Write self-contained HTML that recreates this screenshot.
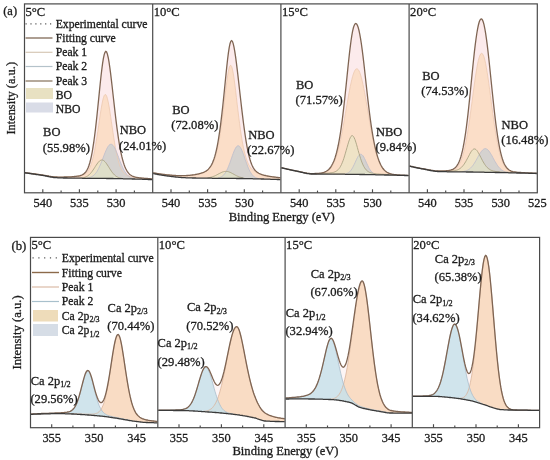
<!DOCTYPE html>
<html><head><meta charset="utf-8"><title>XPS spectra</title><style>
html,body{margin:0;padding:0;background:#fff;}
svg{display:block;}
text{font-family:'Liberation Serif', 'Times New Roman', serif;fill:#1c1c1c;stroke:#1c1c1c;stroke-width:0.3px;}
</style></head><body>
<svg width="550" height="460" viewBox="0 0 550 460">
<rect width="550" height="460" fill="#fff"/>
<clipPath id="tc0"><rect x="24.5" y="3.9" width="128.2" height="188.9"/></clipPath>
<g clip-path="url(#tc0)">
<path d="M25,172.6 25.8,172.7 26.6,172.8 27.4,172.9 28.2,173 29,173.1 29.8,173.2 30.6,173.4 31.4,173.5 32.2,173.6 33,173.7 33.8,173.8 34.6,173.9 35.4,174 36.2,174.1 37,174.2 37.8,174.3 38.6,174.4 39.4,174.6 40.2,174.7 41,174.8 41.8,174.9 42.6,175 43.4,175.1 44.2,175.3 45,175.4 45.8,175.6 46.6,175.7 47.4,175.9 48.2,176 49,176.2 49.8,176.3 50.6,176.4 51.4,176.6 52.2,176.7 53,176.8 53.8,176.9 54.6,176.9 55.4,177 56.2,177 57,177 57.8,177.1 58.6,177.1 59.4,177.1 60.2,177.1 61,177.1 61.8,177.1 62.6,177.1 63.4,177.1 64.2,177 65,177 65.8,177 66.6,177 67.4,177 68.2,176.9 69,176.9 69.8,176.9 70.6,176.8 71.4,176.8 72.2,176.7 73,176.7 73.8,176.6 74.6,176.5 75.4,176.4 76.2,176.3 77,176.2 77.8,176.1 78.6,176 79.4,175.8 80.2,175.6 81,175.3 81.8,175 82.6,174.6 83.4,174.1 84.2,173.5 85,172.8 85.8,171.8 86.6,170.6 87.4,169.2 88.2,167.4 89,165.3 89.8,162.7 90.6,159.6 91.4,156.1 92.2,152 93,147.2 93.8,141.9 94.6,136 95.4,129.6 96.2,122.6 97,115.2 97.8,107.5 98.6,99.6 99.4,91.6 100.2,83.8 101,76.3 101.8,69.5 102.6,63.4 103.4,58.4 104.2,54.6 105,52.3 105.8,51.4 106.6,52 107.4,54.1 108.2,57.5 109,61.9 109.8,67.3 110.6,73.4 111.4,80.1 112.2,87 113,94.2 113.8,101.3 114.6,108.4 115.4,115.3 116.2,121.9 117,128.1 117.8,133.9 118.6,139.3 119.4,144.3 120.2,148.8 121,152.8 121.8,156.4 122.6,159.6 123.4,162.4 124.2,164.9 125,167 125.8,168.8 126.6,170.3 127.4,171.6 128.2,172.7 129,173.6 129.8,174.4 130.6,175 131.4,175.5 132.2,176 133,176.3 133.8,176.6 134.6,176.9 135.4,177.1 136.2,177.3 137,177.4 137.8,177.6 138.6,177.7 139.4,177.8 140.2,177.9 141,178 141.8,178.1 142.6,178.1 143.4,178.2 144.2,178.3 145,178.3 145.8,178.4 146.6,178.5 147.4,178.5 148.2,178.6 149,178.6 149.8,178.7 150.6,178.8 151.4,178.8 152.2,178.9 152.2,179.6 151.4,179.6 150.6,179.5 149.8,179.5 149,179.5 148.2,179.5 147.4,179.4 146.6,179.4 145.8,179.4 145,179.3 144.2,179.3 143.4,179.3 142.6,179.3 141.8,179.2 141,179.2 140.2,179.2 139.4,179.2 138.6,179.2 137.8,179.1 137,179.1 136.2,179.1 135.4,179.1 134.6,179 133.8,179 133,179 132.2,179 131.4,178.9 130.6,178.9 129.8,178.9 129,178.9 128.2,178.9 127.4,178.8 126.6,178.8 125.8,178.8 125,178.8 124.2,178.8 123.4,178.8 122.6,178.7 121.8,178.7 121,178.7 120.2,178.7 119.4,178.7 118.6,178.6 117.8,178.6 117,178.6 116.2,178.6 115.4,178.6 114.6,178.6 113.8,178.6 113,178.5 112.2,178.5 111.4,178.5 110.6,178.5 109.8,178.5 109,178.5 108.2,178.5 107.4,178.5 106.6,178.5 105.8,178.4 105,178.4 104.2,178.4 103.4,178.4 102.6,178.4 101.8,178.4 101,178.4 100.2,178.4 99.4,178.4 98.6,178.4 97.8,178.4 97,178.4 96.2,178.4 95.4,178.3 94.6,178.3 93.8,178.3 93,178.3 92.2,178.3 91.4,178.3 90.6,178.3 89.8,178.3 89,178.3 88.2,178.3 87.4,178.3 86.6,178.3 85.8,178.3 85,178.3 84.2,178.3 83.4,178.3 82.6,178.3 81.8,178.2 81,178.2 80.2,178.2 79.4,178.2 78.6,178.2 77.8,178.2 77,178.2 76.2,178.2 75.4,178.2 74.6,178.2 73.8,178.2 73,178.1 72.2,178.1 71.4,178.1 70.6,178.1 69.8,178.1 69,178.1 68.2,178.1 67.4,178.1 66.6,178 65.8,178 65,178 64.2,178 63.4,178 62.6,177.9 61.8,177.9 61,177.9 60.2,177.9 59.4,177.8 58.6,177.8 57.8,177.8 57,177.7 56.2,177.7 55.4,177.6 54.6,177.6 53.8,177.5 53,177.4 52.2,177.2 51.4,177.1 50.6,177 49.8,176.8 49,176.7 48.2,176.5 47.4,176.3 46.6,176.2 45.8,176 45,175.9 44.2,175.7 43.4,175.6 42.6,175.4 41.8,175.3 41,175.2 40.2,175.1 39.4,174.9 38.6,174.8 37.8,174.7 37,174.6 36.2,174.5 35.4,174.3 34.6,174.2 33.8,174.1 33,174 32.2,173.9 31.4,173.8 30.6,173.6 29.8,173.5 29,173.4 28.2,173.3 27.4,173.2 26.6,173.1 25.8,173 25,172.9Z" fill="#fcebec"/>
<path d="M32.2,173.6 33,173.7 33.8,173.8 34.6,173.9 35.4,174 36.2,174.1 37,174.2 37.8,174.3 38.6,174.5 39.4,174.6 40.2,174.7 41,174.8 41.8,174.9 42.6,175 43.4,175.2 44.2,175.3 45,175.4 45.8,175.6 46.6,175.7 47.4,175.9 48.2,176 49,176.2 49.8,176.3 50.6,176.4 51.4,176.6 52.2,176.7 53,176.8 53.8,176.9 54.6,176.9 55.4,177 56.2,177 57,177.1 57.8,177.1 58.6,177.1 59.4,177.1 60.2,177.1 61,177.1 61.8,177.1 62.6,177.1 63.4,177.1 64.2,177.1 65,177 65.8,177 66.6,177 67.4,177 68.2,176.9 69,176.9 69.8,176.9 70.6,176.8 71.4,176.8 72.2,176.7 73,176.7 73.8,176.6 74.6,176.6 75.4,176.5 76.2,176.4 77,176.3 77.8,176.2 78.6,176.1 79.4,176 80.2,175.8 81,175.6 81.8,175.4 82.6,175.1 83.4,174.8 84.2,174.4 85,174 85.8,173.4 86.6,172.6 87.4,171.8 88.2,170.7 89,169.3 89.8,167.7 90.6,165.8 91.4,163.6 92.2,161 93,157.9 93.8,154.5 94.6,150.6 95.4,146.3 96.2,141.6 97,136.6 97.8,131.3 98.6,125.8 99.4,120.3 100.2,114.9 101,109.8 101.8,105.1 102.6,101 103.4,97.8 104.2,95.6 105,94.5 105.8,94.7 106.6,96 107.4,98.5 108.2,101.9 109,106.1 109.8,111 110.6,116.2 111.4,121.7 112.2,127.2 113,132.6 113.8,137.9 114.6,142.8 115.4,147.5 116.2,151.7 117,155.5 117.8,158.9 118.6,161.9 119.4,164.4 120.2,166.6 121,168.5 121.8,170.1 122.6,171.4 123.4,172.4 124.2,173.3 125,174 125.8,174.6 126.6,175.1 127.4,175.5 128.2,175.8 129,176.1 129.8,176.3 130.6,176.5 131.4,176.7 132.2,176.9 133,177 133.8,177.1 134.6,177.3 135.4,177.4 136.2,177.5 137,177.6 137.8,177.7 138.6,177.8 139.4,177.9 140.2,177.9 141,178 141.8,178.1 142.6,178.2 143.4,178.2 144.2,178.3 145,178.4 145.8,178.4 146.6,178.5 147.4,178.5 148.2,178.6 149,178.7 149.8,178.7 150.6,178.8 151.4,178.8 152.2,178.9 152.2,179.6 151.4,179.6 150.6,179.5 149.8,179.5 149,179.5 148.2,179.5 147.4,179.4 146.6,179.4 145.8,179.4 145,179.3 144.2,179.3 143.4,179.3 142.6,179.3 141.8,179.2 141,179.2 140.2,179.2 139.4,179.2 138.6,179.2 137.8,179.1 137,179.1 136.2,179.1 135.4,179.1 134.6,179 133.8,179 133,179 132.2,179 131.4,178.9 130.6,178.9 129.8,178.9 129,178.9 128.2,178.9 127.4,178.8 126.6,178.8 125.8,178.8 125,178.8 124.2,178.8 123.4,178.8 122.6,178.7 121.8,178.7 121,178.7 120.2,178.7 119.4,178.7 118.6,178.6 117.8,178.6 117,178.6 116.2,178.6 115.4,178.6 114.6,178.6 113.8,178.6 113,178.5 112.2,178.5 111.4,178.5 110.6,178.5 109.8,178.5 109,178.5 108.2,178.5 107.4,178.5 106.6,178.5 105.8,178.4 105,178.4 104.2,178.4 103.4,178.4 102.6,178.4 101.8,178.4 101,178.4 100.2,178.4 99.4,178.4 98.6,178.4 97.8,178.4 97,178.4 96.2,178.4 95.4,178.3 94.6,178.3 93.8,178.3 93,178.3 92.2,178.3 91.4,178.3 90.6,178.3 89.8,178.3 89,178.3 88.2,178.3 87.4,178.3 86.6,178.3 85.8,178.3 85,178.3 84.2,178.3 83.4,178.3 82.6,178.3 81.8,178.2 81,178.2 80.2,178.2 79.4,178.2 78.6,178.2 77.8,178.2 77,178.2 76.2,178.2 75.4,178.2 74.6,178.2 73.8,178.2 73,178.1 72.2,178.1 71.4,178.1 70.6,178.1 69.8,178.1 69,178.1 68.2,178.1 67.4,178.1 66.6,178 65.8,178 65,178 64.2,178 63.4,178 62.6,177.9 61.8,177.9 61,177.9 60.2,177.9 59.4,177.8 58.6,177.8 57.8,177.8 57,177.7 56.2,177.7 55.4,177.6 54.6,177.6 53.8,177.5 53,177.4 52.2,177.2 51.4,177.1 50.6,177 49.8,176.8 49,176.7 48.2,176.5 47.4,176.3 46.6,176.2 45.8,176 45,175.9 44.2,175.7 43.4,175.6 42.6,175.4 41.8,175.3 41,175.2 40.2,175.1 39.4,174.9 38.6,174.8 37.8,174.7 37,174.6 36.2,174.5 35.4,174.3 34.6,174.2 33.8,174.1 33,174 32.2,173.9Z" fill="#fbdec8"/>
<path d="M87.4,177.9 88.2,177.8 89,177.6 89.8,177.4 90.6,177.2 91.4,176.8 92.2,176.4 93,175.9 93.8,175.2 94.6,174.5 95.4,173.6 96.2,172.6 97,171.4 97.8,170.1 98.6,168.6 99.4,166.9 100.2,165.1 101,163.2 101.8,161.2 102.6,159.1 103.4,157 104.2,154.9 105,152.8 105.8,150.9 106.6,149.2 107.4,147.6 108.2,146.3 109,145.3 109.8,144.6 110.6,144.3 111.4,144.3 112.2,144.7 113,145.4 113.8,146.4 114.6,147.7 115.4,149.3 116.2,151.1 117,153.1 117.8,155.1 118.6,157.2 119.4,159.4 120.2,161.5 121,163.5 121.8,165.5 122.6,167.3 123.4,169 124.2,170.5 125,171.8 125.8,173 126.6,174.1 127.4,175 128.2,175.8 129,176.4 129.8,177 130.6,177.4 131.4,177.8 132.2,178.1 133,178.3 133.8,178.5 134.6,178.7 134.6,179 133.8,179 133,179 132.2,179 131.4,178.9 130.6,178.9 129.8,178.9 129,178.9 128.2,178.9 127.4,178.8 126.6,178.8 125.8,178.8 125,178.8 124.2,178.8 123.4,178.8 122.6,178.7 121.8,178.7 121,178.7 120.2,178.7 119.4,178.7 118.6,178.6 117.8,178.6 117,178.6 116.2,178.6 115.4,178.6 114.6,178.6 113.8,178.6 113,178.5 112.2,178.5 111.4,178.5 110.6,178.5 109.8,178.5 109,178.5 108.2,178.5 107.4,178.5 106.6,178.5 105.8,178.4 105,178.4 104.2,178.4 103.4,178.4 102.6,178.4 101.8,178.4 101,178.4 100.2,178.4 99.4,178.4 98.6,178.4 97.8,178.4 97,178.4 96.2,178.4 95.4,178.3 94.6,178.3 93.8,178.3 93,178.3 92.2,178.3 91.4,178.3 90.6,178.3 89.8,178.3 89,178.3 88.2,178.3 87.4,178.3Z" fill="rgba(200,206,210,0.75)"/>
<path d="M81.8,177.9 82.6,177.8 83.4,177.7 84.2,177.5 85,177.2 85.8,176.9 86.6,176.5 87.4,176.1 88.2,175.5 89,174.9 89.8,174.1 90.6,173.3 91.4,172.3 92.2,171.3 93,170.1 93.8,168.9 94.6,167.7 95.4,166.4 96.2,165.2 97,164 97.8,162.9 98.6,161.9 99.4,161.1 100.2,160.5 101,160.1 101.8,160 102.6,160.1 103.4,160.4 104.2,161 105,161.8 105.8,162.7 106.6,163.8 107.4,165 108.2,166.2 109,167.5 109.8,168.8 110.6,170 111.4,171.2 112.2,172.3 113,173.3 113.8,174.2 114.6,175 115.4,175.7 116.2,176.3 117,176.8 117.8,177.2 118.6,177.5 119.4,177.8 120.2,178 121,178.2 121.8,178.3 121.8,178.7 121,178.7 120.2,178.7 119.4,178.7 118.6,178.6 117.8,178.6 117,178.6 116.2,178.6 115.4,178.6 114.6,178.6 113.8,178.6 113,178.5 112.2,178.5 111.4,178.5 110.6,178.5 109.8,178.5 109,178.5 108.2,178.5 107.4,178.5 106.6,178.5 105.8,178.4 105,178.4 104.2,178.4 103.4,178.4 102.6,178.4 101.8,178.4 101,178.4 100.2,178.4 99.4,178.4 98.6,178.4 97.8,178.4 97,178.4 96.2,178.4 95.4,178.3 94.6,178.3 93.8,178.3 93,178.3 92.2,178.3 91.4,178.3 90.6,178.3 89.8,178.3 89,178.3 88.2,178.3 87.4,178.3 86.6,178.3 85.8,178.3 85,178.3 84.2,178.3 83.4,178.3 82.6,178.3 81.8,178.2Z" fill="rgba(230,232,196,0.55)"/>
<path d="M32.2,173.6 33,173.7 33.8,173.8 34.6,173.9 35.4,174 36.2,174.1 37,174.2 37.8,174.3 38.6,174.5 39.4,174.6 40.2,174.7 41,174.8 41.8,174.9 42.6,175 43.4,175.2 44.2,175.3 45,175.4 45.8,175.6 46.6,175.7 47.4,175.9 48.2,176 49,176.2 49.8,176.3 50.6,176.4 51.4,176.6 52.2,176.7 53,176.8 53.8,176.9 54.6,176.9 55.4,177 56.2,177 57,177.1 57.8,177.1 58.6,177.1 59.4,177.1 60.2,177.1 61,177.1 61.8,177.1 62.6,177.1 63.4,177.1 64.2,177.1 65,177 65.8,177 66.6,177 67.4,177 68.2,176.9 69,176.9 69.8,176.9 70.6,176.8 71.4,176.8 72.2,176.7 73,176.7 73.8,176.6 74.6,176.6 75.4,176.5 76.2,176.4 77,176.3 77.8,176.2 78.6,176.1 79.4,176 80.2,175.8 81,175.6 81.8,175.4 82.6,175.1 83.4,174.8 84.2,174.4 85,174 85.8,173.4 86.6,172.6 87.4,171.8 88.2,170.7 89,169.3 89.8,167.7 90.6,165.8 91.4,163.6 92.2,161 93,157.9 93.8,154.5 94.6,150.6 95.4,146.3 96.2,141.6 97,136.6 97.8,131.3 98.6,125.8 99.4,120.3 100.2,114.9 101,109.8 101.8,105.1 102.6,101 103.4,97.8 104.2,95.6 105,94.5 105.8,94.7 106.6,96 107.4,98.5 108.2,101.9 109,106.1 109.8,111 110.6,116.2 111.4,121.7 112.2,127.2 113,132.6 113.8,137.9 114.6,142.8 115.4,147.5 116.2,151.7 117,155.5 117.8,158.9 118.6,161.9 119.4,164.4 120.2,166.6 121,168.5 121.8,170.1 122.6,171.4 123.4,172.4 124.2,173.3 125,174 125.8,174.6 126.6,175.1 127.4,175.5 128.2,175.8 129,176.1 129.8,176.3 130.6,176.5 131.4,176.7 132.2,176.9 133,177 133.8,177.1 134.6,177.3 135.4,177.4 136.2,177.5 137,177.6 137.8,177.7 138.6,177.8 139.4,177.9 140.2,177.9 141,178 141.8,178.1 142.6,178.2 143.4,178.2 144.2,178.3 145,178.4 145.8,178.4 146.6,178.5 147.4,178.5 148.2,178.6 149,178.7 149.8,178.7 150.6,178.8 151.4,178.8 152.2,178.9" fill="none" stroke="#ecc9b0" stroke-width="0.8"/>
<path d="M87.4,177.9 88.2,177.8 89,177.6 89.8,177.4 90.6,177.2 91.4,176.8 92.2,176.4 93,175.9 93.8,175.2 94.6,174.5 95.4,173.6 96.2,172.6 97,171.4 97.8,170.1 98.6,168.6 99.4,166.9 100.2,165.1 101,163.2 101.8,161.2 102.6,159.1 103.4,157 104.2,154.9 105,152.8 105.8,150.9 106.6,149.2 107.4,147.6 108.2,146.3 109,145.3 109.8,144.6 110.6,144.3 111.4,144.3 112.2,144.7 113,145.4 113.8,146.4 114.6,147.7 115.4,149.3 116.2,151.1 117,153.1 117.8,155.1 118.6,157.2 119.4,159.4 120.2,161.5 121,163.5 121.8,165.5 122.6,167.3 123.4,169 124.2,170.5 125,171.8 125.8,173 126.6,174.1 127.4,175 128.2,175.8 129,176.4 129.8,177 130.6,177.4 131.4,177.8 132.2,178.1 133,178.3 133.8,178.5 134.6,178.7" fill="none" stroke="#bdbccb" stroke-width="0.8"/>
<path d="M81.8,177.9 82.6,177.8 83.4,177.7 84.2,177.5 85,177.2 85.8,176.9 86.6,176.5 87.4,176.1 88.2,175.5 89,174.9 89.8,174.1 90.6,173.3 91.4,172.3 92.2,171.3 93,170.1 93.8,168.9 94.6,167.7 95.4,166.4 96.2,165.2 97,164 97.8,162.9 98.6,161.9 99.4,161.1 100.2,160.5 101,160.1 101.8,160 102.6,160.1 103.4,160.4 104.2,161 105,161.8 105.8,162.7 106.6,163.8 107.4,165 108.2,166.2 109,167.5 109.8,168.8 110.6,170 111.4,171.2 112.2,172.3 113,173.3 113.8,174.2 114.6,175 115.4,175.7 116.2,176.3 117,176.8 117.8,177.2 118.6,177.5 119.4,177.8 120.2,178 121,178.2 121.8,178.3" fill="none" stroke="#aaa382" stroke-width="0.9"/>
<path d="M25,172.6 25.8,172.7 26.6,172.8 27.4,172.9 28.2,173 29,173.1 29.8,173.2 30.6,173.4 31.4,173.5 32.2,173.6 33,173.7 33.8,173.8 34.6,173.9 35.4,174 36.2,174.1 37,174.2 37.8,174.3 38.6,174.4 39.4,174.6 40.2,174.7 41,174.8 41.8,174.9 42.6,175 43.4,175.1 44.2,175.3 45,175.4 45.8,175.6 46.6,175.7 47.4,175.9 48.2,176 49,176.2 49.8,176.3 50.6,176.4 51.4,176.6 52.2,176.7 53,176.8 53.8,176.9 54.6,176.9 55.4,177 56.2,177 57,177 57.8,177.1 58.6,177.1 59.4,177.1 60.2,177.1 61,177.1 61.8,177.1 62.6,177.1 63.4,177.1 64.2,177 65,177 65.8,177 66.6,177 67.4,177 68.2,176.9 69,176.9 69.8,176.9 70.6,176.8 71.4,176.8 72.2,176.7 73,176.7 73.8,176.6 74.6,176.5 75.4,176.4 76.2,176.3 77,176.2 77.8,176.1 78.6,176 79.4,175.8 80.2,175.6 81,175.3 81.8,175 82.6,174.6 83.4,174.1 84.2,173.5 85,172.8 85.8,171.8 86.6,170.6 87.4,169.2 88.2,167.4 89,165.3 89.8,162.7 90.6,159.6 91.4,156.1 92.2,152 93,147.2 93.8,141.9 94.6,136 95.4,129.6 96.2,122.6 97,115.2 97.8,107.5 98.6,99.6 99.4,91.6 100.2,83.8 101,76.3 101.8,69.5 102.6,63.4 103.4,58.4 104.2,54.6 105,52.3 105.8,51.4 106.6,52 107.4,54.1 108.2,57.5 109,61.9 109.8,67.3 110.6,73.4 111.4,80.1 112.2,87 113,94.2 113.8,101.3 114.6,108.4 115.4,115.3 116.2,121.9 117,128.1 117.8,133.9 118.6,139.3 119.4,144.3 120.2,148.8 121,152.8 121.8,156.4 122.6,159.6 123.4,162.4 124.2,164.9 125,167 125.8,168.8 126.6,170.3 127.4,171.6 128.2,172.7 129,173.6 129.8,174.4 130.6,175 131.4,175.5 132.2,176 133,176.3 133.8,176.6 134.6,176.9 135.4,177.1 136.2,177.3 137,177.4 137.8,177.6 138.6,177.7 139.4,177.8 140.2,177.9 141,178 141.8,178.1 142.6,178.1 143.4,178.2 144.2,178.3 145,178.3 145.8,178.4 146.6,178.5 147.4,178.5 148.2,178.6 149,178.6 149.8,178.7 150.6,178.8 151.4,178.8 152.2,178.9" fill="none" stroke="#7f6553" stroke-width="1.3"/>
<path d="M25,172.9 25.8,173 26.6,173.1 27.4,173.2 28.2,173.3 29,173.4 29.8,173.5 30.6,173.6 31.4,173.8 32.2,173.9 33,174 33.8,174.1 34.6,174.2 35.4,174.3 36.2,174.5 37,174.6 37.8,174.7 38.6,174.8 39.4,174.9 40.2,175.1 41,175.2 41.8,175.3 42.6,175.4 43.4,175.6 44.2,175.7 45,175.9 45.8,176 46.6,176.2 47.4,176.3 48.2,176.5 49,176.7 49.8,176.8 50.6,177 51.4,177.1 52.2,177.2 53,177.4 53.8,177.5 54.6,177.6 55.4,177.6 56.2,177.7 57,177.7 57.8,177.8 58.6,177.8 59.4,177.8 60.2,177.9 61,177.9 61.8,177.9 62.6,177.9 63.4,178 64.2,178 65,178 65.8,178 66.6,178 67.4,178.1 68.2,178.1 69,178.1 69.8,178.1 70.6,178.1 71.4,178.1 72.2,178.1 73,178.1 73.8,178.2 74.6,178.2 75.4,178.2 76.2,178.2 77,178.2 77.8,178.2 78.6,178.2 79.4,178.2 80.2,178.2 81,178.2 81.8,178.2 82.6,178.3 83.4,178.3 84.2,178.3 85,178.3 85.8,178.3 86.6,178.3 87.4,178.3 88.2,178.3 89,178.3 89.8,178.3 90.6,178.3 91.4,178.3 92.2,178.3 93,178.3 93.8,178.3 94.6,178.3 95.4,178.3 96.2,178.4 97,178.4 97.8,178.4 98.6,178.4 99.4,178.4 100.2,178.4 101,178.4 101.8,178.4 102.6,178.4 103.4,178.4 104.2,178.4 105,178.4 105.8,178.4 106.6,178.5 107.4,178.5 108.2,178.5 109,178.5 109.8,178.5 110.6,178.5 111.4,178.5 112.2,178.5 113,178.5 113.8,178.6 114.6,178.6 115.4,178.6 116.2,178.6 117,178.6 117.8,178.6 118.6,178.6 119.4,178.7 120.2,178.7 121,178.7 121.8,178.7 122.6,178.7 123.4,178.8 124.2,178.8 125,178.8 125.8,178.8 126.6,178.8 127.4,178.8 128.2,178.9 129,178.9 129.8,178.9 130.6,178.9 131.4,178.9 132.2,179 133,179 133.8,179 134.6,179 135.4,179.1 136.2,179.1 137,179.1 137.8,179.1 138.6,179.2 139.4,179.2 140.2,179.2 141,179.2 141.8,179.2 142.6,179.3 143.4,179.3 144.2,179.3 145,179.3 145.8,179.4 146.6,179.4 147.4,179.4 148.2,179.5 149,179.5 149.8,179.5 150.6,179.5 151.4,179.6 152.2,179.6" fill="none" stroke="#3a3a3a" stroke-width="1.3"/>
</g>
<line x1="42.8" y1="192.8" x2="42.8" y2="189.3" stroke="#4a4a4a" stroke-width="1.15"/>
<text x="42.8" y="207.2" font-size="12.4" text-anchor="middle">540</text>
<line x1="61.1" y1="192.8" x2="61.1" y2="190.6" stroke="#4a4a4a" stroke-width="1.15"/>
<line x1="79.4" y1="192.8" x2="79.4" y2="189.3" stroke="#4a4a4a" stroke-width="1.15"/>
<text x="79.4" y="207.2" font-size="12.4" text-anchor="middle">535</text>
<line x1="97.8" y1="192.8" x2="97.8" y2="190.6" stroke="#4a4a4a" stroke-width="1.15"/>
<line x1="116.1" y1="192.8" x2="116.1" y2="189.3" stroke="#4a4a4a" stroke-width="1.15"/>
<text x="116.1" y="207.2" font-size="12.4" text-anchor="middle">530</text>
<line x1="134.4" y1="192.8" x2="134.4" y2="190.6" stroke="#4a4a4a" stroke-width="1.15"/>
<text x="25.5" y="15.6" font-size="12.6">5°C</text>
<clipPath id="tc1"><rect x="152.7" y="3.9" width="128.2" height="188.9"/></clipPath>
<g clip-path="url(#tc1)">
<path d="M153.2,172.8 154,172.9 154.8,173.1 155.6,173.2 156.4,173.3 157.2,173.5 158,173.6 158.8,173.7 159.6,173.9 160.4,174 161.2,174.1 162,174.2 162.8,174.3 163.6,174.4 164.4,174.5 165.2,174.6 166,174.7 166.8,174.8 167.6,174.9 168.4,175 169.2,175 170,175.1 170.8,175.2 171.6,175.2 172.4,175.3 173.2,175.4 174,175.4 174.8,175.5 175.6,175.5 176.4,175.6 177.2,175.6 178,175.6 178.8,175.7 179.6,175.7 180.4,175.7 181.2,175.7 182,175.7 182.8,175.7 183.6,175.7 184.4,175.6 185.2,175.6 186,175.6 186.8,175.5 187.6,175.5 188.4,175.4 189.2,175.3 190,175.3 190.8,175.2 191.6,175.1 192.4,175 193.2,174.9 194,174.8 194.8,174.7 195.6,174.5 196.4,174.4 197.2,174.2 198,174.1 198.8,173.9 199.6,173.7 200.4,173.5 201.2,173.2 202,173 202.8,172.7 203.6,172.3 204.4,172 205.2,171.5 206,171.1 206.8,170.5 207.6,169.9 208.4,169.1 209.2,168.2 210,167.2 210.8,166 211.6,164.6 212.4,163 213.2,161.1 214,158.9 214.8,156.4 215.6,153.4 216.4,150.1 217.2,146.3 218,142 218.8,137.2 219.6,131.9 220.4,126.1 221.2,119.7 222,112.9 222.8,105.7 223.6,98 224.4,90.2 225.2,82.2 226,74.2 226.8,66.5 227.6,59.3 228.4,52.9 229.2,47.7 230,43.7 230.8,41.4 231.6,40.6 232.4,41.3 233.2,43.6 234,47.1 234.8,51.6 235.6,56.9 236.4,62.9 237.2,69.4 238,76.1 238.8,83.1 239.6,90.2 240.4,97.2 241.2,104.2 242,111.1 242.8,117.7 243.6,124 244.4,129.9 245.2,135.5 246,140.6 246.8,145.3 247.6,149.5 248.4,153.3 249.2,156.6 250,159.5 250.8,162 251.6,164.2 252.4,166 253.2,167.6 254,168.9 254.8,170 255.6,170.9 256.4,171.6 257.2,172.3 258,172.8 258.8,173.3 259.6,173.7 260.4,174 261.2,174.3 262,174.6 262.8,174.8 263.6,175.1 264.4,175.3 265.2,175.5 266,175.7 266.8,175.8 267.6,176 268.4,176.1 269.2,176.3 270,176.4 270.8,176.6 271.6,176.7 272.4,176.8 273.2,176.9 274,177 274.8,177.1 275.6,177.2 276.4,177.3 277.2,177.4 278,177.5 278.8,177.6 279.6,177.7 280.4,177.8 280.4,179.6 279.6,179.6 278.8,179.5 278,179.5 277.2,179.5 276.4,179.4 275.6,179.4 274.8,179.4 274,179.4 273.2,179.3 272.4,179.3 271.6,179.3 270.8,179.3 270,179.2 269.2,179.2 268.4,179.2 267.6,179.2 266.8,179.1 266,179.1 265.2,179.1 264.4,179.1 263.6,179 262.8,179 262,179 261.2,179 260.4,178.9 259.6,178.9 258.8,178.9 258,178.9 257.2,178.9 256.4,178.8 255.6,178.8 254.8,178.8 254,178.8 253.2,178.8 252.4,178.7 251.6,178.7 250.8,178.7 250,178.7 249.2,178.7 248.4,178.6 247.6,178.6 246.8,178.6 246,178.6 245.2,178.6 244.4,178.6 243.6,178.6 242.8,178.5 242,178.5 241.2,178.5 240.4,178.5 239.6,178.5 238.8,178.5 238,178.5 237.2,178.5 236.4,178.5 235.6,178.4 234.8,178.4 234,178.4 233.2,178.4 232.4,178.4 231.6,178.4 230.8,178.4 230,178.4 229.2,178.4 228.4,178.4 227.6,178.4 226.8,178.4 226,178.4 225.2,178.3 224.4,178.3 223.6,178.3 222.8,178.3 222,178.3 221.2,178.3 220.4,178.3 219.6,178.3 218.8,178.3 218,178.3 217.2,178.3 216.4,178.3 215.6,178.3 214.8,178.3 214,178.3 213.2,178.3 212.4,178.3 211.6,178.2 210.8,178.2 210,178.2 209.2,178.2 208.4,178.2 207.6,178.2 206.8,178.2 206,178.2 205.2,178.2 204.4,178.2 203.6,178.2 202.8,178.2 202,178.1 201.2,178.1 200.4,178.1 199.6,178.1 198.8,178.1 198,178.1 197.2,178.1 196.4,178.1 195.6,178 194.8,178 194,178 193.2,178 192.4,178 191.6,177.9 190.8,177.9 190,177.9 189.2,177.9 188.4,177.9 187.6,177.8 186.8,177.8 186,177.8 185.2,177.7 184.4,177.7 183.6,177.7 182.8,177.6 182,177.6 181.2,177.5 180.4,177.4 179.6,177.4 178.8,177.3 178,177.2 177.2,177.2 176.4,177.1 175.6,177 174.8,176.9 174,176.8 173.2,176.7 172.4,176.6 171.6,176.5 170.8,176.4 170,176.3 169.2,176.2 168.4,176.1 167.6,176 166.8,175.9 166,175.8 165.2,175.7 164.4,175.6 163.6,175.4 162.8,175.3 162,175.2 161.2,175 160.4,174.9 159.6,174.8 158.8,174.6 158,174.5 157.2,174.3 156.4,174.2 155.6,174 154.8,173.8 154,173.7 153.2,173.5Z" fill="#fcebec"/>
<path d="M153.2,172.8 154,172.9 154.8,173.1 155.6,173.2 156.4,173.3 157.2,173.5 158,173.6 158.8,173.7 159.6,173.9 160.4,174 161.2,174.1 162,174.2 162.8,174.3 163.6,174.4 164.4,174.5 165.2,174.6 166,174.7 166.8,174.8 167.6,174.9 168.4,175 169.2,175 170,175.1 170.8,175.2 171.6,175.2 172.4,175.3 173.2,175.4 174,175.4 174.8,175.5 175.6,175.5 176.4,175.6 177.2,175.6 178,175.6 178.8,175.7 179.6,175.7 180.4,175.7 181.2,175.7 182,175.7 182.8,175.7 183.6,175.7 184.4,175.6 185.2,175.6 186,175.6 186.8,175.5 187.6,175.5 188.4,175.4 189.2,175.3 190,175.3 190.8,175.2 191.6,175.1 192.4,175 193.2,174.9 194,174.8 194.8,174.7 195.6,174.5 196.4,174.4 197.2,174.2 198,174.1 198.8,173.9 199.6,173.7 200.4,173.5 201.2,173.3 202,173 202.8,172.7 203.6,172.4 204.4,172.1 205.2,171.7 206,171.3 206.8,170.8 207.6,170.3 208.4,169.6 209.2,168.9 210,168 210.8,167 211.6,165.8 212.4,164.5 213.2,162.9 214,161 214.8,158.8 215.6,156.3 216.4,153.4 217.2,150.1 218,146.4 218.8,142.2 219.6,137.6 220.4,132.5 221.2,126.9 222,120.9 222.8,114.6 223.6,108 224.4,101.2 225.2,94.4 226,87.8 226.8,81.5 227.6,75.9 228.4,71.2 229.2,67.8 230,65.7 230.8,65.3 231.6,66.4 232.4,69.1 233.2,73.1 234,78.2 234.8,84.1 235.6,90.6 236.4,97.3 237.2,104.2 238,110.9 238.8,117.5 239.6,123.7 240.4,129.5 241.2,134.9 242,139.8 242.8,144.3 243.6,148.3 244.4,151.9 245.2,155 246,157.7 246.8,160.1 247.6,162.2 248.4,164 249.2,165.5 250,166.8 250.8,167.9 251.6,168.9 252.4,169.7 253.2,170.4 254,171.1 254.8,171.6 255.6,172.1 256.4,172.5 257.2,172.9 258,173.3 258.8,173.6 259.6,173.9 260.4,174.2 261.2,174.4 262,174.7 262.8,174.9 263.6,175.1 264.4,175.3 265.2,175.5 266,175.7 266.8,175.8 267.6,176 268.4,176.1 269.2,176.3 270,176.4 270.8,176.6 271.6,176.7 272.4,176.8 273.2,176.9 274,177 274.8,177.1 275.6,177.2 276.4,177.3 277.2,177.4 278,177.5 278.8,177.6 279.6,177.7 280.4,177.8 280.4,179.6 279.6,179.6 278.8,179.5 278,179.5 277.2,179.5 276.4,179.4 275.6,179.4 274.8,179.4 274,179.4 273.2,179.3 272.4,179.3 271.6,179.3 270.8,179.3 270,179.2 269.2,179.2 268.4,179.2 267.6,179.2 266.8,179.1 266,179.1 265.2,179.1 264.4,179.1 263.6,179 262.8,179 262,179 261.2,179 260.4,178.9 259.6,178.9 258.8,178.9 258,178.9 257.2,178.9 256.4,178.8 255.6,178.8 254.8,178.8 254,178.8 253.2,178.8 252.4,178.7 251.6,178.7 250.8,178.7 250,178.7 249.2,178.7 248.4,178.6 247.6,178.6 246.8,178.6 246,178.6 245.2,178.6 244.4,178.6 243.6,178.6 242.8,178.5 242,178.5 241.2,178.5 240.4,178.5 239.6,178.5 238.8,178.5 238,178.5 237.2,178.5 236.4,178.5 235.6,178.4 234.8,178.4 234,178.4 233.2,178.4 232.4,178.4 231.6,178.4 230.8,178.4 230,178.4 229.2,178.4 228.4,178.4 227.6,178.4 226.8,178.4 226,178.4 225.2,178.3 224.4,178.3 223.6,178.3 222.8,178.3 222,178.3 221.2,178.3 220.4,178.3 219.6,178.3 218.8,178.3 218,178.3 217.2,178.3 216.4,178.3 215.6,178.3 214.8,178.3 214,178.3 213.2,178.3 212.4,178.3 211.6,178.2 210.8,178.2 210,178.2 209.2,178.2 208.4,178.2 207.6,178.2 206.8,178.2 206,178.2 205.2,178.2 204.4,178.2 203.6,178.2 202.8,178.2 202,178.1 201.2,178.1 200.4,178.1 199.6,178.1 198.8,178.1 198,178.1 197.2,178.1 196.4,178.1 195.6,178 194.8,178 194,178 193.2,178 192.4,178 191.6,177.9 190.8,177.9 190,177.9 189.2,177.9 188.4,177.9 187.6,177.8 186.8,177.8 186,177.8 185.2,177.7 184.4,177.7 183.6,177.7 182.8,177.6 182,177.6 181.2,177.5 180.4,177.4 179.6,177.4 178.8,177.3 178,177.2 177.2,177.2 176.4,177.1 175.6,177 174.8,176.9 174,176.8 173.2,176.7 172.4,176.6 171.6,176.5 170.8,176.4 170,176.3 169.2,176.2 168.4,176.1 167.6,176 166.8,175.9 166,175.8 165.2,175.7 164.4,175.6 163.6,175.4 162.8,175.3 162,175.2 161.2,175 160.4,174.9 159.6,174.8 158.8,174.6 158,174.5 157.2,174.3 156.4,174.2 155.6,174 154.8,173.8 154,173.7 153.2,173.5Z" fill="#fbdec8"/>
<path d="M218,177.9 218.8,177.7 219.6,177.5 220.4,177.2 221.2,176.9 222,176.4 222.8,175.8 223.6,175.1 224.4,174.1 225.2,173.1 226,171.8 226.8,170.3 227.6,168.6 228.4,166.7 229.2,164.7 230,162.5 230.8,160.2 231.6,157.9 232.4,155.6 233.2,153.4 234,151.3 234.8,149.5 235.6,148 236.4,146.8 237.2,146.1 238,145.7 238.8,145.9 239.6,146.4 240.4,147.5 241.2,148.8 242,150.6 242.8,152.5 243.6,154.7 244.4,157 245.2,159.4 246,161.7 246.8,163.9 247.6,166.1 248.4,168.1 249.2,169.9 250,171.5 250.8,172.8 251.6,174 252.4,175.1 253.2,175.9 254,176.6 254.8,177.1 255.6,177.6 256.4,177.9 257.2,178.2 258,178.4 258.8,178.6 258.8,178.9 258,178.9 257.2,178.9 256.4,178.8 255.6,178.8 254.8,178.8 254,178.8 253.2,178.8 252.4,178.7 251.6,178.7 250.8,178.7 250,178.7 249.2,178.7 248.4,178.6 247.6,178.6 246.8,178.6 246,178.6 245.2,178.6 244.4,178.6 243.6,178.6 242.8,178.5 242,178.5 241.2,178.5 240.4,178.5 239.6,178.5 238.8,178.5 238,178.5 237.2,178.5 236.4,178.5 235.6,178.4 234.8,178.4 234,178.4 233.2,178.4 232.4,178.4 231.6,178.4 230.8,178.4 230,178.4 229.2,178.4 228.4,178.4 227.6,178.4 226.8,178.4 226,178.4 225.2,178.3 224.4,178.3 223.6,178.3 222.8,178.3 222,178.3 221.2,178.3 220.4,178.3 219.6,178.3 218.8,178.3 218,178.3Z" fill="rgba(200,206,210,0.75)"/>
<path d="M207.6,177.8 208.4,177.7 209.2,177.6 210,177.4 210.8,177.3 211.6,177.1 212.4,176.8 213.2,176.5 214,176.2 214.8,175.9 215.6,175.5 216.4,175.1 217.2,174.7 218,174.2 218.8,173.8 219.6,173.4 220.4,173 221.2,172.6 222,172.2 222.8,171.9 223.6,171.7 224.4,171.5 225.2,171.4 226,171.4 226.8,171.4 227.6,171.5 228.4,171.7 229.2,172 230,172.3 230.8,172.6 231.6,173.1 232.4,173.5 233.2,173.9 234,174.4 234.8,174.8 235.6,175.3 236.4,175.7 237.2,176.1 238,176.4 238.8,176.8 239.6,177.1 240.4,177.3 241.2,177.5 242,177.7 242.8,177.9 243.6,178.1 244.4,178.2 244.4,178.6 243.6,178.6 242.8,178.5 242,178.5 241.2,178.5 240.4,178.5 239.6,178.5 238.8,178.5 238,178.5 237.2,178.5 236.4,178.5 235.6,178.4 234.8,178.4 234,178.4 233.2,178.4 232.4,178.4 231.6,178.4 230.8,178.4 230,178.4 229.2,178.4 228.4,178.4 227.6,178.4 226.8,178.4 226,178.4 225.2,178.3 224.4,178.3 223.6,178.3 222.8,178.3 222,178.3 221.2,178.3 220.4,178.3 219.6,178.3 218.8,178.3 218,178.3 217.2,178.3 216.4,178.3 215.6,178.3 214.8,178.3 214,178.3 213.2,178.3 212.4,178.3 211.6,178.2 210.8,178.2 210,178.2 209.2,178.2 208.4,178.2 207.6,178.2Z" fill="rgba(230,232,196,0.55)"/>
<path d="M153.2,172.8 154,172.9 154.8,173.1 155.6,173.2 156.4,173.3 157.2,173.5 158,173.6 158.8,173.7 159.6,173.9 160.4,174 161.2,174.1 162,174.2 162.8,174.3 163.6,174.4 164.4,174.5 165.2,174.6 166,174.7 166.8,174.8 167.6,174.9 168.4,175 169.2,175 170,175.1 170.8,175.2 171.6,175.2 172.4,175.3 173.2,175.4 174,175.4 174.8,175.5 175.6,175.5 176.4,175.6 177.2,175.6 178,175.6 178.8,175.7 179.6,175.7 180.4,175.7 181.2,175.7 182,175.7 182.8,175.7 183.6,175.7 184.4,175.6 185.2,175.6 186,175.6 186.8,175.5 187.6,175.5 188.4,175.4 189.2,175.3 190,175.3 190.8,175.2 191.6,175.1 192.4,175 193.2,174.9 194,174.8 194.8,174.7 195.6,174.5 196.4,174.4 197.2,174.2 198,174.1 198.8,173.9 199.6,173.7 200.4,173.5 201.2,173.3 202,173 202.8,172.7 203.6,172.4 204.4,172.1 205.2,171.7 206,171.3 206.8,170.8 207.6,170.3 208.4,169.6 209.2,168.9 210,168 210.8,167 211.6,165.8 212.4,164.5 213.2,162.9 214,161 214.8,158.8 215.6,156.3 216.4,153.4 217.2,150.1 218,146.4 218.8,142.2 219.6,137.6 220.4,132.5 221.2,126.9 222,120.9 222.8,114.6 223.6,108 224.4,101.2 225.2,94.4 226,87.8 226.8,81.5 227.6,75.9 228.4,71.2 229.2,67.8 230,65.7 230.8,65.3 231.6,66.4 232.4,69.1 233.2,73.1 234,78.2 234.8,84.1 235.6,90.6 236.4,97.3 237.2,104.2 238,110.9 238.8,117.5 239.6,123.7 240.4,129.5 241.2,134.9 242,139.8 242.8,144.3 243.6,148.3 244.4,151.9 245.2,155 246,157.7 246.8,160.1 247.6,162.2 248.4,164 249.2,165.5 250,166.8 250.8,167.9 251.6,168.9 252.4,169.7 253.2,170.4 254,171.1 254.8,171.6 255.6,172.1 256.4,172.5 257.2,172.9 258,173.3 258.8,173.6 259.6,173.9 260.4,174.2 261.2,174.4 262,174.7 262.8,174.9 263.6,175.1 264.4,175.3 265.2,175.5 266,175.7 266.8,175.8 267.6,176 268.4,176.1 269.2,176.3 270,176.4 270.8,176.6 271.6,176.7 272.4,176.8 273.2,176.9 274,177 274.8,177.1 275.6,177.2 276.4,177.3 277.2,177.4 278,177.5 278.8,177.6 279.6,177.7 280.4,177.8" fill="none" stroke="#ecc9b0" stroke-width="0.8"/>
<path d="M218,177.9 218.8,177.7 219.6,177.5 220.4,177.2 221.2,176.9 222,176.4 222.8,175.8 223.6,175.1 224.4,174.1 225.2,173.1 226,171.8 226.8,170.3 227.6,168.6 228.4,166.7 229.2,164.7 230,162.5 230.8,160.2 231.6,157.9 232.4,155.6 233.2,153.4 234,151.3 234.8,149.5 235.6,148 236.4,146.8 237.2,146.1 238,145.7 238.8,145.9 239.6,146.4 240.4,147.5 241.2,148.8 242,150.6 242.8,152.5 243.6,154.7 244.4,157 245.2,159.4 246,161.7 246.8,163.9 247.6,166.1 248.4,168.1 249.2,169.9 250,171.5 250.8,172.8 251.6,174 252.4,175.1 253.2,175.9 254,176.6 254.8,177.1 255.6,177.6 256.4,177.9 257.2,178.2 258,178.4 258.8,178.6" fill="none" stroke="#bdbccb" stroke-width="0.8"/>
<path d="M207.6,177.8 208.4,177.7 209.2,177.6 210,177.4 210.8,177.3 211.6,177.1 212.4,176.8 213.2,176.5 214,176.2 214.8,175.9 215.6,175.5 216.4,175.1 217.2,174.7 218,174.2 218.8,173.8 219.6,173.4 220.4,173 221.2,172.6 222,172.2 222.8,171.9 223.6,171.7 224.4,171.5 225.2,171.4 226,171.4 226.8,171.4 227.6,171.5 228.4,171.7 229.2,172 230,172.3 230.8,172.6 231.6,173.1 232.4,173.5 233.2,173.9 234,174.4 234.8,174.8 235.6,175.3 236.4,175.7 237.2,176.1 238,176.4 238.8,176.8 239.6,177.1 240.4,177.3 241.2,177.5 242,177.7 242.8,177.9 243.6,178.1 244.4,178.2" fill="none" stroke="#aaa382" stroke-width="0.9"/>
<path d="M153.2,172.8 154,172.9 154.8,173.1 155.6,173.2 156.4,173.3 157.2,173.5 158,173.6 158.8,173.7 159.6,173.9 160.4,174 161.2,174.1 162,174.2 162.8,174.3 163.6,174.4 164.4,174.5 165.2,174.6 166,174.7 166.8,174.8 167.6,174.9 168.4,175 169.2,175 170,175.1 170.8,175.2 171.6,175.2 172.4,175.3 173.2,175.4 174,175.4 174.8,175.5 175.6,175.5 176.4,175.6 177.2,175.6 178,175.6 178.8,175.7 179.6,175.7 180.4,175.7 181.2,175.7 182,175.7 182.8,175.7 183.6,175.7 184.4,175.6 185.2,175.6 186,175.6 186.8,175.5 187.6,175.5 188.4,175.4 189.2,175.3 190,175.3 190.8,175.2 191.6,175.1 192.4,175 193.2,174.9 194,174.8 194.8,174.7 195.6,174.5 196.4,174.4 197.2,174.2 198,174.1 198.8,173.9 199.6,173.7 200.4,173.5 201.2,173.2 202,173 202.8,172.7 203.6,172.3 204.4,172 205.2,171.5 206,171.1 206.8,170.5 207.6,169.9 208.4,169.1 209.2,168.2 210,167.2 210.8,166 211.6,164.6 212.4,163 213.2,161.1 214,158.9 214.8,156.4 215.6,153.4 216.4,150.1 217.2,146.3 218,142 218.8,137.2 219.6,131.9 220.4,126.1 221.2,119.7 222,112.9 222.8,105.7 223.6,98 224.4,90.2 225.2,82.2 226,74.2 226.8,66.5 227.6,59.3 228.4,52.9 229.2,47.7 230,43.7 230.8,41.4 231.6,40.6 232.4,41.3 233.2,43.6 234,47.1 234.8,51.6 235.6,56.9 236.4,62.9 237.2,69.4 238,76.1 238.8,83.1 239.6,90.2 240.4,97.2 241.2,104.2 242,111.1 242.8,117.7 243.6,124 244.4,129.9 245.2,135.5 246,140.6 246.8,145.3 247.6,149.5 248.4,153.3 249.2,156.6 250,159.5 250.8,162 251.6,164.2 252.4,166 253.2,167.6 254,168.9 254.8,170 255.6,170.9 256.4,171.6 257.2,172.3 258,172.8 258.8,173.3 259.6,173.7 260.4,174 261.2,174.3 262,174.6 262.8,174.8 263.6,175.1 264.4,175.3 265.2,175.5 266,175.7 266.8,175.8 267.6,176 268.4,176.1 269.2,176.3 270,176.4 270.8,176.6 271.6,176.7 272.4,176.8 273.2,176.9 274,177 274.8,177.1 275.6,177.2 276.4,177.3 277.2,177.4 278,177.5 278.8,177.6 279.6,177.7 280.4,177.8" fill="none" stroke="#7f6553" stroke-width="1.3"/>
<path d="M153.2,173.5 154,173.7 154.8,173.8 155.6,174 156.4,174.2 157.2,174.3 158,174.5 158.8,174.6 159.6,174.8 160.4,174.9 161.2,175 162,175.2 162.8,175.3 163.6,175.4 164.4,175.6 165.2,175.7 166,175.8 166.8,175.9 167.6,176 168.4,176.1 169.2,176.2 170,176.3 170.8,176.4 171.6,176.5 172.4,176.6 173.2,176.7 174,176.8 174.8,176.9 175.6,177 176.4,177.1 177.2,177.2 178,177.2 178.8,177.3 179.6,177.4 180.4,177.4 181.2,177.5 182,177.6 182.8,177.6 183.6,177.7 184.4,177.7 185.2,177.7 186,177.8 186.8,177.8 187.6,177.8 188.4,177.9 189.2,177.9 190,177.9 190.8,177.9 191.6,177.9 192.4,178 193.2,178 194,178 194.8,178 195.6,178 196.4,178.1 197.2,178.1 198,178.1 198.8,178.1 199.6,178.1 200.4,178.1 201.2,178.1 202,178.1 202.8,178.2 203.6,178.2 204.4,178.2 205.2,178.2 206,178.2 206.8,178.2 207.6,178.2 208.4,178.2 209.2,178.2 210,178.2 210.8,178.2 211.6,178.2 212.4,178.3 213.2,178.3 214,178.3 214.8,178.3 215.6,178.3 216.4,178.3 217.2,178.3 218,178.3 218.8,178.3 219.6,178.3 220.4,178.3 221.2,178.3 222,178.3 222.8,178.3 223.6,178.3 224.4,178.3 225.2,178.3 226,178.4 226.8,178.4 227.6,178.4 228.4,178.4 229.2,178.4 230,178.4 230.8,178.4 231.6,178.4 232.4,178.4 233.2,178.4 234,178.4 234.8,178.4 235.6,178.4 236.4,178.5 237.2,178.5 238,178.5 238.8,178.5 239.6,178.5 240.4,178.5 241.2,178.5 242,178.5 242.8,178.5 243.6,178.6 244.4,178.6 245.2,178.6 246,178.6 246.8,178.6 247.6,178.6 248.4,178.6 249.2,178.7 250,178.7 250.8,178.7 251.6,178.7 252.4,178.7 253.2,178.8 254,178.8 254.8,178.8 255.6,178.8 256.4,178.8 257.2,178.9 258,178.9 258.8,178.9 259.6,178.9 260.4,178.9 261.2,179 262,179 262.8,179 263.6,179 264.4,179.1 265.2,179.1 266,179.1 266.8,179.1 267.6,179.2 268.4,179.2 269.2,179.2 270,179.2 270.8,179.3 271.6,179.3 272.4,179.3 273.2,179.3 274,179.4 274.8,179.4 275.6,179.4 276.4,179.4 277.2,179.5 278,179.5 278.8,179.5 279.6,179.6 280.4,179.6" fill="none" stroke="#3a3a3a" stroke-width="1.3"/>
</g>
<line x1="171" y1="192.8" x2="171" y2="189.3" stroke="#4a4a4a" stroke-width="1.15"/>
<text x="171" y="207.2" font-size="12.4" text-anchor="middle">540</text>
<line x1="189.3" y1="192.8" x2="189.3" y2="190.6" stroke="#4a4a4a" stroke-width="1.15"/>
<line x1="207.6" y1="192.8" x2="207.6" y2="189.3" stroke="#4a4a4a" stroke-width="1.15"/>
<text x="207.6" y="207.2" font-size="12.4" text-anchor="middle">535</text>
<line x1="226" y1="192.8" x2="226" y2="190.6" stroke="#4a4a4a" stroke-width="1.15"/>
<line x1="244.3" y1="192.8" x2="244.3" y2="189.3" stroke="#4a4a4a" stroke-width="1.15"/>
<text x="244.3" y="207.2" font-size="12.4" text-anchor="middle">530</text>
<line x1="262.6" y1="192.8" x2="262.6" y2="190.6" stroke="#4a4a4a" stroke-width="1.15"/>
<text x="153.7" y="15.6" font-size="12.6">10°C</text>
<clipPath id="tc2"><rect x="280.9" y="3.9" width="128.2" height="188.9"/></clipPath>
<g clip-path="url(#tc2)">
<path d="M281.4,167.7 282.2,167.9 283,168.1 283.8,168.2 284.6,168.4 285.4,168.6 286.2,168.8 287,169 287.8,169.1 288.6,169.3 289.4,169.5 290.2,169.6 291,169.8 291.8,170 292.6,170.1 293.4,170.3 294.2,170.5 295,170.6 295.8,170.8 296.6,170.9 297.4,171.1 298.2,171.3 299,171.5 299.8,171.6 300.6,171.8 301.4,172 302.2,172.2 303,172.4 303.8,172.6 304.6,172.7 305.4,172.9 306.2,173 307,173.2 307.8,173.3 308.6,173.4 309.4,173.5 310.2,173.6 311,173.6 311.8,173.6 312.6,173.6 313.4,173.6 314.2,173.6 315,173.5 315.8,173.5 316.6,173.5 317.4,173.4 318.2,173.4 319,173.3 319.8,173.2 320.6,173.1 321.4,173 322.2,172.8 323,172.6 323.8,172.4 324.6,172.1 325.4,171.7 326.2,171.3 327,170.8 327.8,170.2 328.6,169.5 329.4,168.7 330.2,167.8 331,166.6 331.8,165.3 332.6,163.8 333.4,162.1 334.2,160.2 335,157.9 335.8,155.3 336.6,152.4 337.4,149.1 338.2,145.5 339,141.4 339.8,136.8 340.6,131.8 341.4,126.3 342.2,120.3 343,113.9 343.8,107 344.6,99.8 345.4,92.3 346.2,84.6 347,76.7 347.8,68.9 348.6,61.3 349.4,53.9 350.2,47.1 351,41 351.8,35.6 352.6,31.2 353.4,27.8 354.2,25.4 355,24 355.8,23.5 356.6,24 357.4,25.3 358.2,27.5 359,30.5 359.8,34.3 360.6,38.8 361.4,44 362.2,49.8 363,56.2 363.8,62.9 364.6,70 365.4,77.3 366.2,84.6 367,91.8 367.8,98.9 368.6,105.7 369.4,112.2 370.2,118.3 371,124.1 371.8,129.4 372.6,134.4 373.4,138.9 374.2,143 375,146.8 375.8,150.2 376.6,153.3 377.4,156.1 378.2,158.6 379,160.8 379.8,162.7 380.6,164.5 381.4,166 382.2,167.3 383,168.5 383.8,169.5 384.6,170.4 385.4,171.1 386.2,171.7 387,172.3 387.8,172.7 388.6,173.1 389.4,173.5 390.2,173.7 391,174 391.8,174.1 392.6,174.3 393.4,174.4 394.2,174.6 395,174.7 395.8,174.7 396.6,174.8 397.4,174.9 398.2,174.9 399,175 399.8,175 400.6,175.1 401.4,175.1 402.2,175.1 403,175.2 403.8,175.2 404.6,175.2 405.4,175.3 406.2,175.3 407,175.3 407.8,175.4 408.6,175.4 408.6,175.6 407.8,175.6 407,175.5 406.2,175.5 405.4,175.5 404.6,175.5 403.8,175.4 403,175.4 402.2,175.4 401.4,175.4 400.6,175.4 399.8,175.3 399,175.3 398.2,175.3 397.4,175.3 396.6,175.2 395.8,175.2 395,175.2 394.2,175.2 393.4,175.2 392.6,175.1 391.8,175.1 391,175.1 390.2,175.1 389.4,175.1 388.6,175 387.8,175 387,175 386.2,175 385.4,175 384.6,175 383.8,174.9 383,174.9 382.2,174.9 381.4,174.9 380.6,174.9 379.8,174.8 379,174.8 378.2,174.8 377.4,174.8 376.6,174.8 375.8,174.8 375,174.7 374.2,174.7 373.4,174.7 372.6,174.7 371.8,174.7 371,174.7 370.2,174.6 369.4,174.6 368.6,174.6 367.8,174.6 367,174.6 366.2,174.6 365.4,174.6 364.6,174.5 363.8,174.5 363,174.5 362.2,174.5 361.4,174.5 360.6,174.5 359.8,174.5 359,174.4 358.2,174.4 357.4,174.4 356.6,174.4 355.8,174.4 355,174.4 354.2,174.4 353.4,174.4 352.6,174.4 351.8,174.3 351,174.3 350.2,174.3 349.4,174.3 348.6,174.3 347.8,174.3 347,174.3 346.2,174.3 345.4,174.3 344.6,174.2 343.8,174.2 343,174.2 342.2,174.2 341.4,174.2 340.6,174.2 339.8,174.2 339,174.2 338.2,174.2 337.4,174.2 336.6,174.2 335.8,174.2 335,174.2 334.2,174.2 333.4,174.2 332.6,174.1 331.8,174.1 331,174.1 330.2,174.1 329.4,174.1 328.6,174.1 327.8,174.1 327,174.1 326.2,174.1 325.4,174.1 324.6,174.1 323.8,174.1 323,174.1 322.2,174.1 321.4,174.1 320.6,174.1 319.8,174.1 319,174.1 318.2,174.1 317.4,174.1 316.6,174.1 315.8,174 315,174 314.2,174 313.4,174 312.6,174 311.8,174 311,174 310.2,173.9 309.4,173.8 308.6,173.7 307.8,173.6 307,173.5 306.2,173.3 305.4,173.2 304.6,173 303.8,172.8 303,172.6 302.2,172.4 301.4,172.3 300.6,172.1 299.8,171.9 299,171.7 298.2,171.5 297.4,171.3 296.6,171.1 295.8,171 295,170.8 294.2,170.6 293.4,170.5 292.6,170.3 291.8,170.1 291,170 290.2,169.8 289.4,169.6 288.6,169.4 287.8,169.3 287,169.1 286.2,168.9 285.4,168.7 284.6,168.6 283.8,168.4 283,168.2 282.2,168 281.4,167.8Z" fill="#fcebec"/>
<path d="M319.8,173.8 320.6,173.7 321.4,173.6 322.2,173.5 323,173.3 323.8,173.1 324.6,172.8 325.4,172.5 326.2,172.2 327,171.7 327.8,171.2 328.6,170.6 329.4,169.8 330.2,169 331,168 331.8,166.8 332.6,165.5 333.4,163.9 334.2,162.2 335,160.3 335.8,158.1 336.6,155.7 337.4,153 338.2,150.1 339,146.9 339.8,143.5 340.6,139.8 341.4,135.9 342.2,131.8 343,127.4 343.8,123 344.6,118.4 345.4,113.7 346.2,109 347,104.3 347.8,99.7 348.6,95.2 349.4,90.8 350.2,86.7 351,83 351.8,79.5 352.6,76.5 353.4,73.9 354.2,71.8 355,70.2 355.8,69.2 356.6,68.8 357.4,68.9 358.2,69.6 359,70.8 359.8,72.6 360.6,74.9 361.4,77.7 362.2,80.9 363,84.5 363.8,88.4 364.6,92.6 365.4,97.1 366.2,101.6 367,106.3 367.8,111.1 368.6,115.8 369.4,120.5 370.2,125 371,129.5 371.8,133.8 372.6,137.8 373.4,141.7 374.2,145.3 375,148.6 375.8,151.7 376.6,154.6 377.4,157.2 378.2,159.5 379,161.7 379.8,163.5 380.6,165.2 381.4,166.7 382.2,168 383,169.1 383.8,170.1 384.6,170.9 385.4,171.6 386.2,172.3 387,172.8 387.8,173.2 388.6,173.6 389.4,173.9 390.2,174.1 391,174.4 391.8,174.5 392.6,174.7 393.4,174.8 393.4,175.2 392.6,175.1 391.8,175.1 391,175.1 390.2,175.1 389.4,175.1 388.6,175 387.8,175 387,175 386.2,175 385.4,175 384.6,175 383.8,174.9 383,174.9 382.2,174.9 381.4,174.9 380.6,174.9 379.8,174.8 379,174.8 378.2,174.8 377.4,174.8 376.6,174.8 375.8,174.8 375,174.7 374.2,174.7 373.4,174.7 372.6,174.7 371.8,174.7 371,174.7 370.2,174.6 369.4,174.6 368.6,174.6 367.8,174.6 367,174.6 366.2,174.6 365.4,174.6 364.6,174.5 363.8,174.5 363,174.5 362.2,174.5 361.4,174.5 360.6,174.5 359.8,174.5 359,174.4 358.2,174.4 357.4,174.4 356.6,174.4 355.8,174.4 355,174.4 354.2,174.4 353.4,174.4 352.6,174.4 351.8,174.3 351,174.3 350.2,174.3 349.4,174.3 348.6,174.3 347.8,174.3 347,174.3 346.2,174.3 345.4,174.3 344.6,174.2 343.8,174.2 343,174.2 342.2,174.2 341.4,174.2 340.6,174.2 339.8,174.2 339,174.2 338.2,174.2 337.4,174.2 336.6,174.2 335.8,174.2 335,174.2 334.2,174.2 333.4,174.2 332.6,174.1 331.8,174.1 331,174.1 330.2,174.1 329.4,174.1 328.6,174.1 327.8,174.1 327,174.1 326.2,174.1 325.4,174.1 324.6,174.1 323.8,174.1 323,174.1 322.2,174.1 321.4,174.1 320.6,174.1 319.8,174.1Z" fill="#fbdec8"/>
<path d="M345.4,173.9 346.2,173.7 347,173.4 347.8,173.1 348.6,172.6 349.4,172 350.2,171.2 351,170.2 351.8,169.1 352.6,167.7 353.4,166.2 354.2,164.6 355,162.8 355.8,161 356.6,159.3 357.4,157.7 358.2,156.3 359,155.3 359.8,154.6 360.6,154.2 361.4,154.4 362.2,154.9 363,155.8 363.8,157.1 364.6,158.6 365.4,160.3 366.2,162.1 367,163.9 367.8,165.6 368.6,167.3 369.4,168.7 370.2,170 371,171.1 371.8,172 372.6,172.7 373.4,173.3 374.2,173.7 375,174 375.8,174.3 376.6,174.5 376.6,174.8 375.8,174.8 375,174.7 374.2,174.7 373.4,174.7 372.6,174.7 371.8,174.7 371,174.7 370.2,174.6 369.4,174.6 368.6,174.6 367.8,174.6 367,174.6 366.2,174.6 365.4,174.6 364.6,174.5 363.8,174.5 363,174.5 362.2,174.5 361.4,174.5 360.6,174.5 359.8,174.5 359,174.4 358.2,174.4 357.4,174.4 356.6,174.4 355.8,174.4 355,174.4 354.2,174.4 353.4,174.4 352.6,174.4 351.8,174.3 351,174.3 350.2,174.3 349.4,174.3 348.6,174.3 347.8,174.3 347,174.3 346.2,174.3 345.4,174.3Z" fill="rgba(200,206,210,0.75)"/>
<path d="M307.8,173.3 308.6,173.4 309.4,173.5 310.2,173.6 311,173.6 311.8,173.6 312.6,173.6 313.4,173.6 314.2,173.6 315,173.6 315.8,173.6 316.6,173.6 317.4,173.6 318.2,173.6 319,173.5 319.8,173.5 320.6,173.5 321.4,173.5 322.2,173.4 323,173.4 323.8,173.4 324.6,173.3 325.4,173.3 326.2,173.3 327,173.2 327.8,173.2 328.6,173.1 329.4,173 330.2,172.9 331,172.8 331.8,172.7 332.6,172.5 333.4,172.4 334.2,172.1 335,171.8 335.8,171.4 336.6,170.9 337.4,170.3 338.2,169.6 339,168.7 339.8,167.6 340.6,166.2 341.4,164.7 342.2,162.8 343,160.8 343.8,158.5 344.6,155.9 345.4,153.2 346.2,150.4 347,147.6 347.8,144.8 348.6,142.1 349.4,139.8 350.2,137.8 351,136.4 351.8,135.7 352.6,135.7 353.4,136.4 354.2,137.8 355,139.7 355.8,142.1 356.6,144.7 357.4,147.6 358.2,150.5 359,153.3 359.8,156 360.6,158.6 361.4,160.9 362.2,163 363,164.9 363.8,166.5 364.6,167.8 365.4,169 366.2,169.9 367,170.7 367.8,171.3 368.6,171.8 369.4,172.3 370.2,172.6 371,172.8 371.8,173.1 372.6,173.2 373.4,173.4 374.2,173.5 375,173.6 375.8,173.7 376.6,173.8 377.4,173.9 378.2,173.9 379,174 379.8,174.1 380.6,174.1 381.4,174.2 382.2,174.2 383,174.3 383.8,174.3 384.6,174.4 385.4,174.4 386.2,174.5 387,174.5 387.8,174.6 388.6,174.6 389.4,174.6 390.2,174.7 391,174.7 391.8,174.7 392.6,174.8 393.4,174.8 394.2,174.8 395,174.9 395.8,174.9 396.6,174.9 396.6,175.2 395.8,175.2 395,175.2 394.2,175.2 393.4,175.2 392.6,175.1 391.8,175.1 391,175.1 390.2,175.1 389.4,175.1 388.6,175 387.8,175 387,175 386.2,175 385.4,175 384.6,175 383.8,174.9 383,174.9 382.2,174.9 381.4,174.9 380.6,174.9 379.8,174.8 379,174.8 378.2,174.8 377.4,174.8 376.6,174.8 375.8,174.8 375,174.7 374.2,174.7 373.4,174.7 372.6,174.7 371.8,174.7 371,174.7 370.2,174.6 369.4,174.6 368.6,174.6 367.8,174.6 367,174.6 366.2,174.6 365.4,174.6 364.6,174.5 363.8,174.5 363,174.5 362.2,174.5 361.4,174.5 360.6,174.5 359.8,174.5 359,174.4 358.2,174.4 357.4,174.4 356.6,174.4 355.8,174.4 355,174.4 354.2,174.4 353.4,174.4 352.6,174.4 351.8,174.3 351,174.3 350.2,174.3 349.4,174.3 348.6,174.3 347.8,174.3 347,174.3 346.2,174.3 345.4,174.3 344.6,174.2 343.8,174.2 343,174.2 342.2,174.2 341.4,174.2 340.6,174.2 339.8,174.2 339,174.2 338.2,174.2 337.4,174.2 336.6,174.2 335.8,174.2 335,174.2 334.2,174.2 333.4,174.2 332.6,174.1 331.8,174.1 331,174.1 330.2,174.1 329.4,174.1 328.6,174.1 327.8,174.1 327,174.1 326.2,174.1 325.4,174.1 324.6,174.1 323.8,174.1 323,174.1 322.2,174.1 321.4,174.1 320.6,174.1 319.8,174.1 319,174.1 318.2,174.1 317.4,174.1 316.6,174.1 315.8,174 315,174 314.2,174 313.4,174 312.6,174 311.8,174 311,174 310.2,173.9 309.4,173.8 308.6,173.7 307.8,173.6Z" fill="rgba(230,232,196,0.55)"/>
<path d="M319.8,173.8 320.6,173.7 321.4,173.6 322.2,173.5 323,173.3 323.8,173.1 324.6,172.8 325.4,172.5 326.2,172.2 327,171.7 327.8,171.2 328.6,170.6 329.4,169.8 330.2,169 331,168 331.8,166.8 332.6,165.5 333.4,163.9 334.2,162.2 335,160.3 335.8,158.1 336.6,155.7 337.4,153 338.2,150.1 339,146.9 339.8,143.5 340.6,139.8 341.4,135.9 342.2,131.8 343,127.4 343.8,123 344.6,118.4 345.4,113.7 346.2,109 347,104.3 347.8,99.7 348.6,95.2 349.4,90.8 350.2,86.7 351,83 351.8,79.5 352.6,76.5 353.4,73.9 354.2,71.8 355,70.2 355.8,69.2 356.6,68.8 357.4,68.9 358.2,69.6 359,70.8 359.8,72.6 360.6,74.9 361.4,77.7 362.2,80.9 363,84.5 363.8,88.4 364.6,92.6 365.4,97.1 366.2,101.6 367,106.3 367.8,111.1 368.6,115.8 369.4,120.5 370.2,125 371,129.5 371.8,133.8 372.6,137.8 373.4,141.7 374.2,145.3 375,148.6 375.8,151.7 376.6,154.6 377.4,157.2 378.2,159.5 379,161.7 379.8,163.5 380.6,165.2 381.4,166.7 382.2,168 383,169.1 383.8,170.1 384.6,170.9 385.4,171.6 386.2,172.3 387,172.8 387.8,173.2 388.6,173.6 389.4,173.9 390.2,174.1 391,174.4 391.8,174.5 392.6,174.7 393.4,174.8" fill="none" stroke="#ecc9b0" stroke-width="0.8"/>
<path d="M345.4,173.9 346.2,173.7 347,173.4 347.8,173.1 348.6,172.6 349.4,172 350.2,171.2 351,170.2 351.8,169.1 352.6,167.7 353.4,166.2 354.2,164.6 355,162.8 355.8,161 356.6,159.3 357.4,157.7 358.2,156.3 359,155.3 359.8,154.6 360.6,154.2 361.4,154.4 362.2,154.9 363,155.8 363.8,157.1 364.6,158.6 365.4,160.3 366.2,162.1 367,163.9 367.8,165.6 368.6,167.3 369.4,168.7 370.2,170 371,171.1 371.8,172 372.6,172.7 373.4,173.3 374.2,173.7 375,174 375.8,174.3 376.6,174.5" fill="none" stroke="#bdbccb" stroke-width="0.8"/>
<path d="M307.8,173.3 308.6,173.4 309.4,173.5 310.2,173.6 311,173.6 311.8,173.6 312.6,173.6 313.4,173.6 314.2,173.6 315,173.6 315.8,173.6 316.6,173.6 317.4,173.6 318.2,173.6 319,173.5 319.8,173.5 320.6,173.5 321.4,173.5 322.2,173.4 323,173.4 323.8,173.4 324.6,173.3 325.4,173.3 326.2,173.3 327,173.2 327.8,173.2 328.6,173.1 329.4,173 330.2,172.9 331,172.8 331.8,172.7 332.6,172.5 333.4,172.4 334.2,172.1 335,171.8 335.8,171.4 336.6,170.9 337.4,170.3 338.2,169.6 339,168.7 339.8,167.6 340.6,166.2 341.4,164.7 342.2,162.8 343,160.8 343.8,158.5 344.6,155.9 345.4,153.2 346.2,150.4 347,147.6 347.8,144.8 348.6,142.1 349.4,139.8 350.2,137.8 351,136.4 351.8,135.7 352.6,135.7 353.4,136.4 354.2,137.8 355,139.7 355.8,142.1 356.6,144.7 357.4,147.6 358.2,150.5 359,153.3 359.8,156 360.6,158.6 361.4,160.9 362.2,163 363,164.9 363.8,166.5 364.6,167.8 365.4,169 366.2,169.9 367,170.7 367.8,171.3 368.6,171.8 369.4,172.3 370.2,172.6 371,172.8 371.8,173.1 372.6,173.2 373.4,173.4 374.2,173.5 375,173.6 375.8,173.7 376.6,173.8 377.4,173.9 378.2,173.9 379,174 379.8,174.1 380.6,174.1 381.4,174.2 382.2,174.2 383,174.3 383.8,174.3 384.6,174.4 385.4,174.4 386.2,174.5 387,174.5 387.8,174.6 388.6,174.6 389.4,174.6 390.2,174.7 391,174.7 391.8,174.7 392.6,174.8 393.4,174.8 394.2,174.8 395,174.9 395.8,174.9 396.6,174.9" fill="none" stroke="#aaa382" stroke-width="0.9"/>
<path d="M281.4,167.7 282.2,167.9 283,168.1 283.8,168.2 284.6,168.4 285.4,168.6 286.2,168.8 287,169 287.8,169.1 288.6,169.3 289.4,169.5 290.2,169.6 291,169.8 291.8,170 292.6,170.1 293.4,170.3 294.2,170.5 295,170.6 295.8,170.8 296.6,170.9 297.4,171.1 298.2,171.3 299,171.5 299.8,171.6 300.6,171.8 301.4,172 302.2,172.2 303,172.4 303.8,172.6 304.6,172.7 305.4,172.9 306.2,173 307,173.2 307.8,173.3 308.6,173.4 309.4,173.5 310.2,173.6 311,173.6 311.8,173.6 312.6,173.6 313.4,173.6 314.2,173.6 315,173.5 315.8,173.5 316.6,173.5 317.4,173.4 318.2,173.4 319,173.3 319.8,173.2 320.6,173.1 321.4,173 322.2,172.8 323,172.6 323.8,172.4 324.6,172.1 325.4,171.7 326.2,171.3 327,170.8 327.8,170.2 328.6,169.5 329.4,168.7 330.2,167.8 331,166.6 331.8,165.3 332.6,163.8 333.4,162.1 334.2,160.2 335,157.9 335.8,155.3 336.6,152.4 337.4,149.1 338.2,145.5 339,141.4 339.8,136.8 340.6,131.8 341.4,126.3 342.2,120.3 343,113.9 343.8,107 344.6,99.8 345.4,92.3 346.2,84.6 347,76.7 347.8,68.9 348.6,61.3 349.4,53.9 350.2,47.1 351,41 351.8,35.6 352.6,31.2 353.4,27.8 354.2,25.4 355,24 355.8,23.5 356.6,24 357.4,25.3 358.2,27.5 359,30.5 359.8,34.3 360.6,38.8 361.4,44 362.2,49.8 363,56.2 363.8,62.9 364.6,70 365.4,77.3 366.2,84.6 367,91.8 367.8,98.9 368.6,105.7 369.4,112.2 370.2,118.3 371,124.1 371.8,129.4 372.6,134.4 373.4,138.9 374.2,143 375,146.8 375.8,150.2 376.6,153.3 377.4,156.1 378.2,158.6 379,160.8 379.8,162.7 380.6,164.5 381.4,166 382.2,167.3 383,168.5 383.8,169.5 384.6,170.4 385.4,171.1 386.2,171.7 387,172.3 387.8,172.7 388.6,173.1 389.4,173.5 390.2,173.7 391,174 391.8,174.1 392.6,174.3 393.4,174.4 394.2,174.6 395,174.7 395.8,174.7 396.6,174.8 397.4,174.9 398.2,174.9 399,175 399.8,175 400.6,175.1 401.4,175.1 402.2,175.1 403,175.2 403.8,175.2 404.6,175.2 405.4,175.3 406.2,175.3 407,175.3 407.8,175.4 408.6,175.4" fill="none" stroke="#7f6553" stroke-width="1.3"/>
<path d="M281.4,167.8 282.2,168 283,168.2 283.8,168.4 284.6,168.6 285.4,168.7 286.2,168.9 287,169.1 287.8,169.3 288.6,169.4 289.4,169.6 290.2,169.8 291,170 291.8,170.1 292.6,170.3 293.4,170.5 294.2,170.6 295,170.8 295.8,171 296.6,171.1 297.4,171.3 298.2,171.5 299,171.7 299.8,171.9 300.6,172.1 301.4,172.3 302.2,172.4 303,172.6 303.8,172.8 304.6,173 305.4,173.2 306.2,173.3 307,173.5 307.8,173.6 308.6,173.7 309.4,173.8 310.2,173.9 311,174 311.8,174 312.6,174 313.4,174 314.2,174 315,174 315.8,174 316.6,174.1 317.4,174.1 318.2,174.1 319,174.1 319.8,174.1 320.6,174.1 321.4,174.1 322.2,174.1 323,174.1 323.8,174.1 324.6,174.1 325.4,174.1 326.2,174.1 327,174.1 327.8,174.1 328.6,174.1 329.4,174.1 330.2,174.1 331,174.1 331.8,174.1 332.6,174.1 333.4,174.2 334.2,174.2 335,174.2 335.8,174.2 336.6,174.2 337.4,174.2 338.2,174.2 339,174.2 339.8,174.2 340.6,174.2 341.4,174.2 342.2,174.2 343,174.2 343.8,174.2 344.6,174.2 345.4,174.3 346.2,174.3 347,174.3 347.8,174.3 348.6,174.3 349.4,174.3 350.2,174.3 351,174.3 351.8,174.3 352.6,174.4 353.4,174.4 354.2,174.4 355,174.4 355.8,174.4 356.6,174.4 357.4,174.4 358.2,174.4 359,174.4 359.8,174.5 360.6,174.5 361.4,174.5 362.2,174.5 363,174.5 363.8,174.5 364.6,174.5 365.4,174.6 366.2,174.6 367,174.6 367.8,174.6 368.6,174.6 369.4,174.6 370.2,174.6 371,174.7 371.8,174.7 372.6,174.7 373.4,174.7 374.2,174.7 375,174.7 375.8,174.8 376.6,174.8 377.4,174.8 378.2,174.8 379,174.8 379.8,174.8 380.6,174.9 381.4,174.9 382.2,174.9 383,174.9 383.8,174.9 384.6,175 385.4,175 386.2,175 387,175 387.8,175 388.6,175 389.4,175.1 390.2,175.1 391,175.1 391.8,175.1 392.6,175.1 393.4,175.2 394.2,175.2 395,175.2 395.8,175.2 396.6,175.2 397.4,175.3 398.2,175.3 399,175.3 399.8,175.3 400.6,175.4 401.4,175.4 402.2,175.4 403,175.4 403.8,175.4 404.6,175.5 405.4,175.5 406.2,175.5 407,175.5 407.8,175.6 408.6,175.6" fill="none" stroke="#3a3a3a" stroke-width="1.3"/>
</g>
<line x1="299.2" y1="192.8" x2="299.2" y2="189.3" stroke="#4a4a4a" stroke-width="1.15"/>
<text x="299.2" y="207.2" font-size="12.4" text-anchor="middle">540</text>
<line x1="317.5" y1="192.8" x2="317.5" y2="190.6" stroke="#4a4a4a" stroke-width="1.15"/>
<line x1="335.8" y1="192.8" x2="335.8" y2="189.3" stroke="#4a4a4a" stroke-width="1.15"/>
<text x="335.8" y="207.2" font-size="12.4" text-anchor="middle">535</text>
<line x1="354.2" y1="192.8" x2="354.2" y2="190.6" stroke="#4a4a4a" stroke-width="1.15"/>
<line x1="372.5" y1="192.8" x2="372.5" y2="189.3" stroke="#4a4a4a" stroke-width="1.15"/>
<text x="372.5" y="207.2" font-size="12.4" text-anchor="middle">530</text>
<line x1="390.8" y1="192.8" x2="390.8" y2="190.6" stroke="#4a4a4a" stroke-width="1.15"/>
<text x="281.9" y="15.6" font-size="12.6">15°C</text>
<clipPath id="tc3"><rect x="409.1" y="3.9" width="128.2" height="188.9"/></clipPath>
<g clip-path="url(#tc3)">
<path d="M409.6,166 410.4,166.2 411.2,166.4 412,166.5 412.8,166.7 413.6,166.9 414.4,167.1 415.2,167.2 416,167.4 416.8,167.6 417.6,167.7 418.4,167.9 419.2,168 420,168.2 420.8,168.3 421.6,168.5 422.4,168.6 423.2,168.7 424,168.9 424.8,169 425.6,169.2 426.4,169.3 427.2,169.5 428,169.6 428.8,169.8 429.6,169.9 430.4,170 431.2,170.2 432,170.3 432.8,170.4 433.6,170.6 434.4,170.7 435.2,170.8 436,170.8 436.8,170.9 437.6,170.9 438.4,171 439.2,171 440,171 440.8,171 441.6,171 442.4,170.9 443.2,170.9 444,170.9 444.8,170.8 445.6,170.8 446.4,170.7 447.2,170.7 448,170.6 448.8,170.5 449.6,170.3 450.4,170.1 451.2,169.9 452,169.6 452.8,169.3 453.6,168.9 454.4,168.3 455.2,167.7 456,166.9 456.8,165.9 457.6,164.7 458.4,163.2 459.2,161.5 460,159.4 460.8,157 461.6,154.2 462.4,150.9 463.2,147.2 464,142.9 464.8,138.1 465.6,132.8 466.4,127 467.2,120.6 468,113.8 468.8,106.5 469.6,98.9 470.4,91 471.2,83 472,74.9 472.8,67 473.6,59.3 474.4,51.9 475.2,45.2 476,39 476.8,33.5 477.6,28.8 478.4,25 479.2,22 480,20 480.8,19 481.6,18.9 482.4,19.9 483.2,21.8 484,24.7 484.8,28.5 485.6,33.2 486.4,38.6 487.2,44.7 488,51.4 488.8,58.5 489.6,66 490.4,73.7 491.2,81.5 492,89.2 492.8,96.9 493.6,104.4 494.4,111.5 495.2,118.4 496,124.8 496.8,130.7 497.6,136.2 498.4,141.1 499.2,145.6 500,149.6 500.8,153.1 501.6,156.2 502.4,158.9 503.2,161.2 504,163.2 504.8,164.8 505.6,166.2 506.4,167.4 507.2,168.3 508,169.1 508.8,169.8 509.6,170.3 510.4,170.7 511.2,171.1 512,171.3 512.8,171.6 513.6,171.8 514.4,171.9 515.2,172 516,172.1 516.8,172.2 517.6,172.3 518.4,172.4 519.2,172.4 520,172.5 520.8,172.5 521.6,172.6 522.4,172.6 523.2,172.6 524,172.7 524.8,172.7 525.6,172.8 526.4,172.8 527.2,172.8 528,172.9 528.8,172.9 529.6,172.9 530.4,173 531.2,173 532,173 532.8,173.1 533.6,173.1 534.4,173.1 535.2,173.2 536,173.2 536.8,173.2 536.8,173.5 536,173.5 535.2,173.4 534.4,173.4 533.6,173.4 532.8,173.4 532,173.4 531.2,173.3 530.4,173.3 529.6,173.3 528.8,173.3 528,173.2 527.2,173.2 526.4,173.2 525.6,173.2 524.8,173.2 524,173.1 523.2,173.1 522.4,173.1 521.6,173.1 520.8,173.1 520,173 519.2,173 518.4,173 517.6,173 516.8,173 516,172.9 515.2,172.9 514.4,172.9 513.6,172.9 512.8,172.9 512,172.8 511.2,172.8 510.4,172.8 509.6,172.8 508.8,172.8 508,172.7 507.2,172.7 506.4,172.7 505.6,172.7 504.8,172.7 504,172.7 503.2,172.6 502.4,172.6 501.6,172.6 500.8,172.6 500,172.6 499.2,172.5 498.4,172.5 497.6,172.5 496.8,172.5 496,172.5 495.2,172.5 494.4,172.4 493.6,172.4 492.8,172.4 492,172.4 491.2,172.4 490.4,172.4 489.6,172.3 488.8,172.3 488,172.3 487.2,172.3 486.4,172.3 485.6,172.3 484.8,172.3 484,172.2 483.2,172.2 482.4,172.2 481.6,172.2 480.8,172.2 480,172.2 479.2,172.2 478.4,172.1 477.6,172.1 476.8,172.1 476,172.1 475.2,172.1 474.4,172.1 473.6,172.1 472.8,172 472,172 471.2,172 470.4,172 469.6,172 468.8,172 468,172 467.2,172 466.4,172 465.6,171.9 464.8,171.9 464,171.9 463.2,171.9 462.4,171.9 461.6,171.9 460.8,171.9 460,171.9 459.2,171.9 458.4,171.9 457.6,171.9 456.8,171.9 456,171.9 455.2,171.8 454.4,171.8 453.6,171.8 452.8,171.8 452,171.8 451.2,171.8 450.4,171.8 449.6,171.8 448.8,171.8 448,171.8 447.2,171.8 446.4,171.7 445.6,171.7 444.8,171.7 444,171.7 443.2,171.7 442.4,171.7 441.6,171.7 440.8,171.6 440,171.6 439.2,171.6 438.4,171.6 437.6,171.5 436.8,171.4 436,171.4 435.2,171.3 434.4,171.1 433.6,171 432.8,170.9 432,170.8 431.2,170.6 430.4,170.5 429.6,170.3 428.8,170.1 428,170 427.2,169.8 426.4,169.7 425.6,169.5 424.8,169.3 424,169.2 423.2,169.1 422.4,168.9 421.6,168.8 420.8,168.6 420,168.4 419.2,168.3 418.4,168.1 417.6,168 416.8,167.8 416,167.6 415.2,167.5 414.4,167.3 413.6,167.1 412.8,166.9 412,166.8 411.2,166.6 410.4,166.4 409.6,166.2Z" fill="#fcebec"/>
<path d="M441.6,171.4 442.4,171.4 443.2,171.3 444,171.3 444.8,171.3 445.6,171.3 446.4,171.3 447.2,171.2 448,171.2 448.8,171.1 449.6,171 450.4,170.9 451.2,170.7 452,170.5 452.8,170.3 453.6,169.9 454.4,169.5 455.2,169 456,168.4 456.8,167.7 457.6,166.8 458.4,165.7 459.2,164.4 460,162.9 460.8,161.2 461.6,159.1 462.4,156.8 463.2,154.1 464,151.1 464.8,147.7 465.6,143.9 466.4,139.7 467.2,135.2 468,130.3 468.8,125.1 469.6,119.7 470.4,113.9 471.2,108 472,102 472.8,95.9 473.6,89.9 474.4,84 475.2,78.3 476,73.1 476.8,68.2 477.6,63.9 478.4,60.3 479.2,57.3 480,55.1 480.8,53.8 481.6,53.3 482.4,53.7 483.2,55 484,57 484.8,59.9 485.6,63.5 486.4,67.8 487.2,72.5 488,77.8 488.8,83.4 489.6,89.3 490.4,95.3 491.2,101.4 492,107.5 492.8,113.5 493.6,119.3 494.4,124.8 495.2,130.1 496,135.1 496.8,139.7 497.6,143.9 498.4,147.7 499.2,151.2 500,154.3 500.8,157.1 501.6,159.5 502.4,161.6 503.2,163.4 504,165 504.8,166.3 505.6,167.5 506.4,168.4 507.2,169.2 508,169.9 508.8,170.4 509.6,170.8 510.4,171.2 511.2,171.5 512,171.7 512.8,171.9 513.6,172.1 514.4,172.2 515.2,172.3 516,172.4 516.8,172.5 517.6,172.5 518.4,172.6 519.2,172.6 520,172.7 520.8,172.7 521.6,172.8 521.6,173.1 520.8,173.1 520,173 519.2,173 518.4,173 517.6,173 516.8,173 516,172.9 515.2,172.9 514.4,172.9 513.6,172.9 512.8,172.9 512,172.8 511.2,172.8 510.4,172.8 509.6,172.8 508.8,172.8 508,172.7 507.2,172.7 506.4,172.7 505.6,172.7 504.8,172.7 504,172.7 503.2,172.6 502.4,172.6 501.6,172.6 500.8,172.6 500,172.6 499.2,172.5 498.4,172.5 497.6,172.5 496.8,172.5 496,172.5 495.2,172.5 494.4,172.4 493.6,172.4 492.8,172.4 492,172.4 491.2,172.4 490.4,172.4 489.6,172.3 488.8,172.3 488,172.3 487.2,172.3 486.4,172.3 485.6,172.3 484.8,172.3 484,172.2 483.2,172.2 482.4,172.2 481.6,172.2 480.8,172.2 480,172.2 479.2,172.2 478.4,172.1 477.6,172.1 476.8,172.1 476,172.1 475.2,172.1 474.4,172.1 473.6,172.1 472.8,172 472,172 471.2,172 470.4,172 469.6,172 468.8,172 468,172 467.2,172 466.4,172 465.6,171.9 464.8,171.9 464,171.9 463.2,171.9 462.4,171.9 461.6,171.9 460.8,171.9 460,171.9 459.2,171.9 458.4,171.9 457.6,171.9 456.8,171.9 456,171.9 455.2,171.8 454.4,171.8 453.6,171.8 452.8,171.8 452,171.8 451.2,171.8 450.4,171.8 449.6,171.8 448.8,171.8 448,171.8 447.2,171.8 446.4,171.7 445.6,171.7 444.8,171.7 444,171.7 443.2,171.7 442.4,171.7 441.6,171.7Z" fill="#fbdec8"/>
<path d="M462.4,171.6 463.2,171.5 464,171.4 464.8,171.2 465.6,171 466.4,170.7 467.2,170.4 468,169.9 468.8,169.5 469.6,168.9 470.4,168.2 471.2,167.4 472,166.5 472.8,165.5 473.6,164.4 474.4,163.2 475.2,161.9 476,160.5 476.8,159.1 477.6,157.6 478.4,156.2 479.2,154.8 480,153.4 480.8,152.2 481.6,151.1 482.4,150.2 483.2,149.5 484,148.9 484.8,148.7 485.6,148.6 486.4,148.9 487.2,149.3 488,150 488.8,150.9 489.6,152 490.4,153.2 491.2,154.5 492,155.9 492.8,157.4 493.6,158.9 494.4,160.4 495.2,161.8 496,163.1 496.8,164.4 497.6,165.6 498.4,166.7 499.2,167.6 500,168.5 500.8,169.2 501.6,169.9 502.4,170.4 503.2,170.9 504,171.3 504.8,171.6 505.6,171.9 506.4,172.1 507.2,172.2 508,172.4 508,172.7 507.2,172.7 506.4,172.7 505.6,172.7 504.8,172.7 504,172.7 503.2,172.6 502.4,172.6 501.6,172.6 500.8,172.6 500,172.6 499.2,172.5 498.4,172.5 497.6,172.5 496.8,172.5 496,172.5 495.2,172.5 494.4,172.4 493.6,172.4 492.8,172.4 492,172.4 491.2,172.4 490.4,172.4 489.6,172.3 488.8,172.3 488,172.3 487.2,172.3 486.4,172.3 485.6,172.3 484.8,172.3 484,172.2 483.2,172.2 482.4,172.2 481.6,172.2 480.8,172.2 480,172.2 479.2,172.2 478.4,172.1 477.6,172.1 476.8,172.1 476,172.1 475.2,172.1 474.4,172.1 473.6,172.1 472.8,172 472,172 471.2,172 470.4,172 469.6,172 468.8,172 468,172 467.2,172 466.4,172 465.6,171.9 464.8,171.9 464,171.9 463.2,171.9 462.4,171.9Z" fill="rgba(200,206,210,0.75)"/>
<path d="M436.8,171.1 437.6,171.2 438.4,171.2 439.2,171.3 440,171.3 440.8,171.3 441.6,171.3 442.4,171.3 443.2,171.3 444,171.3 444.8,171.2 445.6,171.2 446.4,171.2 447.2,171.2 448,171.2 448.8,171.1 449.6,171.1 450.4,171.1 451.2,171 452,171 452.8,170.9 453.6,170.8 454.4,170.7 455.2,170.5 456,170.3 456.8,170.1 457.6,169.8 458.4,169.5 459.2,169 460,168.5 460.8,167.9 461.6,167.2 462.4,166.4 463.2,165.4 464,164.3 464.8,163.1 465.6,161.8 466.4,160.4 467.2,158.9 468,157.4 468.8,155.9 469.6,154.3 470.4,152.9 471.2,151.6 472,150.5 472.8,149.7 473.6,149.1 474.4,148.9 475.2,149.1 476,149.6 476.8,150.4 477.6,151.5 478.4,152.8 479.2,154.2 480,155.8 480.8,157.3 481.6,158.9 482.4,160.4 483.2,161.9 484,163.2 484.8,164.5 485.6,165.6 486.4,166.6 487.2,167.5 488,168.2 488.8,168.9 489.6,169.4 490.4,169.9 491.2,170.3 492,170.6 492.8,170.8 493.6,171.1 494.4,171.2 495.2,171.4 496,171.5 496.8,171.6 497.6,171.7 498.4,171.8 499.2,171.9 500,171.9 500.8,172 501.6,172 502.4,172.1 503.2,172.1 504,172.2 504.8,172.2 505.6,172.3 506.4,172.3 507.2,172.3 508,172.4 508.8,172.4 509.6,172.4 510.4,172.5 511.2,172.5 512,172.5 512,172.8 511.2,172.8 510.4,172.8 509.6,172.8 508.8,172.8 508,172.7 507.2,172.7 506.4,172.7 505.6,172.7 504.8,172.7 504,172.7 503.2,172.6 502.4,172.6 501.6,172.6 500.8,172.6 500,172.6 499.2,172.5 498.4,172.5 497.6,172.5 496.8,172.5 496,172.5 495.2,172.5 494.4,172.4 493.6,172.4 492.8,172.4 492,172.4 491.2,172.4 490.4,172.4 489.6,172.3 488.8,172.3 488,172.3 487.2,172.3 486.4,172.3 485.6,172.3 484.8,172.3 484,172.2 483.2,172.2 482.4,172.2 481.6,172.2 480.8,172.2 480,172.2 479.2,172.2 478.4,172.1 477.6,172.1 476.8,172.1 476,172.1 475.2,172.1 474.4,172.1 473.6,172.1 472.8,172 472,172 471.2,172 470.4,172 469.6,172 468.8,172 468,172 467.2,172 466.4,172 465.6,171.9 464.8,171.9 464,171.9 463.2,171.9 462.4,171.9 461.6,171.9 460.8,171.9 460,171.9 459.2,171.9 458.4,171.9 457.6,171.9 456.8,171.9 456,171.9 455.2,171.8 454.4,171.8 453.6,171.8 452.8,171.8 452,171.8 451.2,171.8 450.4,171.8 449.6,171.8 448.8,171.8 448,171.8 447.2,171.8 446.4,171.7 445.6,171.7 444.8,171.7 444,171.7 443.2,171.7 442.4,171.7 441.6,171.7 440.8,171.6 440,171.6 439.2,171.6 438.4,171.6 437.6,171.5 436.8,171.4Z" fill="rgba(230,232,196,0.55)"/>
<path d="M441.6,171.4 442.4,171.4 443.2,171.3 444,171.3 444.8,171.3 445.6,171.3 446.4,171.3 447.2,171.2 448,171.2 448.8,171.1 449.6,171 450.4,170.9 451.2,170.7 452,170.5 452.8,170.3 453.6,169.9 454.4,169.5 455.2,169 456,168.4 456.8,167.7 457.6,166.8 458.4,165.7 459.2,164.4 460,162.9 460.8,161.2 461.6,159.1 462.4,156.8 463.2,154.1 464,151.1 464.8,147.7 465.6,143.9 466.4,139.7 467.2,135.2 468,130.3 468.8,125.1 469.6,119.7 470.4,113.9 471.2,108 472,102 472.8,95.9 473.6,89.9 474.4,84 475.2,78.3 476,73.1 476.8,68.2 477.6,63.9 478.4,60.3 479.2,57.3 480,55.1 480.8,53.8 481.6,53.3 482.4,53.7 483.2,55 484,57 484.8,59.9 485.6,63.5 486.4,67.8 487.2,72.5 488,77.8 488.8,83.4 489.6,89.3 490.4,95.3 491.2,101.4 492,107.5 492.8,113.5 493.6,119.3 494.4,124.8 495.2,130.1 496,135.1 496.8,139.7 497.6,143.9 498.4,147.7 499.2,151.2 500,154.3 500.8,157.1 501.6,159.5 502.4,161.6 503.2,163.4 504,165 504.8,166.3 505.6,167.5 506.4,168.4 507.2,169.2 508,169.9 508.8,170.4 509.6,170.8 510.4,171.2 511.2,171.5 512,171.7 512.8,171.9 513.6,172.1 514.4,172.2 515.2,172.3 516,172.4 516.8,172.5 517.6,172.5 518.4,172.6 519.2,172.6 520,172.7 520.8,172.7 521.6,172.8" fill="none" stroke="#ecc9b0" stroke-width="0.8"/>
<path d="M462.4,171.6 463.2,171.5 464,171.4 464.8,171.2 465.6,171 466.4,170.7 467.2,170.4 468,169.9 468.8,169.5 469.6,168.9 470.4,168.2 471.2,167.4 472,166.5 472.8,165.5 473.6,164.4 474.4,163.2 475.2,161.9 476,160.5 476.8,159.1 477.6,157.6 478.4,156.2 479.2,154.8 480,153.4 480.8,152.2 481.6,151.1 482.4,150.2 483.2,149.5 484,148.9 484.8,148.7 485.6,148.6 486.4,148.9 487.2,149.3 488,150 488.8,150.9 489.6,152 490.4,153.2 491.2,154.5 492,155.9 492.8,157.4 493.6,158.9 494.4,160.4 495.2,161.8 496,163.1 496.8,164.4 497.6,165.6 498.4,166.7 499.2,167.6 500,168.5 500.8,169.2 501.6,169.9 502.4,170.4 503.2,170.9 504,171.3 504.8,171.6 505.6,171.9 506.4,172.1 507.2,172.2 508,172.4" fill="none" stroke="#bdbccb" stroke-width="0.8"/>
<path d="M436.8,171.1 437.6,171.2 438.4,171.2 439.2,171.3 440,171.3 440.8,171.3 441.6,171.3 442.4,171.3 443.2,171.3 444,171.3 444.8,171.2 445.6,171.2 446.4,171.2 447.2,171.2 448,171.2 448.8,171.1 449.6,171.1 450.4,171.1 451.2,171 452,171 452.8,170.9 453.6,170.8 454.4,170.7 455.2,170.5 456,170.3 456.8,170.1 457.6,169.8 458.4,169.5 459.2,169 460,168.5 460.8,167.9 461.6,167.2 462.4,166.4 463.2,165.4 464,164.3 464.8,163.1 465.6,161.8 466.4,160.4 467.2,158.9 468,157.4 468.8,155.9 469.6,154.3 470.4,152.9 471.2,151.6 472,150.5 472.8,149.7 473.6,149.1 474.4,148.9 475.2,149.1 476,149.6 476.8,150.4 477.6,151.5 478.4,152.8 479.2,154.2 480,155.8 480.8,157.3 481.6,158.9 482.4,160.4 483.2,161.9 484,163.2 484.8,164.5 485.6,165.6 486.4,166.6 487.2,167.5 488,168.2 488.8,168.9 489.6,169.4 490.4,169.9 491.2,170.3 492,170.6 492.8,170.8 493.6,171.1 494.4,171.2 495.2,171.4 496,171.5 496.8,171.6 497.6,171.7 498.4,171.8 499.2,171.9 500,171.9 500.8,172 501.6,172 502.4,172.1 503.2,172.1 504,172.2 504.8,172.2 505.6,172.3 506.4,172.3 507.2,172.3 508,172.4 508.8,172.4 509.6,172.4 510.4,172.5 511.2,172.5 512,172.5" fill="none" stroke="#aaa382" stroke-width="0.9"/>
<path d="M409.6,166 410.4,166.2 411.2,166.4 412,166.5 412.8,166.7 413.6,166.9 414.4,167.1 415.2,167.2 416,167.4 416.8,167.6 417.6,167.7 418.4,167.9 419.2,168 420,168.2 420.8,168.3 421.6,168.5 422.4,168.6 423.2,168.7 424,168.9 424.8,169 425.6,169.2 426.4,169.3 427.2,169.5 428,169.6 428.8,169.8 429.6,169.9 430.4,170 431.2,170.2 432,170.3 432.8,170.4 433.6,170.6 434.4,170.7 435.2,170.8 436,170.8 436.8,170.9 437.6,170.9 438.4,171 439.2,171 440,171 440.8,171 441.6,171 442.4,170.9 443.2,170.9 444,170.9 444.8,170.8 445.6,170.8 446.4,170.7 447.2,170.7 448,170.6 448.8,170.5 449.6,170.3 450.4,170.1 451.2,169.9 452,169.6 452.8,169.3 453.6,168.9 454.4,168.3 455.2,167.7 456,166.9 456.8,165.9 457.6,164.7 458.4,163.2 459.2,161.5 460,159.4 460.8,157 461.6,154.2 462.4,150.9 463.2,147.2 464,142.9 464.8,138.1 465.6,132.8 466.4,127 467.2,120.6 468,113.8 468.8,106.5 469.6,98.9 470.4,91 471.2,83 472,74.9 472.8,67 473.6,59.3 474.4,51.9 475.2,45.2 476,39 476.8,33.5 477.6,28.8 478.4,25 479.2,22 480,20 480.8,19 481.6,18.9 482.4,19.9 483.2,21.8 484,24.7 484.8,28.5 485.6,33.2 486.4,38.6 487.2,44.7 488,51.4 488.8,58.5 489.6,66 490.4,73.7 491.2,81.5 492,89.2 492.8,96.9 493.6,104.4 494.4,111.5 495.2,118.4 496,124.8 496.8,130.7 497.6,136.2 498.4,141.1 499.2,145.6 500,149.6 500.8,153.1 501.6,156.2 502.4,158.9 503.2,161.2 504,163.2 504.8,164.8 505.6,166.2 506.4,167.4 507.2,168.3 508,169.1 508.8,169.8 509.6,170.3 510.4,170.7 511.2,171.1 512,171.3 512.8,171.6 513.6,171.8 514.4,171.9 515.2,172 516,172.1 516.8,172.2 517.6,172.3 518.4,172.4 519.2,172.4 520,172.5 520.8,172.5 521.6,172.6 522.4,172.6 523.2,172.6 524,172.7 524.8,172.7 525.6,172.8 526.4,172.8 527.2,172.8 528,172.9 528.8,172.9 529.6,172.9 530.4,173 531.2,173 532,173 532.8,173.1 533.6,173.1 534.4,173.1 535.2,173.2 536,173.2 536.8,173.2" fill="none" stroke="#7f6553" stroke-width="1.3"/>
<path d="M409.6,166.2 410.4,166.4 411.2,166.6 412,166.8 412.8,166.9 413.6,167.1 414.4,167.3 415.2,167.5 416,167.6 416.8,167.8 417.6,168 418.4,168.1 419.2,168.3 420,168.4 420.8,168.6 421.6,168.8 422.4,168.9 423.2,169.1 424,169.2 424.8,169.3 425.6,169.5 426.4,169.7 427.2,169.8 428,170 428.8,170.1 429.6,170.3 430.4,170.5 431.2,170.6 432,170.8 432.8,170.9 433.6,171 434.4,171.1 435.2,171.3 436,171.4 436.8,171.4 437.6,171.5 438.4,171.6 439.2,171.6 440,171.6 440.8,171.6 441.6,171.7 442.4,171.7 443.2,171.7 444,171.7 444.8,171.7 445.6,171.7 446.4,171.7 447.2,171.8 448,171.8 448.8,171.8 449.6,171.8 450.4,171.8 451.2,171.8 452,171.8 452.8,171.8 453.6,171.8 454.4,171.8 455.2,171.8 456,171.9 456.8,171.9 457.6,171.9 458.4,171.9 459.2,171.9 460,171.9 460.8,171.9 461.6,171.9 462.4,171.9 463.2,171.9 464,171.9 464.8,171.9 465.6,171.9 466.4,172 467.2,172 468,172 468.8,172 469.6,172 470.4,172 471.2,172 472,172 472.8,172 473.6,172.1 474.4,172.1 475.2,172.1 476,172.1 476.8,172.1 477.6,172.1 478.4,172.1 479.2,172.2 480,172.2 480.8,172.2 481.6,172.2 482.4,172.2 483.2,172.2 484,172.2 484.8,172.3 485.6,172.3 486.4,172.3 487.2,172.3 488,172.3 488.8,172.3 489.6,172.3 490.4,172.4 491.2,172.4 492,172.4 492.8,172.4 493.6,172.4 494.4,172.4 495.2,172.5 496,172.5 496.8,172.5 497.6,172.5 498.4,172.5 499.2,172.5 500,172.6 500.8,172.6 501.6,172.6 502.4,172.6 503.2,172.6 504,172.7 504.8,172.7 505.6,172.7 506.4,172.7 507.2,172.7 508,172.7 508.8,172.8 509.6,172.8 510.4,172.8 511.2,172.8 512,172.8 512.8,172.9 513.6,172.9 514.4,172.9 515.2,172.9 516,172.9 516.8,173 517.6,173 518.4,173 519.2,173 520,173 520.8,173.1 521.6,173.1 522.4,173.1 523.2,173.1 524,173.1 524.8,173.2 525.6,173.2 526.4,173.2 527.2,173.2 528,173.2 528.8,173.3 529.6,173.3 530.4,173.3 531.2,173.3 532,173.4 532.8,173.4 533.6,173.4 534.4,173.4 535.2,173.4 536,173.5 536.8,173.5" fill="none" stroke="#3a3a3a" stroke-width="1.3"/>
</g>
<line x1="427.4" y1="192.8" x2="427.4" y2="189.3" stroke="#4a4a4a" stroke-width="1.15"/>
<text x="427.4" y="207.2" font-size="12.4" text-anchor="middle">540</text>
<line x1="445.7" y1="192.8" x2="445.7" y2="190.6" stroke="#4a4a4a" stroke-width="1.15"/>
<line x1="464" y1="192.8" x2="464" y2="189.3" stroke="#4a4a4a" stroke-width="1.15"/>
<text x="464" y="207.2" font-size="12.4" text-anchor="middle">535</text>
<line x1="482.4" y1="192.8" x2="482.4" y2="190.6" stroke="#4a4a4a" stroke-width="1.15"/>
<line x1="500.7" y1="192.8" x2="500.7" y2="189.3" stroke="#4a4a4a" stroke-width="1.15"/>
<text x="500.7" y="207.2" font-size="12.4" text-anchor="middle">530</text>
<line x1="519" y1="192.8" x2="519" y2="190.6" stroke="#4a4a4a" stroke-width="1.15"/>
<text x="410.1" y="15.6" font-size="12.6">20°C</text>
<text x="537.3" y="207.2" font-size="12.4" text-anchor="middle">525</text>
<clipPath id="bc0"><rect x="30.5" y="237.4" width="127.3" height="190.3"/></clipPath>
<g clip-path="url(#bc0)">
<path d="M31,414.1 31.8,414 32.6,414 33.4,414 34.2,413.9 35,413.9 35.8,413.8 36.6,413.8 37.4,413.7 38.2,413.7 39,413.7 39.8,413.6 40.6,413.6 41.4,413.5 42.2,413.5 43,413.5 43.8,413.4 44.6,413.4 45.4,413.4 46.2,413.4 47,413.3 47.8,413.3 48.6,413.3 49.4,413.2 50.2,413.2 51,413.2 51.8,413.1 52.6,413.1 53.4,413.1 54.2,413.1 55,413 55.8,413 56.6,413 57.4,412.9 58.2,412.9 59,412.9 59.8,412.8 60.6,412.8 61.4,412.7 62.2,412.7 63,412.6 63.8,412.6 64.6,412.5 65.4,412.4 66.2,412.3 67,412.2 67.8,412 68.6,411.8 69.4,411.6 70.2,411.3 71,410.9 71.8,410.3 72.6,409.7 73.4,408.8 74.2,407.8 75,406.6 75.8,405.1 76.6,403.4 77.4,401.4 78.2,399.1 79,396.6 79.8,393.8 80.6,390.8 81.4,387.7 82.2,384.6 83,381.5 83.8,378.6 84.6,375.9 85.4,373.6 86.2,371.9 87,370.8 87.8,370.4 88.6,370.7 89.4,371.8 90.2,373.5 91,375.7 91.8,378.3 92.6,381.2 93.4,384.3 94.2,387.3 95,390.3 95.8,393.1 96.6,395.6 97.4,397.8 98.2,399.7 99,401.1 99.8,402.1 100.6,402.6 101.4,402.6 102.2,402.2 103,401.2 103.8,399.7 104.6,397.7 105.4,395.1 106.2,392.1 107,388.5 107.8,384.5 108.6,380.1 109.4,375.3 110.2,370.3 111,365.1 111.8,359.9 112.6,354.7 113.4,349.9 114.2,345.4 115,341.5 115.8,338.4 116.6,336.1 117.4,334.7 118.2,334.4 119,335.3 119.8,337.2 120.6,340.1 121.4,343.9 122.2,348.4 123,353.3 123.8,358.5 124.6,363.9 125.4,369.3 126.2,374.5 127,379.6 127.8,384.4 128.6,388.9 129.4,393 130.2,396.7 131,400 131.8,403 132.6,405.6 133.4,407.8 134.2,409.8 135,411.4 135.8,412.8 136.6,414 137.4,415 138.2,415.9 139,416.6 139.8,417.2 140.6,417.7 141.4,418.2 142.2,418.6 143,418.9 143.8,419.2 144.6,419.4 145.4,419.7 146.2,419.8 147,420 147.8,420.2 148.6,420.3 149.4,420.5 150.2,420.6 151,420.7 151.8,420.8 152.6,420.9 153.4,421 154.2,421.1 155,421.2 155.8,421.3 156.6,421.3 157.4,421.4 157.4,422.8 156.6,422.8 155.8,422.8 155,422.8 154.2,422.8 153.4,422.7 152.6,422.7 151.8,422.7 151,422.7 150.2,422.6 149.4,422.6 148.6,422.6 147.8,422.5 147,422.5 146.2,422.5 145.4,422.4 144.6,422.4 143.8,422.3 143,422.3 142.2,422.2 141.4,422.1 140.6,422 139.8,421.9 139,421.8 138.2,421.7 137.4,421.6 136.6,421.5 135.8,421.4 135,421.3 134.2,421.2 133.4,421.1 132.6,421 131.8,420.8 131,420.7 130.2,420.6 129.4,420.5 128.6,420.3 127.8,420.2 127,420 126.2,419.9 125.4,419.8 124.6,419.6 123.8,419.5 123,419.3 122.2,419.2 121.4,419.1 120.6,418.9 119.8,418.8 119,418.6 118.2,418.5 117.4,418.4 116.6,418.2 115.8,418.1 115,418 114.2,417.9 113.4,417.8 112.6,417.6 111.8,417.5 111,417.4 110.2,417.3 109.4,417.2 108.6,417 107.8,416.9 107,416.8 106.2,416.7 105.4,416.6 104.6,416.5 103.8,416.4 103,416.3 102.2,416.2 101.4,416.1 100.6,416.1 99.8,416 99,415.9 98.2,415.8 97.4,415.8 96.6,415.7 95.8,415.6 95,415.6 94.2,415.5 93.4,415.4 92.6,415.4 91.8,415.3 91,415.2 90.2,415.2 89.4,415.1 88.6,415 87.8,415 87,414.9 86.2,414.9 85.4,414.8 84.6,414.7 83.8,414.7 83,414.6 82.2,414.6 81.4,414.5 80.6,414.5 79.8,414.4 79,414.4 78.2,414.3 77.4,414.3 76.6,414.2 75.8,414.2 75,414.1 74.2,414.1 73.4,414 72.6,414 71.8,414 71,413.9 70.2,413.9 69.4,413.9 68.6,413.8 67.8,413.8 67,413.8 66.2,413.8 65.4,413.8 64.6,413.7 63.8,413.7 63,413.7 62.2,413.7 61.4,413.7 60.6,413.7 59.8,413.7 59,413.7 58.2,413.7 57.4,413.7 56.6,413.7 55.8,413.7 55,413.7 54.2,413.7 53.4,413.7 52.6,413.7 51.8,413.7 51,413.7 50.2,413.8 49.4,413.8 48.6,413.8 47.8,413.8 47,413.8 46.2,413.8 45.4,413.8 44.6,413.8 43.8,413.9 43,413.9 42.2,413.9 41.4,413.9 40.6,414 39.8,414 39,414 38.2,414 37.4,414.1 36.6,414.1 35.8,414.1 35,414.2 34.2,414.2 33.4,414.2 32.6,414.3 31.8,414.3 31,414.4Z" fill="#fdf5f5"/>
<path d="M67.8,413.5 68.6,413.5 69.4,413.6 70.2,413.6 71,413.6 71.8,413.6 72.6,413.6 73.4,413.7 74.2,413.7 75,413.7 75.8,413.7 76.6,413.8 77.4,413.8 78.2,413.8 79,413.9 79.8,413.9 80.6,413.9 81.4,414 82.2,414 83,414 83.8,414.1 84.6,414.1 85.4,414.1 86.2,414.1 87,414.2 87.8,414.2 88.6,414.2 89.4,414.2 90.2,414.2 91,414.2 91.8,414.2 92.6,414.1 93.4,414.1 94.2,414 95,413.8 95.8,413.6 96.6,413.3 97.4,413 98.2,412.5 99,411.8 99.8,411 100.6,410 101.4,408.8 102.2,407.2 103,405.4 103.8,403.2 104.6,400.6 105.4,397.6 106.2,394.2 107,390.3 107.8,386.1 108.6,381.5 109.4,376.6 110.2,371.4 111,366.1 111.8,360.8 112.6,355.7 113.4,350.7 114.2,346.2 115,342.3 115.8,339.1 116.6,336.7 117.4,335.4 118.2,335.1 119,335.9 119.8,337.8 120.6,340.7 121.4,344.4 122.2,348.9 123,353.8 123.8,359 124.6,364.3 125.4,369.7 126.2,374.9 127,380 127.8,384.8 128.6,389.2 129.4,393.3 130.2,397 131,400.4 131.8,403.3 132.6,405.9 133.4,408.1 134.2,410 135,411.7 135.8,413.1 136.6,414.3 137.4,415.3 138.2,416.1 139,416.8 139.8,417.4 140.6,418 141.4,418.4 142.2,418.8 143,419.1 143.8,419.4 144.6,419.6 145.4,419.8 146.2,420 147,420.2 147.8,420.3 148.6,420.5 149.4,420.6 150.2,420.8 151,420.9 151.8,421 152.6,421.1 153.4,421.2 154.2,421.3 155,421.3 155.8,421.4 156.6,421.5 157.4,421.5 157.4,422.8 156.6,422.8 155.8,422.8 155,422.8 154.2,422.8 153.4,422.7 152.6,422.7 151.8,422.7 151,422.7 150.2,422.6 149.4,422.6 148.6,422.6 147.8,422.5 147,422.5 146.2,422.5 145.4,422.4 144.6,422.4 143.8,422.3 143,422.3 142.2,422.2 141.4,422.1 140.6,422 139.8,421.9 139,421.8 138.2,421.7 137.4,421.6 136.6,421.5 135.8,421.4 135,421.3 134.2,421.2 133.4,421.1 132.6,421 131.8,420.8 131,420.7 130.2,420.6 129.4,420.5 128.6,420.3 127.8,420.2 127,420 126.2,419.9 125.4,419.8 124.6,419.6 123.8,419.5 123,419.3 122.2,419.2 121.4,419.1 120.6,418.9 119.8,418.8 119,418.6 118.2,418.5 117.4,418.4 116.6,418.2 115.8,418.1 115,418 114.2,417.9 113.4,417.8 112.6,417.6 111.8,417.5 111,417.4 110.2,417.3 109.4,417.2 108.6,417 107.8,416.9 107,416.8 106.2,416.7 105.4,416.6 104.6,416.5 103.8,416.4 103,416.3 102.2,416.2 101.4,416.1 100.6,416.1 99.8,416 99,415.9 98.2,415.8 97.4,415.8 96.6,415.7 95.8,415.6 95,415.6 94.2,415.5 93.4,415.4 92.6,415.4 91.8,415.3 91,415.2 90.2,415.2 89.4,415.1 88.6,415 87.8,415 87,414.9 86.2,414.9 85.4,414.8 84.6,414.7 83.8,414.7 83,414.6 82.2,414.6 81.4,414.5 80.6,414.5 79.8,414.4 79,414.4 78.2,414.3 77.4,414.3 76.6,414.2 75.8,414.2 75,414.1 74.2,414.1 73.4,414 72.6,414 71.8,414 71,413.9 70.2,413.9 69.4,413.9 68.6,413.8 67.8,413.8Z" fill="#f9dcc4"/>
<path d="M45.4,413.5 46.2,413.5 47,413.5 47.8,413.5 48.6,413.4 49.4,413.4 50.2,413.4 51,413.4 51.8,413.3 52.6,413.3 53.4,413.3 54.2,413.2 55,413.2 55.8,413.2 56.6,413.2 57.4,413.1 58.2,413.1 59,413.1 59.8,413 60.6,413 61.4,413 62.2,412.9 63,412.9 63.8,412.8 64.6,412.8 65.4,412.7 66.2,412.6 67,412.5 67.8,412.3 68.6,412.2 69.4,411.9 70.2,411.6 71,411.2 71.8,410.7 72.6,410 73.4,409.2 74.2,408.2 75,407 75.8,405.5 76.6,403.8 77.4,401.8 78.2,399.6 79,397 79.8,394.3 80.6,391.4 81.4,388.3 82.2,385.2 83,382.1 83.8,379.2 84.6,376.6 85.4,374.3 86.2,372.6 87,371.5 87.8,371.2 88.6,371.6 89.4,372.7 90.2,374.5 91,376.8 91.8,379.5 92.6,382.5 93.4,385.7 94.2,388.9 95,392.1 95.8,395.1 96.6,398 97.4,400.7 98.2,403 99,405.2 99.8,407 100.6,408.6 101.4,410 102.2,411.1 103,412.1 103.8,412.9 104.6,413.6 105.4,414.1 106.2,414.6 107,415 107.8,415.3 108.6,415.6 109.4,415.9 110.2,416.1 111,416.3 111.8,416.5 112.6,416.7 113.4,416.9 114.2,417.1 115,417.2 115.8,417.4 116.6,417.6 117.4,417.7 118.2,417.9 119,418 119.8,418.2 120.6,418.4 121.4,418.5 122.2,418.7 123,418.9 123.8,419 124.6,419.2 125.4,419.4 126.2,419.5 127,419.7 127.8,419.8 128.6,420 129.4,420.1 130.2,420.3 131,420.4 131.8,420.5 131.8,420.8 131,420.7 130.2,420.6 129.4,420.5 128.6,420.3 127.8,420.2 127,420 126.2,419.9 125.4,419.8 124.6,419.6 123.8,419.5 123,419.3 122.2,419.2 121.4,419.1 120.6,418.9 119.8,418.8 119,418.6 118.2,418.5 117.4,418.4 116.6,418.2 115.8,418.1 115,418 114.2,417.9 113.4,417.8 112.6,417.6 111.8,417.5 111,417.4 110.2,417.3 109.4,417.2 108.6,417 107.8,416.9 107,416.8 106.2,416.7 105.4,416.6 104.6,416.5 103.8,416.4 103,416.3 102.2,416.2 101.4,416.1 100.6,416.1 99.8,416 99,415.9 98.2,415.8 97.4,415.8 96.6,415.7 95.8,415.6 95,415.6 94.2,415.5 93.4,415.4 92.6,415.4 91.8,415.3 91,415.2 90.2,415.2 89.4,415.1 88.6,415 87.8,415 87,414.9 86.2,414.9 85.4,414.8 84.6,414.7 83.8,414.7 83,414.6 82.2,414.6 81.4,414.5 80.6,414.5 79.8,414.4 79,414.4 78.2,414.3 77.4,414.3 76.6,414.2 75.8,414.2 75,414.1 74.2,414.1 73.4,414 72.6,414 71.8,414 71,413.9 70.2,413.9 69.4,413.9 68.6,413.8 67.8,413.8 67,413.8 66.2,413.8 65.4,413.8 64.6,413.7 63.8,413.7 63,413.7 62.2,413.7 61.4,413.7 60.6,413.7 59.8,413.7 59,413.7 58.2,413.7 57.4,413.7 56.6,413.7 55.8,413.7 55,413.7 54.2,413.7 53.4,413.7 52.6,413.7 51.8,413.7 51,413.7 50.2,413.8 49.4,413.8 48.6,413.8 47.8,413.8 47,413.8 46.2,413.8 45.4,413.8Z" fill="rgba(200,224,234,0.85)"/>
<path d="M67.8,413.5 68.6,413.5 69.4,413.6 70.2,413.6 71,413.6 71.8,413.6 72.6,413.6 73.4,413.7 74.2,413.7 75,413.7 75.8,413.7 76.6,413.8 77.4,413.8 78.2,413.8 79,413.9 79.8,413.9 80.6,413.9 81.4,414 82.2,414 83,414 83.8,414.1 84.6,414.1 85.4,414.1 86.2,414.1 87,414.2 87.8,414.2 88.6,414.2 89.4,414.2 90.2,414.2 91,414.2 91.8,414.2 92.6,414.1 93.4,414.1 94.2,414 95,413.8 95.8,413.6 96.6,413.3 97.4,413 98.2,412.5 99,411.8 99.8,411 100.6,410 101.4,408.8 102.2,407.2 103,405.4 103.8,403.2 104.6,400.6 105.4,397.6 106.2,394.2 107,390.3 107.8,386.1 108.6,381.5 109.4,376.6 110.2,371.4 111,366.1 111.8,360.8 112.6,355.7 113.4,350.7 114.2,346.2 115,342.3 115.8,339.1 116.6,336.7 117.4,335.4 118.2,335.1 119,335.9 119.8,337.8 120.6,340.7 121.4,344.4 122.2,348.9 123,353.8 123.8,359 124.6,364.3 125.4,369.7 126.2,374.9 127,380 127.8,384.8 128.6,389.2 129.4,393.3 130.2,397 131,400.4 131.8,403.3 132.6,405.9 133.4,408.1 134.2,410 135,411.7 135.8,413.1 136.6,414.3 137.4,415.3 138.2,416.1 139,416.8 139.8,417.4 140.6,418 141.4,418.4 142.2,418.8 143,419.1 143.8,419.4 144.6,419.6 145.4,419.8 146.2,420 147,420.2 147.8,420.3 148.6,420.5 149.4,420.6 150.2,420.8 151,420.9 151.8,421 152.6,421.1 153.4,421.2 154.2,421.3 155,421.3 155.8,421.4 156.6,421.5 157.4,421.5" fill="none" stroke="#d9b49c" stroke-width="0.8"/>
<path d="M45.4,413.5 46.2,413.5 47,413.5 47.8,413.5 48.6,413.4 49.4,413.4 50.2,413.4 51,413.4 51.8,413.3 52.6,413.3 53.4,413.3 54.2,413.2 55,413.2 55.8,413.2 56.6,413.2 57.4,413.1 58.2,413.1 59,413.1 59.8,413 60.6,413 61.4,413 62.2,412.9 63,412.9 63.8,412.8 64.6,412.8 65.4,412.7 66.2,412.6 67,412.5 67.8,412.3 68.6,412.2 69.4,411.9 70.2,411.6 71,411.2 71.8,410.7 72.6,410 73.4,409.2 74.2,408.2 75,407 75.8,405.5 76.6,403.8 77.4,401.8 78.2,399.6 79,397 79.8,394.3 80.6,391.4 81.4,388.3 82.2,385.2 83,382.1 83.8,379.2 84.6,376.6 85.4,374.3 86.2,372.6 87,371.5 87.8,371.2 88.6,371.6 89.4,372.7 90.2,374.5 91,376.8 91.8,379.5 92.6,382.5 93.4,385.7 94.2,388.9 95,392.1 95.8,395.1 96.6,398 97.4,400.7 98.2,403 99,405.2 99.8,407 100.6,408.6 101.4,410 102.2,411.1 103,412.1 103.8,412.9 104.6,413.6 105.4,414.1 106.2,414.6 107,415 107.8,415.3 108.6,415.6 109.4,415.9 110.2,416.1 111,416.3 111.8,416.5 112.6,416.7 113.4,416.9 114.2,417.1 115,417.2 115.8,417.4 116.6,417.6 117.4,417.7 118.2,417.9 119,418 119.8,418.2 120.6,418.4 121.4,418.5 122.2,418.7 123,418.9 123.8,419 124.6,419.2 125.4,419.4 126.2,419.5 127,419.7 127.8,419.8 128.6,420 129.4,420.1 130.2,420.3 131,420.4 131.8,420.5" fill="none" stroke="#a9bccb" stroke-width="0.8"/>
<path d="M31,414.1 31.8,414 32.6,414 33.4,414 34.2,413.9 35,413.9 35.8,413.8 36.6,413.8 37.4,413.7 38.2,413.7 39,413.7 39.8,413.6 40.6,413.6 41.4,413.5 42.2,413.5 43,413.5 43.8,413.4 44.6,413.4 45.4,413.4 46.2,413.4 47,413.3 47.8,413.3 48.6,413.3 49.4,413.2 50.2,413.2 51,413.2 51.8,413.1 52.6,413.1 53.4,413.1 54.2,413.1 55,413 55.8,413 56.6,413 57.4,412.9 58.2,412.9 59,412.9 59.8,412.8 60.6,412.8 61.4,412.7 62.2,412.7 63,412.6 63.8,412.6 64.6,412.5 65.4,412.4 66.2,412.3 67,412.2 67.8,412 68.6,411.8 69.4,411.6 70.2,411.3 71,410.9 71.8,410.3 72.6,409.7 73.4,408.8 74.2,407.8 75,406.6 75.8,405.1 76.6,403.4 77.4,401.4 78.2,399.1 79,396.6 79.8,393.8 80.6,390.8 81.4,387.7 82.2,384.6 83,381.5 83.8,378.6 84.6,375.9 85.4,373.6 86.2,371.9 87,370.8 87.8,370.4 88.6,370.7 89.4,371.8 90.2,373.5 91,375.7 91.8,378.3 92.6,381.2 93.4,384.3 94.2,387.3 95,390.3 95.8,393.1 96.6,395.6 97.4,397.8 98.2,399.7 99,401.1 99.8,402.1 100.6,402.6 101.4,402.6 102.2,402.2 103,401.2 103.8,399.7 104.6,397.7 105.4,395.1 106.2,392.1 107,388.5 107.8,384.5 108.6,380.1 109.4,375.3 110.2,370.3 111,365.1 111.8,359.9 112.6,354.7 113.4,349.9 114.2,345.4 115,341.5 115.8,338.4 116.6,336.1 117.4,334.7 118.2,334.4 119,335.3 119.8,337.2 120.6,340.1 121.4,343.9 122.2,348.4 123,353.3 123.8,358.5 124.6,363.9 125.4,369.3 126.2,374.5 127,379.6 127.8,384.4 128.6,388.9 129.4,393 130.2,396.7 131,400 131.8,403 132.6,405.6 133.4,407.8 134.2,409.8 135,411.4 135.8,412.8 136.6,414 137.4,415 138.2,415.9 139,416.6 139.8,417.2 140.6,417.7 141.4,418.2 142.2,418.6 143,418.9 143.8,419.2 144.6,419.4 145.4,419.7 146.2,419.8 147,420 147.8,420.2 148.6,420.3 149.4,420.5 150.2,420.6 151,420.7 151.8,420.8 152.6,420.9 153.4,421 154.2,421.1 155,421.2 155.8,421.3 156.6,421.3 157.4,421.4" fill="none" stroke="#7f6553" stroke-width="1.3"/>
<path d="M31,414.4 31.8,414.3 32.6,414.3 33.4,414.2 34.2,414.2 35,414.2 35.8,414.1 36.6,414.1 37.4,414.1 38.2,414 39,414 39.8,414 40.6,414 41.4,413.9 42.2,413.9 43,413.9 43.8,413.9 44.6,413.8 45.4,413.8 46.2,413.8 47,413.8 47.8,413.8 48.6,413.8 49.4,413.8 50.2,413.8 51,413.7 51.8,413.7 52.6,413.7 53.4,413.7 54.2,413.7 55,413.7 55.8,413.7 56.6,413.7 57.4,413.7 58.2,413.7 59,413.7 59.8,413.7 60.6,413.7 61.4,413.7 62.2,413.7 63,413.7 63.8,413.7 64.6,413.7 65.4,413.8 66.2,413.8 67,413.8 67.8,413.8 68.6,413.8 69.4,413.9 70.2,413.9 71,413.9 71.8,414 72.6,414 73.4,414 74.2,414.1 75,414.1 75.8,414.2 76.6,414.2 77.4,414.3 78.2,414.3 79,414.4 79.8,414.4 80.6,414.5 81.4,414.5 82.2,414.6 83,414.6 83.8,414.7 84.6,414.7 85.4,414.8 86.2,414.9 87,414.9 87.8,415 88.6,415 89.4,415.1 90.2,415.2 91,415.2 91.8,415.3 92.6,415.4 93.4,415.4 94.2,415.5 95,415.6 95.8,415.6 96.6,415.7 97.4,415.8 98.2,415.8 99,415.9 99.8,416 100.6,416.1 101.4,416.1 102.2,416.2 103,416.3 103.8,416.4 104.6,416.5 105.4,416.6 106.2,416.7 107,416.8 107.8,416.9 108.6,417 109.4,417.2 110.2,417.3 111,417.4 111.8,417.5 112.6,417.6 113.4,417.8 114.2,417.9 115,418 115.8,418.1 116.6,418.2 117.4,418.4 118.2,418.5 119,418.6 119.8,418.8 120.6,418.9 121.4,419.1 122.2,419.2 123,419.3 123.8,419.5 124.6,419.6 125.4,419.8 126.2,419.9 127,420 127.8,420.2 128.6,420.3 129.4,420.5 130.2,420.6 131,420.7 131.8,420.8 132.6,421 133.4,421.1 134.2,421.2 135,421.3 135.8,421.4 136.6,421.5 137.4,421.6 138.2,421.7 139,421.8 139.8,421.9 140.6,422 141.4,422.1 142.2,422.2 143,422.3 143.8,422.3 144.6,422.4 145.4,422.4 146.2,422.5 147,422.5 147.8,422.5 148.6,422.6 149.4,422.6 150.2,422.6 151,422.7 151.8,422.7 152.6,422.7 153.4,422.7 154.2,422.8 155,422.8 155.8,422.8 156.6,422.8 157.4,422.8" fill="none" stroke="#3a3a3a" stroke-width="1.3"/>
</g>
<line x1="51.7" y1="427.7" x2="51.7" y2="424.2" stroke="#4a4a4a" stroke-width="1.15"/>
<text x="51.7" y="442.0" font-size="12.4" text-anchor="middle">355</text>
<line x1="72.9" y1="427.7" x2="72.9" y2="425.5" stroke="#4a4a4a" stroke-width="1.15"/>
<line x1="94.1" y1="427.7" x2="94.1" y2="424.2" stroke="#4a4a4a" stroke-width="1.15"/>
<text x="94.1" y="442.0" font-size="12.4" text-anchor="middle">350</text>
<line x1="115.4" y1="427.7" x2="115.4" y2="425.5" stroke="#4a4a4a" stroke-width="1.15"/>
<line x1="136.6" y1="427.7" x2="136.6" y2="424.2" stroke="#4a4a4a" stroke-width="1.15"/>
<text x="136.6" y="442.0" font-size="12.4" text-anchor="middle">345</text>
<text x="31.5" y="249.2" font-size="12.6">5°C</text>
<clipPath id="bc1"><rect x="157.8" y="237.4" width="127.3" height="190.3"/></clipPath>
<g clip-path="url(#bc1)">
<path d="M158.3,410.2 159.1,410.2 159.9,410.2 160.7,410.2 161.5,410.2 162.3,410.2 163.1,410.2 163.9,410.2 164.7,410.2 165.5,410.2 166.3,410.2 167.1,410.2 167.9,410.2 168.7,410.1 169.5,410.1 170.3,410.1 171.1,410.1 171.9,410.1 172.7,410.1 173.5,410.1 174.3,410.1 175.1,410.1 175.9,410 176.7,410 177.5,410 178.3,409.9 179.1,409.9 179.9,409.8 180.7,409.8 181.5,409.7 182.3,409.6 183.1,409.4 183.9,409.2 184.7,409 185.5,408.7 186.3,408.3 187.1,407.9 187.9,407.3 188.7,406.6 189.5,405.7 190.3,404.7 191.1,403.5 191.9,402.1 192.7,400.5 193.5,398.7 194.3,396.7 195.1,394.5 195.9,392.1 196.7,389.5 197.5,386.9 198.3,384.1 199.1,381.3 199.9,378.6 200.7,376 201.5,373.6 202.3,371.4 203.1,369.6 203.9,368.2 204.7,367.1 205.5,366.6 206.3,366.6 207.1,367 207.9,367.8 208.7,369 209.5,370.6 210.3,372.4 211.1,374.3 211.9,376.3 212.7,378.3 213.5,380.1 214.3,381.8 215.1,383.2 215.9,384.3 216.7,385 217.5,385.3 218.3,385.2 219.1,384.6 219.9,383.5 220.7,382 221.5,380.1 222.3,377.7 223.1,374.9 223.9,371.9 224.7,368.5 225.5,364.9 226.3,361.1 227.1,357.2 227.9,353.3 228.7,349.4 229.5,345.6 230.3,342 231.1,338.7 231.9,335.6 232.7,332.9 233.5,330.7 234.3,328.8 235.1,327.6 235.9,326.8 236.7,326.6 237.5,327 238.3,328.2 239.1,330 239.9,332.5 240.7,335.5 241.5,338.9 242.3,342.6 243.1,346.6 243.9,350.7 244.7,354.8 245.5,359 246.3,363.1 247.1,367.1 247.9,370.9 248.7,374.6 249.5,378.1 250.3,381.4 251.1,384.5 251.9,387.4 252.7,390.1 253.5,392.7 254.3,395 255.1,397.1 255.9,399.1 256.7,400.9 257.5,402.7 258.3,404.3 259.1,405.7 259.9,407.1 260.7,408.3 261.5,409.5 262.3,410.5 263.1,411.3 263.9,412.1 264.7,412.8 265.5,413.3 266.3,413.8 267.1,414.2 267.9,414.6 268.7,415 269.5,415.3 270.3,415.6 271.1,415.9 271.9,416.2 272.7,416.4 273.5,416.7 274.3,416.9 275.1,417.1 275.9,417.3 276.7,417.4 277.5,417.6 278.3,417.8 279.1,417.9 279.9,418 280.7,418.2 281.5,418.3 282.3,418.4 283.1,418.5 283.9,418.6 284.7,418.7 284.7,421.6 283.9,421.6 283.1,421.6 282.3,421.6 281.5,421.6 280.7,421.6 279.9,421.6 279.1,421.5 278.3,421.5 277.5,421.5 276.7,421.5 275.9,421.5 275.1,421.5 274.3,421.4 273.5,421.4 272.7,421.4 271.9,421.3 271.1,421.3 270.3,421.3 269.5,421.2 268.7,421.2 267.9,421.2 267.1,421.1 266.3,421.1 265.5,421 264.7,421 263.9,420.9 263.1,420.7 262.3,420.5 261.5,420.2 260.7,420 259.9,419.7 259.1,419.4 258.3,419 257.5,418.8 256.7,418.5 255.9,418.2 255.1,418 254.3,417.8 253.5,417.7 252.7,417.5 251.9,417.3 251.1,417.1 250.3,417 249.5,416.8 248.7,416.7 247.9,416.5 247.1,416.4 246.3,416.2 245.5,416.1 244.7,415.9 243.9,415.8 243.1,415.7 242.3,415.5 241.5,415.4 240.7,415.3 239.9,415.2 239.1,415 238.3,414.9 237.5,414.8 236.7,414.7 235.9,414.6 235.1,414.5 234.3,414.4 233.5,414.3 232.7,414.2 231.9,414.1 231.1,414 230.3,413.9 229.5,413.8 228.7,413.8 227.9,413.7 227.1,413.6 226.3,413.5 225.5,413.4 224.7,413.3 223.9,413.3 223.1,413.2 222.3,413.1 221.5,413 220.7,413 219.9,412.9 219.1,412.8 218.3,412.7 217.5,412.7 216.7,412.6 215.9,412.5 215.1,412.5 214.3,412.4 213.5,412.4 212.7,412.3 211.9,412.2 211.1,412.2 210.3,412.1 209.5,412.1 208.7,412 207.9,412 207.1,411.9 206.3,411.8 205.5,411.8 204.7,411.7 203.9,411.7 203.1,411.6 202.3,411.6 201.5,411.5 200.7,411.4 199.9,411.4 199.1,411.3 198.3,411.3 197.5,411.2 196.7,411.2 195.9,411.1 195.1,411.1 194.3,411 193.5,411 192.7,410.9 191.9,410.9 191.1,410.8 190.3,410.8 189.5,410.8 188.7,410.7 187.9,410.7 187.1,410.7 186.3,410.6 185.5,410.6 184.7,410.6 183.9,410.6 183.1,410.5 182.3,410.5 181.5,410.5 180.7,410.5 179.9,410.5 179.1,410.5 178.3,410.5 177.5,410.5 176.7,410.5 175.9,410.5 175.1,410.5 174.3,410.5 173.5,410.5 172.7,410.4 171.9,410.4 171.1,410.4 170.3,410.4 169.5,410.4 168.7,410.4 167.9,410.4 167.1,410.4 166.3,410.4 165.5,410.4 164.7,410.4 163.9,410.4 163.1,410.4 162.3,410.4 161.5,410.4 160.7,410.4 159.9,410.4 159.1,410.4 158.3,410.4Z" fill="#fdf5f5"/>
<path d="M203.1,411.3 203.9,411.3 204.7,411.2 205.5,411.1 206.3,411 207.1,410.8 207.9,410.6 208.7,410.3 209.5,409.9 210.3,409.4 211.1,408.9 211.9,408.2 212.7,407.4 213.5,406.4 214.3,405.3 215.1,404 215.9,402.5 216.7,400.8 217.5,398.9 218.3,396.7 219.1,394.3 219.9,391.6 220.7,388.7 221.5,385.5 222.3,382.1 223.1,378.5 223.9,374.8 224.7,370.8 225.5,366.7 226.3,362.6 227.1,358.4 227.9,354.3 228.7,350.2 229.5,346.3 230.3,342.6 231.1,339.1 231.9,336 232.7,333.3 233.5,331 234.3,329.1 235.1,327.8 235.9,327 236.7,326.8 237.5,327.2 238.3,328.4 239.1,330.2 239.9,332.7 240.7,335.7 241.5,339.1 242.3,342.8 243.1,346.8 243.9,350.8 244.7,355 245.5,359.1 246.3,363.2 247.1,367.2 247.9,371 248.7,374.7 249.5,378.2 250.3,381.5 251.1,384.6 251.9,387.5 252.7,390.2 253.5,392.8 254.3,395.1 255.1,397.2 255.9,399.2 256.7,401 257.5,402.8 258.3,404.4 259.1,405.8 259.9,407.2 260.7,408.4 261.5,409.5 262.3,410.5 263.1,411.4 263.9,412.2 264.7,412.8 265.5,413.4 266.3,413.8 267.1,414.3 267.9,414.7 268.7,415 269.5,415.4 270.3,415.7 271.1,416 271.9,416.2 272.7,416.5 273.5,416.7 274.3,416.9 275.1,417.1 275.9,417.3 276.7,417.5 277.5,417.7 278.3,417.8 279.1,418 279.9,418.1 280.7,418.2 281.5,418.3 282.3,418.5 283.1,418.6 283.9,418.7 284.7,418.8 284.7,421.6 283.9,421.6 283.1,421.6 282.3,421.6 281.5,421.6 280.7,421.6 279.9,421.6 279.1,421.5 278.3,421.5 277.5,421.5 276.7,421.5 275.9,421.5 275.1,421.5 274.3,421.4 273.5,421.4 272.7,421.4 271.9,421.3 271.1,421.3 270.3,421.3 269.5,421.2 268.7,421.2 267.9,421.2 267.1,421.1 266.3,421.1 265.5,421 264.7,421 263.9,420.9 263.1,420.7 262.3,420.5 261.5,420.2 260.7,420 259.9,419.7 259.1,419.4 258.3,419 257.5,418.8 256.7,418.5 255.9,418.2 255.1,418 254.3,417.8 253.5,417.7 252.7,417.5 251.9,417.3 251.1,417.1 250.3,417 249.5,416.8 248.7,416.7 247.9,416.5 247.1,416.4 246.3,416.2 245.5,416.1 244.7,415.9 243.9,415.8 243.1,415.7 242.3,415.5 241.5,415.4 240.7,415.3 239.9,415.2 239.1,415 238.3,414.9 237.5,414.8 236.7,414.7 235.9,414.6 235.1,414.5 234.3,414.4 233.5,414.3 232.7,414.2 231.9,414.1 231.1,414 230.3,413.9 229.5,413.8 228.7,413.8 227.9,413.7 227.1,413.6 226.3,413.5 225.5,413.4 224.7,413.3 223.9,413.3 223.1,413.2 222.3,413.1 221.5,413 220.7,413 219.9,412.9 219.1,412.8 218.3,412.7 217.5,412.7 216.7,412.6 215.9,412.5 215.1,412.5 214.3,412.4 213.5,412.4 212.7,412.3 211.9,412.2 211.1,412.2 210.3,412.1 209.5,412.1 208.7,412 207.9,412 207.1,411.9 206.3,411.8 205.5,411.8 204.7,411.7 203.9,411.7 203.1,411.6Z" fill="#f9dcc4"/>
<path d="M170.3,410.1 171.1,410.1 171.9,410.1 172.7,410.1 173.5,410.1 174.3,410.1 175.1,410.1 175.9,410 176.7,410 177.5,410 178.3,409.9 179.1,409.9 179.9,409.8 180.7,409.8 181.5,409.7 182.3,409.6 183.1,409.4 183.9,409.2 184.7,409 185.5,408.7 186.3,408.3 187.1,407.9 187.9,407.3 188.7,406.6 189.5,405.7 190.3,404.7 191.1,403.5 191.9,402.1 192.7,400.5 193.5,398.7 194.3,396.7 195.1,394.5 195.9,392.1 196.7,389.6 197.5,386.9 198.3,384.2 199.1,381.4 199.9,378.7 200.7,376.2 201.5,373.8 202.3,371.7 203.1,369.9 203.9,368.6 204.7,367.7 205.5,367.3 206.3,367.4 207.1,368.1 207.9,369.2 208.7,370.8 209.5,372.7 210.3,375 211.1,377.6 211.9,380.3 212.7,383.2 213.5,386 214.3,388.9 215.1,391.7 215.9,394.3 216.7,396.8 217.5,399.2 218.3,401.3 219.1,403.1 219.9,404.8 220.7,406.3 221.5,407.6 222.3,408.7 223.1,409.6 223.9,410.4 224.7,411 225.5,411.6 226.3,412 227.1,412.4 227.9,412.7 228.7,413 229.5,413.2 230.3,413.4 231.1,413.6 231.9,413.7 232.7,413.9 233.5,414 233.5,414.3 232.7,414.2 231.9,414.1 231.1,414 230.3,413.9 229.5,413.8 228.7,413.8 227.9,413.7 227.1,413.6 226.3,413.5 225.5,413.4 224.7,413.3 223.9,413.3 223.1,413.2 222.3,413.1 221.5,413 220.7,413 219.9,412.9 219.1,412.8 218.3,412.7 217.5,412.7 216.7,412.6 215.9,412.5 215.1,412.5 214.3,412.4 213.5,412.4 212.7,412.3 211.9,412.2 211.1,412.2 210.3,412.1 209.5,412.1 208.7,412 207.9,412 207.1,411.9 206.3,411.8 205.5,411.8 204.7,411.7 203.9,411.7 203.1,411.6 202.3,411.6 201.5,411.5 200.7,411.4 199.9,411.4 199.1,411.3 198.3,411.3 197.5,411.2 196.7,411.2 195.9,411.1 195.1,411.1 194.3,411 193.5,411 192.7,410.9 191.9,410.9 191.1,410.8 190.3,410.8 189.5,410.8 188.7,410.7 187.9,410.7 187.1,410.7 186.3,410.6 185.5,410.6 184.7,410.6 183.9,410.6 183.1,410.5 182.3,410.5 181.5,410.5 180.7,410.5 179.9,410.5 179.1,410.5 178.3,410.5 177.5,410.5 176.7,410.5 175.9,410.5 175.1,410.5 174.3,410.5 173.5,410.5 172.7,410.4 171.9,410.4 171.1,410.4 170.3,410.4Z" fill="rgba(200,224,234,0.85)"/>
<path d="M203.1,411.3 203.9,411.3 204.7,411.2 205.5,411.1 206.3,411 207.1,410.8 207.9,410.6 208.7,410.3 209.5,409.9 210.3,409.4 211.1,408.9 211.9,408.2 212.7,407.4 213.5,406.4 214.3,405.3 215.1,404 215.9,402.5 216.7,400.8 217.5,398.9 218.3,396.7 219.1,394.3 219.9,391.6 220.7,388.7 221.5,385.5 222.3,382.1 223.1,378.5 223.9,374.8 224.7,370.8 225.5,366.7 226.3,362.6 227.1,358.4 227.9,354.3 228.7,350.2 229.5,346.3 230.3,342.6 231.1,339.1 231.9,336 232.7,333.3 233.5,331 234.3,329.1 235.1,327.8 235.9,327 236.7,326.8 237.5,327.2 238.3,328.4 239.1,330.2 239.9,332.7 240.7,335.7 241.5,339.1 242.3,342.8 243.1,346.8 243.9,350.8 244.7,355 245.5,359.1 246.3,363.2 247.1,367.2 247.9,371 248.7,374.7 249.5,378.2 250.3,381.5 251.1,384.6 251.9,387.5 252.7,390.2 253.5,392.8 254.3,395.1 255.1,397.2 255.9,399.2 256.7,401 257.5,402.8 258.3,404.4 259.1,405.8 259.9,407.2 260.7,408.4 261.5,409.5 262.3,410.5 263.1,411.4 263.9,412.2 264.7,412.8 265.5,413.4 266.3,413.8 267.1,414.3 267.9,414.7 268.7,415 269.5,415.4 270.3,415.7 271.1,416 271.9,416.2 272.7,416.5 273.5,416.7 274.3,416.9 275.1,417.1 275.9,417.3 276.7,417.5 277.5,417.7 278.3,417.8 279.1,418 279.9,418.1 280.7,418.2 281.5,418.3 282.3,418.5 283.1,418.6 283.9,418.7 284.7,418.8" fill="none" stroke="#d9b49c" stroke-width="0.8"/>
<path d="M170.3,410.1 171.1,410.1 171.9,410.1 172.7,410.1 173.5,410.1 174.3,410.1 175.1,410.1 175.9,410 176.7,410 177.5,410 178.3,409.9 179.1,409.9 179.9,409.8 180.7,409.8 181.5,409.7 182.3,409.6 183.1,409.4 183.9,409.2 184.7,409 185.5,408.7 186.3,408.3 187.1,407.9 187.9,407.3 188.7,406.6 189.5,405.7 190.3,404.7 191.1,403.5 191.9,402.1 192.7,400.5 193.5,398.7 194.3,396.7 195.1,394.5 195.9,392.1 196.7,389.6 197.5,386.9 198.3,384.2 199.1,381.4 199.9,378.7 200.7,376.2 201.5,373.8 202.3,371.7 203.1,369.9 203.9,368.6 204.7,367.7 205.5,367.3 206.3,367.4 207.1,368.1 207.9,369.2 208.7,370.8 209.5,372.7 210.3,375 211.1,377.6 211.9,380.3 212.7,383.2 213.5,386 214.3,388.9 215.1,391.7 215.9,394.3 216.7,396.8 217.5,399.2 218.3,401.3 219.1,403.1 219.9,404.8 220.7,406.3 221.5,407.6 222.3,408.7 223.1,409.6 223.9,410.4 224.7,411 225.5,411.6 226.3,412 227.1,412.4 227.9,412.7 228.7,413 229.5,413.2 230.3,413.4 231.1,413.6 231.9,413.7 232.7,413.9 233.5,414" fill="none" stroke="#a9bccb" stroke-width="0.8"/>
<path d="M158.3,410.2 159.1,410.2 159.9,410.2 160.7,410.2 161.5,410.2 162.3,410.2 163.1,410.2 163.9,410.2 164.7,410.2 165.5,410.2 166.3,410.2 167.1,410.2 167.9,410.2 168.7,410.1 169.5,410.1 170.3,410.1 171.1,410.1 171.9,410.1 172.7,410.1 173.5,410.1 174.3,410.1 175.1,410.1 175.9,410 176.7,410 177.5,410 178.3,409.9 179.1,409.9 179.9,409.8 180.7,409.8 181.5,409.7 182.3,409.6 183.1,409.4 183.9,409.2 184.7,409 185.5,408.7 186.3,408.3 187.1,407.9 187.9,407.3 188.7,406.6 189.5,405.7 190.3,404.7 191.1,403.5 191.9,402.1 192.7,400.5 193.5,398.7 194.3,396.7 195.1,394.5 195.9,392.1 196.7,389.5 197.5,386.9 198.3,384.1 199.1,381.3 199.9,378.6 200.7,376 201.5,373.6 202.3,371.4 203.1,369.6 203.9,368.2 204.7,367.1 205.5,366.6 206.3,366.6 207.1,367 207.9,367.8 208.7,369 209.5,370.6 210.3,372.4 211.1,374.3 211.9,376.3 212.7,378.3 213.5,380.1 214.3,381.8 215.1,383.2 215.9,384.3 216.7,385 217.5,385.3 218.3,385.2 219.1,384.6 219.9,383.5 220.7,382 221.5,380.1 222.3,377.7 223.1,374.9 223.9,371.9 224.7,368.5 225.5,364.9 226.3,361.1 227.1,357.2 227.9,353.3 228.7,349.4 229.5,345.6 230.3,342 231.1,338.7 231.9,335.6 232.7,332.9 233.5,330.7 234.3,328.8 235.1,327.6 235.9,326.8 236.7,326.6 237.5,327 238.3,328.2 239.1,330 239.9,332.5 240.7,335.5 241.5,338.9 242.3,342.6 243.1,346.6 243.9,350.7 244.7,354.8 245.5,359 246.3,363.1 247.1,367.1 247.9,370.9 248.7,374.6 249.5,378.1 250.3,381.4 251.1,384.5 251.9,387.4 252.7,390.1 253.5,392.7 254.3,395 255.1,397.1 255.9,399.1 256.7,400.9 257.5,402.7 258.3,404.3 259.1,405.7 259.9,407.1 260.7,408.3 261.5,409.5 262.3,410.5 263.1,411.3 263.9,412.1 264.7,412.8 265.5,413.3 266.3,413.8 267.1,414.2 267.9,414.6 268.7,415 269.5,415.3 270.3,415.6 271.1,415.9 271.9,416.2 272.7,416.4 273.5,416.7 274.3,416.9 275.1,417.1 275.9,417.3 276.7,417.4 277.5,417.6 278.3,417.8 279.1,417.9 279.9,418 280.7,418.2 281.5,418.3 282.3,418.4 283.1,418.5 283.9,418.6 284.7,418.7" fill="none" stroke="#7f6553" stroke-width="1.3"/>
<path d="M158.3,410.4 159.1,410.4 159.9,410.4 160.7,410.4 161.5,410.4 162.3,410.4 163.1,410.4 163.9,410.4 164.7,410.4 165.5,410.4 166.3,410.4 167.1,410.4 167.9,410.4 168.7,410.4 169.5,410.4 170.3,410.4 171.1,410.4 171.9,410.4 172.7,410.4 173.5,410.5 174.3,410.5 175.1,410.5 175.9,410.5 176.7,410.5 177.5,410.5 178.3,410.5 179.1,410.5 179.9,410.5 180.7,410.5 181.5,410.5 182.3,410.5 183.1,410.5 183.9,410.6 184.7,410.6 185.5,410.6 186.3,410.6 187.1,410.7 187.9,410.7 188.7,410.7 189.5,410.8 190.3,410.8 191.1,410.8 191.9,410.9 192.7,410.9 193.5,411 194.3,411 195.1,411.1 195.9,411.1 196.7,411.2 197.5,411.2 198.3,411.3 199.1,411.3 199.9,411.4 200.7,411.4 201.5,411.5 202.3,411.6 203.1,411.6 203.9,411.7 204.7,411.7 205.5,411.8 206.3,411.8 207.1,411.9 207.9,412 208.7,412 209.5,412.1 210.3,412.1 211.1,412.2 211.9,412.2 212.7,412.3 213.5,412.4 214.3,412.4 215.1,412.5 215.9,412.5 216.7,412.6 217.5,412.7 218.3,412.7 219.1,412.8 219.9,412.9 220.7,413 221.5,413 222.3,413.1 223.1,413.2 223.9,413.3 224.7,413.3 225.5,413.4 226.3,413.5 227.1,413.6 227.9,413.7 228.7,413.8 229.5,413.8 230.3,413.9 231.1,414 231.9,414.1 232.7,414.2 233.5,414.3 234.3,414.4 235.1,414.5 235.9,414.6 236.7,414.7 237.5,414.8 238.3,414.9 239.1,415 239.9,415.2 240.7,415.3 241.5,415.4 242.3,415.5 243.1,415.7 243.9,415.8 244.7,415.9 245.5,416.1 246.3,416.2 247.1,416.4 247.9,416.5 248.7,416.7 249.5,416.8 250.3,417 251.1,417.1 251.9,417.3 252.7,417.5 253.5,417.7 254.3,417.8 255.1,418 255.9,418.2 256.7,418.5 257.5,418.8 258.3,419 259.1,419.4 259.9,419.7 260.7,420 261.5,420.2 262.3,420.5 263.1,420.7 263.9,420.9 264.7,421 265.5,421 266.3,421.1 267.1,421.1 267.9,421.2 268.7,421.2 269.5,421.2 270.3,421.3 271.1,421.3 271.9,421.3 272.7,421.4 273.5,421.4 274.3,421.4 275.1,421.5 275.9,421.5 276.7,421.5 277.5,421.5 278.3,421.5 279.1,421.5 279.9,421.6 280.7,421.6 281.5,421.6 282.3,421.6 283.1,421.6 283.9,421.6 284.7,421.6" fill="none" stroke="#3a3a3a" stroke-width="1.3"/>
</g>
<line x1="179" y1="427.7" x2="179" y2="424.2" stroke="#4a4a4a" stroke-width="1.15"/>
<text x="179" y="442.0" font-size="12.4" text-anchor="middle">355</text>
<line x1="200.2" y1="427.7" x2="200.2" y2="425.5" stroke="#4a4a4a" stroke-width="1.15"/>
<line x1="221.4" y1="427.7" x2="221.4" y2="424.2" stroke="#4a4a4a" stroke-width="1.15"/>
<text x="221.4" y="442.0" font-size="12.4" text-anchor="middle">350</text>
<line x1="242.6" y1="427.7" x2="242.6" y2="425.5" stroke="#4a4a4a" stroke-width="1.15"/>
<line x1="263.8" y1="427.7" x2="263.8" y2="424.2" stroke="#4a4a4a" stroke-width="1.15"/>
<text x="263.8" y="442.0" font-size="12.4" text-anchor="middle">345</text>
<text x="158.8" y="249.2" font-size="12.6">10°C</text>
<clipPath id="bc2"><rect x="285.1" y="237.4" width="127.3" height="190.3"/></clipPath>
<g clip-path="url(#bc2)">
<path d="M285.6,398 286.4,397.9 287.2,397.9 288,397.8 288.8,397.8 289.6,397.7 290.4,397.7 291.2,397.6 292,397.5 292.8,397.5 293.6,397.4 294.4,397.3 295.2,397.3 296,397.2 296.8,397.1 297.6,397 298.4,397 299.2,396.9 300,396.8 300.8,396.6 301.6,396.5 302.4,396.4 303.2,396.3 304,396.1 304.8,395.9 305.6,395.7 306.4,395.5 307.2,395.2 308,394.9 308.8,394.5 309.6,394.1 310.4,393.6 311.2,393 312,392.3 312.8,391.5 313.6,390.5 314.4,389.4 315.2,388.1 316,386.6 316.8,384.9 317.6,383 318.4,380.8 319.2,378.4 320,375.8 320.8,372.9 321.6,369.8 322.4,366.6 323.2,363.2 324,359.6 324.8,356.1 325.6,352.6 326.4,349.2 327.2,346.1 328,343.4 328.8,341.1 329.6,339.5 330.4,338.5 331.2,338.2 332,338.7 332.8,339.8 333.6,341.5 334.4,343.7 335.2,346.2 336,349 336.8,351.9 337.6,354.8 338.4,357.6 339.2,360.2 340,362.5 340.8,364.5 341.6,365.9 342.4,366.8 343.2,367.2 344,366.9 344.8,366 345.6,364.4 346.4,362.2 347.2,359.3 348,355.9 348.8,351.8 349.6,347.3 350.4,342.3 351.2,337 352,331.4 352.8,325.8 353.6,320 354.4,314.3 355.2,308.8 356,303.5 356.8,298.5 357.6,294 358.4,290 359.2,286.7 360,284 360.8,282.1 361.6,281.1 362.4,280.9 363.2,281.8 364,283.9 364.8,287.1 365.6,291.3 366.4,296.3 367.2,302.2 368,308.6 368.8,315.4 369.6,322.5 370.4,329.8 371.2,337 372,344.1 372.8,351 373.6,357.6 374.4,363.8 375.2,369.6 376,375 376.8,379.9 377.6,384.3 378.4,388.2 379.2,391.6 380,394.7 380.8,397.3 381.6,399.6 382.4,401.6 383.2,403.3 384,404.7 384.8,406 385.6,407 386.4,407.8 387.2,408.5 388,409.1 388.8,409.6 389.6,410 390.4,410.3 391.2,410.5 392,410.7 392.8,410.9 393.6,411 394.4,411.1 395.2,411.2 396,411.3 396.8,411.4 397.6,411.5 398.4,411.6 399.2,411.7 400,411.7 400.8,411.8 401.6,411.8 402.4,411.9 403.2,411.9 404,412 404.8,412 405.6,412.1 406.4,412.1 407.2,412.2 408,412.2 408.8,412.2 409.6,412.3 410.4,412.3 411.2,412.3 412,412.3 412,413.2 411.2,413.2 410.4,413.2 409.6,413.2 408.8,413.2 408,413.2 407.2,413.2 406.4,413.2 405.6,413.2 404.8,413.2 404,413.2 403.2,413.2 402.4,413.2 401.6,413.2 400.8,413.1 400,413.1 399.2,413.1 398.4,413.1 397.6,413.1 396.8,413.1 396,413.1 395.2,413.1 394.4,413.1 393.6,413.1 392.8,413 392,413 391.2,413 390.4,413 389.6,413 388.8,412.9 388,412.9 387.2,412.8 386.4,412.7 385.6,412.5 384.8,412.4 384,412.2 383.2,412.1 382.4,411.9 381.6,411.8 380.8,411.6 380,411.5 379.2,411.4 378.4,411.2 377.6,411.1 376.8,411 376,410.8 375.2,410.7 374.4,410.6 373.6,410.4 372.8,410.3 372,410.1 371.2,410 370.4,409.8 369.6,409.7 368.8,409.5 368,409.4 367.2,409.2 366.4,409 365.6,408.9 364.8,408.7 364,408.5 363.2,408.3 362.4,408.1 361.6,407.9 360.8,407.6 360,407.4 359.2,407.1 358.4,406.8 357.6,406.3 356.8,405.9 356,405.4 355.2,405 354.4,404.5 353.6,404 352.8,403.6 352,403.2 351.2,402.9 350.4,402.6 349.6,402.4 348.8,402.2 348,402 347.2,401.8 346.4,401.7 345.6,401.5 344.8,401.3 344,401.2 343.2,401 342.4,400.9 341.6,400.7 340.8,400.6 340,400.5 339.2,400.4 338.4,400.2 337.6,400.1 336.8,400 336,399.9 335.2,399.9 334.4,399.8 333.6,399.7 332.8,399.7 332,399.6 331.2,399.6 330.4,399.5 329.6,399.5 328.8,399.5 328,399.4 327.2,399.4 326.4,399.4 325.6,399.3 324.8,399.3 324,399.3 323.2,399.3 322.4,399.2 321.6,399.2 320.8,399.2 320,399.2 319.2,399.2 318.4,399.1 317.6,399.1 316.8,399.1 316,399.1 315.2,399.1 314.4,399 313.6,399 312.8,399 312,399 311.2,399 310.4,399 309.6,399 308.8,399 308,398.9 307.2,398.9 306.4,398.9 305.6,398.9 304.8,398.9 304,398.9 303.2,398.9 302.4,398.9 301.6,398.9 300.8,398.9 300,398.9 299.2,398.9 298.4,398.9 297.6,398.9 296.8,398.9 296,398.9 295.2,398.9 294.4,398.9 293.6,398.9 292.8,398.9 292,398.9 291.2,398.9 290.4,398.9 289.6,398.9 288.8,399 288,399 287.2,399 286.4,399 285.6,399Z" fill="#fdf5f5"/>
<path d="M330.4,399.1 331.2,399 332,398.9 332.8,398.8 333.6,398.5 334.4,398.3 335.2,397.9 336,397.5 336.8,396.9 337.6,396.2 338.4,395.3 339.2,394.3 340,393 340.8,391.5 341.6,389.7 342.4,387.7 343.2,385.2 344,382.5 344.8,379.3 345.6,375.8 346.4,371.9 347.2,367.5 348,362.8 348.8,357.7 349.6,352.3 350.4,346.5 351.2,340.6 352,334.6 352.8,328.5 353.6,322.4 354.4,316.4 355.2,310.7 356,305.2 356.8,300.1 357.6,295.4 358.4,291.4 359.2,287.9 360,285.2 360.8,283.2 361.6,282.1 362.4,281.9 363.2,282.7 364,284.8 364.8,287.9 365.6,292.1 366.4,297.1 367.2,302.9 368,309.3 368.8,316.1 369.6,323.2 370.4,330.4 371.2,337.6 372,344.7 372.8,351.6 373.6,358.2 374.4,364.4 375.2,370.2 376,375.5 376.8,380.3 377.6,384.7 378.4,388.6 379.2,392.1 380,395.1 380.8,397.7 381.6,400 382.4,402 383.2,403.7 384,405.1 384.8,406.3 385.6,407.3 386.4,408.2 387.2,408.9 388,409.4 388.8,409.9 389.6,410.3 390.4,410.5 391.2,410.8 392,411 392.8,411.1 393.6,411.3 394.4,411.4 395.2,411.5 396,411.6 396.8,411.7 397.6,411.7 398.4,411.8 399.2,411.9 400,411.9 400.8,412 401.6,412 402.4,412.1 403.2,412.1 404,412.2 404.8,412.2 405.6,412.3 406.4,412.3 407.2,412.3 408,412.4 408.8,412.4 409.6,412.4 410.4,412.4 411.2,412.5 412,412.5 412,413.2 411.2,413.2 410.4,413.2 409.6,413.2 408.8,413.2 408,413.2 407.2,413.2 406.4,413.2 405.6,413.2 404.8,413.2 404,413.2 403.2,413.2 402.4,413.2 401.6,413.2 400.8,413.1 400,413.1 399.2,413.1 398.4,413.1 397.6,413.1 396.8,413.1 396,413.1 395.2,413.1 394.4,413.1 393.6,413.1 392.8,413 392,413 391.2,413 390.4,413 389.6,413 388.8,412.9 388,412.9 387.2,412.8 386.4,412.7 385.6,412.5 384.8,412.4 384,412.2 383.2,412.1 382.4,411.9 381.6,411.8 380.8,411.6 380,411.5 379.2,411.4 378.4,411.2 377.6,411.1 376.8,411 376,410.8 375.2,410.7 374.4,410.6 373.6,410.4 372.8,410.3 372,410.1 371.2,410 370.4,409.8 369.6,409.7 368.8,409.5 368,409.4 367.2,409.2 366.4,409 365.6,408.9 364.8,408.7 364,408.5 363.2,408.3 362.4,408.1 361.6,407.9 360.8,407.6 360,407.4 359.2,407.1 358.4,406.8 357.6,406.3 356.8,405.9 356,405.4 355.2,405 354.4,404.5 353.6,404 352.8,403.6 352,403.2 351.2,402.9 350.4,402.6 349.6,402.4 348.8,402.2 348,402 347.2,401.8 346.4,401.7 345.6,401.5 344.8,401.3 344,401.2 343.2,401 342.4,400.9 341.6,400.7 340.8,400.6 340,400.5 339.2,400.4 338.4,400.2 337.6,400.1 336.8,400 336,399.9 335.2,399.9 334.4,399.8 333.6,399.7 332.8,399.7 332,399.6 331.2,399.6 330.4,399.5Z" fill="#f9dcc4"/>
<path d="M285.6,398 286.4,397.9 287.2,397.9 288,397.8 288.8,397.8 289.6,397.7 290.4,397.7 291.2,397.6 292,397.5 292.8,397.5 293.6,397.4 294.4,397.3 295.2,397.3 296,397.2 296.8,397.1 297.6,397 298.4,397 299.2,396.9 300,396.8 300.8,396.6 301.6,396.5 302.4,396.4 303.2,396.3 304,396.1 304.8,395.9 305.6,395.7 306.4,395.5 307.2,395.2 308,394.9 308.8,394.5 309.6,394.1 310.4,393.6 311.2,393 312,392.3 312.8,391.5 313.6,390.5 314.4,389.4 315.2,388.1 316,386.6 316.8,384.9 317.6,383 318.4,380.8 319.2,378.4 320,375.8 320.8,372.9 321.6,369.8 322.4,366.6 323.2,363.2 324,359.7 324.8,356.1 325.6,352.7 326.4,349.3 327.2,346.2 328,343.5 328.8,341.3 329.6,339.7 330.4,338.9 331.2,338.8 332,339.4 332.8,340.7 333.6,342.7 334.4,345.2 335.2,348.1 336,351.4 336.8,355 337.6,358.7 338.4,362.5 339.2,366.3 340,370 340.8,373.5 341.6,376.9 342.4,380 343.2,382.9 344,385.6 344.8,388 345.6,390.1 346.4,392 347.2,393.6 348,395.1 348.8,396.3 349.6,397.4 350.4,398.4 351.2,399.2 352,400.1 352.8,400.9 353.6,401.7 354.4,402.4 355.2,403.1 356,403.7 356.8,404.4 357.6,404.9 358.4,405.4 359.2,405.9 360,406.2 360.8,406.5 361.6,406.8 362.4,407.1 363.2,407.4 364,407.6 364.8,407.8 365.6,408.1 366.4,408.3 367.2,408.5 368,408.7 368.8,408.9 369.6,409 370.4,409.2 371.2,409.4 372,409.6 372.8,409.7 373.6,409.9 374.4,410 375.2,410.2 376,410.3 376.8,410.5 377.6,410.6 378.4,410.8 379.2,410.9 380,411.1 380.8,411.2 381.6,411.4 382.4,411.6 383.2,411.7 384,411.9 384.8,412 385.6,412.2 386.4,412.3 387.2,412.5 388,412.6 388.8,412.6 388.8,412.9 388,412.9 387.2,412.8 386.4,412.7 385.6,412.5 384.8,412.4 384,412.2 383.2,412.1 382.4,411.9 381.6,411.8 380.8,411.6 380,411.5 379.2,411.4 378.4,411.2 377.6,411.1 376.8,411 376,410.8 375.2,410.7 374.4,410.6 373.6,410.4 372.8,410.3 372,410.1 371.2,410 370.4,409.8 369.6,409.7 368.8,409.5 368,409.4 367.2,409.2 366.4,409 365.6,408.9 364.8,408.7 364,408.5 363.2,408.3 362.4,408.1 361.6,407.9 360.8,407.6 360,407.4 359.2,407.1 358.4,406.8 357.6,406.3 356.8,405.9 356,405.4 355.2,405 354.4,404.5 353.6,404 352.8,403.6 352,403.2 351.2,402.9 350.4,402.6 349.6,402.4 348.8,402.2 348,402 347.2,401.8 346.4,401.7 345.6,401.5 344.8,401.3 344,401.2 343.2,401 342.4,400.9 341.6,400.7 340.8,400.6 340,400.5 339.2,400.4 338.4,400.2 337.6,400.1 336.8,400 336,399.9 335.2,399.9 334.4,399.8 333.6,399.7 332.8,399.7 332,399.6 331.2,399.6 330.4,399.5 329.6,399.5 328.8,399.5 328,399.4 327.2,399.4 326.4,399.4 325.6,399.3 324.8,399.3 324,399.3 323.2,399.3 322.4,399.2 321.6,399.2 320.8,399.2 320,399.2 319.2,399.2 318.4,399.1 317.6,399.1 316.8,399.1 316,399.1 315.2,399.1 314.4,399 313.6,399 312.8,399 312,399 311.2,399 310.4,399 309.6,399 308.8,399 308,398.9 307.2,398.9 306.4,398.9 305.6,398.9 304.8,398.9 304,398.9 303.2,398.9 302.4,398.9 301.6,398.9 300.8,398.9 300,398.9 299.2,398.9 298.4,398.9 297.6,398.9 296.8,398.9 296,398.9 295.2,398.9 294.4,398.9 293.6,398.9 292.8,398.9 292,398.9 291.2,398.9 290.4,398.9 289.6,398.9 288.8,399 288,399 287.2,399 286.4,399 285.6,399Z" fill="rgba(200,224,234,0.85)"/>
<path d="M330.4,399.1 331.2,399 332,398.9 332.8,398.8 333.6,398.5 334.4,398.3 335.2,397.9 336,397.5 336.8,396.9 337.6,396.2 338.4,395.3 339.2,394.3 340,393 340.8,391.5 341.6,389.7 342.4,387.7 343.2,385.2 344,382.5 344.8,379.3 345.6,375.8 346.4,371.9 347.2,367.5 348,362.8 348.8,357.7 349.6,352.3 350.4,346.5 351.2,340.6 352,334.6 352.8,328.5 353.6,322.4 354.4,316.4 355.2,310.7 356,305.2 356.8,300.1 357.6,295.4 358.4,291.4 359.2,287.9 360,285.2 360.8,283.2 361.6,282.1 362.4,281.9 363.2,282.7 364,284.8 364.8,287.9 365.6,292.1 366.4,297.1 367.2,302.9 368,309.3 368.8,316.1 369.6,323.2 370.4,330.4 371.2,337.6 372,344.7 372.8,351.6 373.6,358.2 374.4,364.4 375.2,370.2 376,375.5 376.8,380.3 377.6,384.7 378.4,388.6 379.2,392.1 380,395.1 380.8,397.7 381.6,400 382.4,402 383.2,403.7 384,405.1 384.8,406.3 385.6,407.3 386.4,408.2 387.2,408.9 388,409.4 388.8,409.9 389.6,410.3 390.4,410.5 391.2,410.8 392,411 392.8,411.1 393.6,411.3 394.4,411.4 395.2,411.5 396,411.6 396.8,411.7 397.6,411.7 398.4,411.8 399.2,411.9 400,411.9 400.8,412 401.6,412 402.4,412.1 403.2,412.1 404,412.2 404.8,412.2 405.6,412.3 406.4,412.3 407.2,412.3 408,412.4 408.8,412.4 409.6,412.4 410.4,412.4 411.2,412.5 412,412.5" fill="none" stroke="#d9b49c" stroke-width="0.8"/>
<path d="M285.6,398 286.4,397.9 287.2,397.9 288,397.8 288.8,397.8 289.6,397.7 290.4,397.7 291.2,397.6 292,397.5 292.8,397.5 293.6,397.4 294.4,397.3 295.2,397.3 296,397.2 296.8,397.1 297.6,397 298.4,397 299.2,396.9 300,396.8 300.8,396.6 301.6,396.5 302.4,396.4 303.2,396.3 304,396.1 304.8,395.9 305.6,395.7 306.4,395.5 307.2,395.2 308,394.9 308.8,394.5 309.6,394.1 310.4,393.6 311.2,393 312,392.3 312.8,391.5 313.6,390.5 314.4,389.4 315.2,388.1 316,386.6 316.8,384.9 317.6,383 318.4,380.8 319.2,378.4 320,375.8 320.8,372.9 321.6,369.8 322.4,366.6 323.2,363.2 324,359.7 324.8,356.1 325.6,352.7 326.4,349.3 327.2,346.2 328,343.5 328.8,341.3 329.6,339.7 330.4,338.9 331.2,338.8 332,339.4 332.8,340.7 333.6,342.7 334.4,345.2 335.2,348.1 336,351.4 336.8,355 337.6,358.7 338.4,362.5 339.2,366.3 340,370 340.8,373.5 341.6,376.9 342.4,380 343.2,382.9 344,385.6 344.8,388 345.6,390.1 346.4,392 347.2,393.6 348,395.1 348.8,396.3 349.6,397.4 350.4,398.4 351.2,399.2 352,400.1 352.8,400.9 353.6,401.7 354.4,402.4 355.2,403.1 356,403.7 356.8,404.4 357.6,404.9 358.4,405.4 359.2,405.9 360,406.2 360.8,406.5 361.6,406.8 362.4,407.1 363.2,407.4 364,407.6 364.8,407.8 365.6,408.1 366.4,408.3 367.2,408.5 368,408.7 368.8,408.9 369.6,409 370.4,409.2 371.2,409.4 372,409.6 372.8,409.7 373.6,409.9 374.4,410 375.2,410.2 376,410.3 376.8,410.5 377.6,410.6 378.4,410.8 379.2,410.9 380,411.1 380.8,411.2 381.6,411.4 382.4,411.6 383.2,411.7 384,411.9 384.8,412 385.6,412.2 386.4,412.3 387.2,412.5 388,412.6 388.8,412.6" fill="none" stroke="#a9bccb" stroke-width="0.8"/>
<path d="M285.6,398 286.4,397.9 287.2,397.9 288,397.8 288.8,397.8 289.6,397.7 290.4,397.7 291.2,397.6 292,397.5 292.8,397.5 293.6,397.4 294.4,397.3 295.2,397.3 296,397.2 296.8,397.1 297.6,397 298.4,397 299.2,396.9 300,396.8 300.8,396.6 301.6,396.5 302.4,396.4 303.2,396.3 304,396.1 304.8,395.9 305.6,395.7 306.4,395.5 307.2,395.2 308,394.9 308.8,394.5 309.6,394.1 310.4,393.6 311.2,393 312,392.3 312.8,391.5 313.6,390.5 314.4,389.4 315.2,388.1 316,386.6 316.8,384.9 317.6,383 318.4,380.8 319.2,378.4 320,375.8 320.8,372.9 321.6,369.8 322.4,366.6 323.2,363.2 324,359.6 324.8,356.1 325.6,352.6 326.4,349.2 327.2,346.1 328,343.4 328.8,341.1 329.6,339.5 330.4,338.5 331.2,338.2 332,338.7 332.8,339.8 333.6,341.5 334.4,343.7 335.2,346.2 336,349 336.8,351.9 337.6,354.8 338.4,357.6 339.2,360.2 340,362.5 340.8,364.5 341.6,365.9 342.4,366.8 343.2,367.2 344,366.9 344.8,366 345.6,364.4 346.4,362.2 347.2,359.3 348,355.9 348.8,351.8 349.6,347.3 350.4,342.3 351.2,337 352,331.4 352.8,325.8 353.6,320 354.4,314.3 355.2,308.8 356,303.5 356.8,298.5 357.6,294 358.4,290 359.2,286.7 360,284 360.8,282.1 361.6,281.1 362.4,280.9 363.2,281.8 364,283.9 364.8,287.1 365.6,291.3 366.4,296.3 367.2,302.2 368,308.6 368.8,315.4 369.6,322.5 370.4,329.8 371.2,337 372,344.1 372.8,351 373.6,357.6 374.4,363.8 375.2,369.6 376,375 376.8,379.9 377.6,384.3 378.4,388.2 379.2,391.6 380,394.7 380.8,397.3 381.6,399.6 382.4,401.6 383.2,403.3 384,404.7 384.8,406 385.6,407 386.4,407.8 387.2,408.5 388,409.1 388.8,409.6 389.6,410 390.4,410.3 391.2,410.5 392,410.7 392.8,410.9 393.6,411 394.4,411.1 395.2,411.2 396,411.3 396.8,411.4 397.6,411.5 398.4,411.6 399.2,411.7 400,411.7 400.8,411.8 401.6,411.8 402.4,411.9 403.2,411.9 404,412 404.8,412 405.6,412.1 406.4,412.1 407.2,412.2 408,412.2 408.8,412.2 409.6,412.3 410.4,412.3 411.2,412.3 412,412.3" fill="none" stroke="#7f6553" stroke-width="1.3"/>
<path d="M285.6,399 286.4,399 287.2,399 288,399 288.8,399 289.6,398.9 290.4,398.9 291.2,398.9 292,398.9 292.8,398.9 293.6,398.9 294.4,398.9 295.2,398.9 296,398.9 296.8,398.9 297.6,398.9 298.4,398.9 299.2,398.9 300,398.9 300.8,398.9 301.6,398.9 302.4,398.9 303.2,398.9 304,398.9 304.8,398.9 305.6,398.9 306.4,398.9 307.2,398.9 308,398.9 308.8,399 309.6,399 310.4,399 311.2,399 312,399 312.8,399 313.6,399 314.4,399 315.2,399.1 316,399.1 316.8,399.1 317.6,399.1 318.4,399.1 319.2,399.2 320,399.2 320.8,399.2 321.6,399.2 322.4,399.2 323.2,399.3 324,399.3 324.8,399.3 325.6,399.3 326.4,399.4 327.2,399.4 328,399.4 328.8,399.5 329.6,399.5 330.4,399.5 331.2,399.6 332,399.6 332.8,399.7 333.6,399.7 334.4,399.8 335.2,399.9 336,399.9 336.8,400 337.6,400.1 338.4,400.2 339.2,400.4 340,400.5 340.8,400.6 341.6,400.7 342.4,400.9 343.2,401 344,401.2 344.8,401.3 345.6,401.5 346.4,401.7 347.2,401.8 348,402 348.8,402.2 349.6,402.4 350.4,402.6 351.2,402.9 352,403.2 352.8,403.6 353.6,404 354.4,404.5 355.2,405 356,405.4 356.8,405.9 357.6,406.3 358.4,406.8 359.2,407.1 360,407.4 360.8,407.6 361.6,407.9 362.4,408.1 363.2,408.3 364,408.5 364.8,408.7 365.6,408.9 366.4,409 367.2,409.2 368,409.4 368.8,409.5 369.6,409.7 370.4,409.8 371.2,410 372,410.1 372.8,410.3 373.6,410.4 374.4,410.6 375.2,410.7 376,410.8 376.8,411 377.6,411.1 378.4,411.2 379.2,411.4 380,411.5 380.8,411.6 381.6,411.8 382.4,411.9 383.2,412.1 384,412.2 384.8,412.4 385.6,412.5 386.4,412.7 387.2,412.8 388,412.9 388.8,412.9 389.6,413 390.4,413 391.2,413 392,413 392.8,413 393.6,413.1 394.4,413.1 395.2,413.1 396,413.1 396.8,413.1 397.6,413.1 398.4,413.1 399.2,413.1 400,413.1 400.8,413.1 401.6,413.2 402.4,413.2 403.2,413.2 404,413.2 404.8,413.2 405.6,413.2 406.4,413.2 407.2,413.2 408,413.2 408.8,413.2 409.6,413.2 410.4,413.2 411.2,413.2 412,413.2" fill="none" stroke="#3a3a3a" stroke-width="1.3"/>
</g>
<line x1="306.3" y1="427.7" x2="306.3" y2="424.2" stroke="#4a4a4a" stroke-width="1.15"/>
<text x="306.3" y="442.0" font-size="12.4" text-anchor="middle">355</text>
<line x1="327.5" y1="427.7" x2="327.5" y2="425.5" stroke="#4a4a4a" stroke-width="1.15"/>
<line x1="348.7" y1="427.7" x2="348.7" y2="424.2" stroke="#4a4a4a" stroke-width="1.15"/>
<text x="348.7" y="442.0" font-size="12.4" text-anchor="middle">350</text>
<line x1="369.9" y1="427.7" x2="369.9" y2="425.5" stroke="#4a4a4a" stroke-width="1.15"/>
<line x1="391.1" y1="427.7" x2="391.1" y2="424.2" stroke="#4a4a4a" stroke-width="1.15"/>
<text x="391.1" y="442.0" font-size="12.4" text-anchor="middle">345</text>
<text x="286.1" y="249.2" font-size="12.6">15°C</text>
<clipPath id="bc3"><rect x="412.3" y="237.4" width="127.3" height="190.3"/></clipPath>
<g clip-path="url(#bc3)">
<path d="M412.8,396.2 413.6,396.2 414.4,396.2 415.2,396.1 416,396.1 416.8,396.1 417.6,396.1 418.4,396.1 419.2,396.1 420,396.1 420.8,396.1 421.6,396.1 422.4,396.1 423.2,396 424,396 424.8,396 425.6,396 426.4,395.9 427.2,395.9 428,395.8 428.8,395.7 429.6,395.5 430.4,395.4 431.2,395.1 432,394.8 432.8,394.5 433.6,394 434.4,393.4 435.2,392.6 436,391.7 436.8,390.6 437.6,389.3 438.4,387.7 439.2,385.8 440,383.7 440.8,381.2 441.6,378.4 442.4,375.3 443.2,371.8 444,368 444.8,364 445.6,359.8 446.4,355.4 447.2,351 448,346.6 448.8,342.3 449.6,338.2 450.4,334.5 451.2,331.2 452,328.4 452.8,326.3 453.6,324.8 454.4,324.2 455.2,324.2 456,325.1 456.8,326.7 457.6,329 458.4,331.8 459.2,335.2 460,339 460.8,343.1 461.6,347.4 462.4,351.7 463.2,356 464,360 464.8,363.7 465.6,366.9 466.4,369.6 467.2,371.7 468,373.1 468.8,373.6 469.6,373.3 470.4,372.1 471.2,369.9 472,366.7 472.8,362.6 473.6,357.5 474.4,351.4 475.2,344.5 476,336.8 476.8,328.5 477.6,319.7 478.4,310.7 479.2,301.5 480,292.6 480.8,284.1 481.6,276.3 482.4,269.4 483.2,263.7 484,259.4 484.8,256.6 485.6,255.4 486.4,255.9 487.2,258.1 488,261.8 488.8,266.9 489.6,273.4 490.4,281 491.2,289.5 492,298.6 492.8,308.1 493.6,317.9 494.4,327.5 495.2,337 496,346.1 496.8,354.7 497.6,362.6 498.4,369.9 499.2,376.4 500,382.2 500.8,387.2 501.6,391.5 502.4,395.1 503.2,398.2 504,400.7 504.8,402.8 505.6,404.4 506.4,405.8 507.2,406.8 508,407.6 508.8,408.3 509.6,408.7 510.4,409.1 511.2,409.4 512,409.6 512.8,409.7 513.6,409.8 514.4,409.9 515.2,410 516,410 516.8,410 517.6,410.1 518.4,410.1 519.2,410.1 520,410.1 520.8,410.1 521.6,410.1 522.4,410.2 523.2,410.2 524,410.2 524.8,410.2 525.6,410.2 526.4,410.2 527.2,410.2 528,410.2 528.8,410.2 529.6,410.2 530.4,410.2 531.2,410.3 532,410.3 532.8,410.3 533.6,410.3 534.4,410.3 535.2,410.3 536,410.3 536.8,410.3 537.6,410.3 538.4,410.3 539.2,410.3 539.2,410.3 538.4,410.3 537.6,410.3 536.8,410.3 536,410.3 535.2,410.3 534.4,410.3 533.6,410.3 532.8,410.3 532,410.3 531.2,410.3 530.4,410.3 529.6,410.3 528.8,410.3 528,410.3 527.2,410.2 526.4,410.2 525.6,410.2 524.8,410.2 524,410.2 523.2,410.2 522.4,410.2 521.6,410.2 520.8,410.2 520,410.2 519.2,410.2 518.4,410.1 517.6,410.1 516.8,410.1 516,410.1 515.2,410.1 514.4,410.1 513.6,410.1 512.8,410.1 512,410 511.2,410 510.4,410 509.6,410 508.8,410 508,410 507.2,409.9 506.4,409.9 505.6,409.9 504.8,409.8 504,409.8 503.2,409.7 502.4,409.7 501.6,409.6 500.8,409.6 500,409.5 499.2,409.3 498.4,409.1 497.6,409 496.8,408.8 496,408.6 495.2,408.4 494.4,408.2 493.6,407.9 492.8,407.7 492,407.4 491.2,407.1 490.4,406.9 489.6,406.6 488.8,406.3 488,406 487.2,405.7 486.4,405.4 485.6,405.1 484.8,404.8 484,404.5 483.2,404.3 482.4,404 481.6,403.8 480.8,403.5 480,403.3 479.2,403 478.4,402.8 477.6,402.5 476.8,402.3 476,402 475.2,401.8 474.4,401.6 473.6,401.4 472.8,401.1 472,400.9 471.2,400.8 470.4,400.6 469.6,400.4 468.8,400.3 468,400.1 467.2,400 466.4,399.8 465.6,399.7 464.8,399.5 464,399.4 463.2,399.3 462.4,399.1 461.6,399 460.8,398.9 460,398.7 459.2,398.6 458.4,398.5 457.6,398.4 456.8,398.3 456,398.2 455.2,398.1 454.4,398 453.6,397.9 452.8,397.8 452,397.7 451.2,397.6 450.4,397.5 449.6,397.5 448.8,397.4 448,397.3 447.2,397.2 446.4,397.1 445.6,397.1 444.8,397 444,396.9 443.2,396.8 442.4,396.8 441.6,396.7 440.8,396.6 440,396.6 439.2,396.5 438.4,396.5 437.6,396.4 436.8,396.4 436,396.3 435.2,396.3 434.4,396.3 433.6,396.3 432.8,396.3 432,396.3 431.2,396.3 430.4,396.3 429.6,396.3 428.8,396.3 428,396.3 427.2,396.3 426.4,396.3 425.6,396.3 424.8,396.3 424,396.3 423.2,396.3 422.4,396.3 421.6,396.3 420.8,396.3 420,396.3 419.2,396.3 418.4,396.3 417.6,396.3 416.8,396.3 416,396.3 415.2,396.3 414.4,396.3 413.6,396.3 412.8,396.3Z" fill="#fdf5f5"/>
<path d="M459.2,398.3 460,398.3 460.8,398.2 461.6,398.1 462.4,397.9 463.2,397.6 464,397.1 464.8,396.5 465.6,395.6 466.4,394.5 467.2,393 468,391.2 468.8,388.8 469.6,386 470.4,382.5 471.2,378.4 472,373.7 472.8,368.1 473.6,361.9 474.4,354.9 475.2,347.3 476,339 476.8,330.2 477.6,321 478.4,311.7 479.2,302.3 480,293.2 480.8,284.6 481.6,276.7 482.4,269.7 483.2,264 484,259.6 484.8,256.8 485.6,255.6 486.4,256.1 487.2,258.2 488,261.9 488.8,267.1 489.6,273.5 490.4,281.1 491.2,289.6 492,298.7 492.8,308.2 493.6,317.9 494.4,327.6 495.2,337.1 496,346.2 496.8,354.8 497.6,362.7 498.4,370 499.2,376.5 500,382.3 500.8,387.3 501.6,391.6 502.4,395.2 503.2,398.2 504,400.8 504.8,402.8 505.6,404.5 506.4,405.8 507.2,406.9 508,407.7 508.8,408.3 509.6,408.8 510.4,409.1 511.2,409.4 512,409.6 512.8,409.7 512.8,410.1 512,410 511.2,410 510.4,410 509.6,410 508.8,410 508,410 507.2,409.9 506.4,409.9 505.6,409.9 504.8,409.8 504,409.8 503.2,409.7 502.4,409.7 501.6,409.6 500.8,409.6 500,409.5 499.2,409.3 498.4,409.1 497.6,409 496.8,408.8 496,408.6 495.2,408.4 494.4,408.2 493.6,407.9 492.8,407.7 492,407.4 491.2,407.1 490.4,406.9 489.6,406.6 488.8,406.3 488,406 487.2,405.7 486.4,405.4 485.6,405.1 484.8,404.8 484,404.5 483.2,404.3 482.4,404 481.6,403.8 480.8,403.5 480,403.3 479.2,403 478.4,402.8 477.6,402.5 476.8,402.3 476,402 475.2,401.8 474.4,401.6 473.6,401.4 472.8,401.1 472,400.9 471.2,400.8 470.4,400.6 469.6,400.4 468.8,400.3 468,400.1 467.2,400 466.4,399.8 465.6,399.7 464.8,399.5 464,399.4 463.2,399.3 462.4,399.1 461.6,399 460.8,398.9 460,398.7 459.2,398.6Z" fill="#f9dcc4"/>
<path d="M425.6,396 426.4,395.9 427.2,395.9 428,395.8 428.8,395.7 429.6,395.6 430.4,395.4 431.2,395.1 432,394.8 432.8,394.5 433.6,394 434.4,393.4 435.2,392.6 436,391.7 436.8,390.6 437.6,389.3 438.4,387.7 439.2,385.9 440,383.7 440.8,381.2 441.6,378.4 442.4,375.3 443.2,371.8 444,368.1 444.8,364 445.6,359.8 446.4,355.5 447.2,351 448,346.6 448.8,342.3 449.6,338.2 450.4,334.5 451.2,331.2 452,328.4 452.8,326.3 453.6,324.9 454.4,324.2 455.2,324.3 456,325.2 456.8,326.8 457.6,329.1 458.4,332.1 459.2,335.6 460,339.5 460.8,343.8 461.6,348.3 462.4,352.9 463.2,357.6 464,362.2 464.8,366.7 465.6,370.9 466.4,374.9 467.2,378.6 468,382 468.8,385 469.6,387.8 470.4,390.1 471.2,392.2 472,394 472.8,395.6 473.6,396.9 474.4,398.1 475.2,399.1 476,399.9 476.8,400.6 477.6,401.2 478.4,401.8 479.2,402.2 480,402.7 480.8,403 481.6,403.4 482.4,403.7 482.4,404 481.6,403.8 480.8,403.5 480,403.3 479.2,403 478.4,402.8 477.6,402.5 476.8,402.3 476,402 475.2,401.8 474.4,401.6 473.6,401.4 472.8,401.1 472,400.9 471.2,400.8 470.4,400.6 469.6,400.4 468.8,400.3 468,400.1 467.2,400 466.4,399.8 465.6,399.7 464.8,399.5 464,399.4 463.2,399.3 462.4,399.1 461.6,399 460.8,398.9 460,398.7 459.2,398.6 458.4,398.5 457.6,398.4 456.8,398.3 456,398.2 455.2,398.1 454.4,398 453.6,397.9 452.8,397.8 452,397.7 451.2,397.6 450.4,397.5 449.6,397.5 448.8,397.4 448,397.3 447.2,397.2 446.4,397.1 445.6,397.1 444.8,397 444,396.9 443.2,396.8 442.4,396.8 441.6,396.7 440.8,396.6 440,396.6 439.2,396.5 438.4,396.5 437.6,396.4 436.8,396.4 436,396.3 435.2,396.3 434.4,396.3 433.6,396.3 432.8,396.3 432,396.3 431.2,396.3 430.4,396.3 429.6,396.3 428.8,396.3 428,396.3 427.2,396.3 426.4,396.3 425.6,396.3Z" fill="rgba(200,224,234,0.85)"/>
<path d="M459.2,398.3 460,398.3 460.8,398.2 461.6,398.1 462.4,397.9 463.2,397.6 464,397.1 464.8,396.5 465.6,395.6 466.4,394.5 467.2,393 468,391.2 468.8,388.8 469.6,386 470.4,382.5 471.2,378.4 472,373.7 472.8,368.1 473.6,361.9 474.4,354.9 475.2,347.3 476,339 476.8,330.2 477.6,321 478.4,311.7 479.2,302.3 480,293.2 480.8,284.6 481.6,276.7 482.4,269.7 483.2,264 484,259.6 484.8,256.8 485.6,255.6 486.4,256.1 487.2,258.2 488,261.9 488.8,267.1 489.6,273.5 490.4,281.1 491.2,289.6 492,298.7 492.8,308.2 493.6,317.9 494.4,327.6 495.2,337.1 496,346.2 496.8,354.8 497.6,362.7 498.4,370 499.2,376.5 500,382.3 500.8,387.3 501.6,391.6 502.4,395.2 503.2,398.2 504,400.8 504.8,402.8 505.6,404.5 506.4,405.8 507.2,406.9 508,407.7 508.8,408.3 509.6,408.8 510.4,409.1 511.2,409.4 512,409.6 512.8,409.7" fill="none" stroke="#d9b49c" stroke-width="0.8"/>
<path d="M425.6,396 426.4,395.9 427.2,395.9 428,395.8 428.8,395.7 429.6,395.6 430.4,395.4 431.2,395.1 432,394.8 432.8,394.5 433.6,394 434.4,393.4 435.2,392.6 436,391.7 436.8,390.6 437.6,389.3 438.4,387.7 439.2,385.9 440,383.7 440.8,381.2 441.6,378.4 442.4,375.3 443.2,371.8 444,368.1 444.8,364 445.6,359.8 446.4,355.5 447.2,351 448,346.6 448.8,342.3 449.6,338.2 450.4,334.5 451.2,331.2 452,328.4 452.8,326.3 453.6,324.9 454.4,324.2 455.2,324.3 456,325.2 456.8,326.8 457.6,329.1 458.4,332.1 459.2,335.6 460,339.5 460.8,343.8 461.6,348.3 462.4,352.9 463.2,357.6 464,362.2 464.8,366.7 465.6,370.9 466.4,374.9 467.2,378.6 468,382 468.8,385 469.6,387.8 470.4,390.1 471.2,392.2 472,394 472.8,395.6 473.6,396.9 474.4,398.1 475.2,399.1 476,399.9 476.8,400.6 477.6,401.2 478.4,401.8 479.2,402.2 480,402.7 480.8,403 481.6,403.4 482.4,403.7" fill="none" stroke="#a9bccb" stroke-width="0.8"/>
<path d="M412.8,396.2 413.6,396.2 414.4,396.2 415.2,396.1 416,396.1 416.8,396.1 417.6,396.1 418.4,396.1 419.2,396.1 420,396.1 420.8,396.1 421.6,396.1 422.4,396.1 423.2,396 424,396 424.8,396 425.6,396 426.4,395.9 427.2,395.9 428,395.8 428.8,395.7 429.6,395.5 430.4,395.4 431.2,395.1 432,394.8 432.8,394.5 433.6,394 434.4,393.4 435.2,392.6 436,391.7 436.8,390.6 437.6,389.3 438.4,387.7 439.2,385.8 440,383.7 440.8,381.2 441.6,378.4 442.4,375.3 443.2,371.8 444,368 444.8,364 445.6,359.8 446.4,355.4 447.2,351 448,346.6 448.8,342.3 449.6,338.2 450.4,334.5 451.2,331.2 452,328.4 452.8,326.3 453.6,324.8 454.4,324.2 455.2,324.2 456,325.1 456.8,326.7 457.6,329 458.4,331.8 459.2,335.2 460,339 460.8,343.1 461.6,347.4 462.4,351.7 463.2,356 464,360 464.8,363.7 465.6,366.9 466.4,369.6 467.2,371.7 468,373.1 468.8,373.6 469.6,373.3 470.4,372.1 471.2,369.9 472,366.7 472.8,362.6 473.6,357.5 474.4,351.4 475.2,344.5 476,336.8 476.8,328.5 477.6,319.7 478.4,310.7 479.2,301.5 480,292.6 480.8,284.1 481.6,276.3 482.4,269.4 483.2,263.7 484,259.4 484.8,256.6 485.6,255.4 486.4,255.9 487.2,258.1 488,261.8 488.8,266.9 489.6,273.4 490.4,281 491.2,289.5 492,298.6 492.8,308.1 493.6,317.9 494.4,327.5 495.2,337 496,346.1 496.8,354.7 497.6,362.6 498.4,369.9 499.2,376.4 500,382.2 500.8,387.2 501.6,391.5 502.4,395.1 503.2,398.2 504,400.7 504.8,402.8 505.6,404.4 506.4,405.8 507.2,406.8 508,407.6 508.8,408.3 509.6,408.7 510.4,409.1 511.2,409.4 512,409.6 512.8,409.7 513.6,409.8 514.4,409.9 515.2,410 516,410 516.8,410 517.6,410.1 518.4,410.1 519.2,410.1 520,410.1 520.8,410.1 521.6,410.1 522.4,410.2 523.2,410.2 524,410.2 524.8,410.2 525.6,410.2 526.4,410.2 527.2,410.2 528,410.2 528.8,410.2 529.6,410.2 530.4,410.2 531.2,410.3 532,410.3 532.8,410.3 533.6,410.3 534.4,410.3 535.2,410.3 536,410.3 536.8,410.3 537.6,410.3 538.4,410.3 539.2,410.3" fill="none" stroke="#7f6553" stroke-width="1.3"/>
<path d="M412.8,396.3 413.6,396.3 414.4,396.3 415.2,396.3 416,396.3 416.8,396.3 417.6,396.3 418.4,396.3 419.2,396.3 420,396.3 420.8,396.3 421.6,396.3 422.4,396.3 423.2,396.3 424,396.3 424.8,396.3 425.6,396.3 426.4,396.3 427.2,396.3 428,396.3 428.8,396.3 429.6,396.3 430.4,396.3 431.2,396.3 432,396.3 432.8,396.3 433.6,396.3 434.4,396.3 435.2,396.3 436,396.3 436.8,396.4 437.6,396.4 438.4,396.5 439.2,396.5 440,396.6 440.8,396.6 441.6,396.7 442.4,396.8 443.2,396.8 444,396.9 444.8,397 445.6,397.1 446.4,397.1 447.2,397.2 448,397.3 448.8,397.4 449.6,397.5 450.4,397.5 451.2,397.6 452,397.7 452.8,397.8 453.6,397.9 454.4,398 455.2,398.1 456,398.2 456.8,398.3 457.6,398.4 458.4,398.5 459.2,398.6 460,398.7 460.8,398.9 461.6,399 462.4,399.1 463.2,399.3 464,399.4 464.8,399.5 465.6,399.7 466.4,399.8 467.2,400 468,400.1 468.8,400.3 469.6,400.4 470.4,400.6 471.2,400.8 472,400.9 472.8,401.1 473.6,401.4 474.4,401.6 475.2,401.8 476,402 476.8,402.3 477.6,402.5 478.4,402.8 479.2,403 480,403.3 480.8,403.5 481.6,403.8 482.4,404 483.2,404.3 484,404.5 484.8,404.8 485.6,405.1 486.4,405.4 487.2,405.7 488,406 488.8,406.3 489.6,406.6 490.4,406.9 491.2,407.1 492,407.4 492.8,407.7 493.6,407.9 494.4,408.2 495.2,408.4 496,408.6 496.8,408.8 497.6,409 498.4,409.1 499.2,409.3 500,409.5 500.8,409.6 501.6,409.6 502.4,409.7 503.2,409.7 504,409.8 504.8,409.8 505.6,409.9 506.4,409.9 507.2,409.9 508,410 508.8,410 509.6,410 510.4,410 511.2,410 512,410 512.8,410.1 513.6,410.1 514.4,410.1 515.2,410.1 516,410.1 516.8,410.1 517.6,410.1 518.4,410.1 519.2,410.2 520,410.2 520.8,410.2 521.6,410.2 522.4,410.2 523.2,410.2 524,410.2 524.8,410.2 525.6,410.2 526.4,410.2 527.2,410.2 528,410.3 528.8,410.3 529.6,410.3 530.4,410.3 531.2,410.3 532,410.3 532.8,410.3 533.6,410.3 534.4,410.3 535.2,410.3 536,410.3 536.8,410.3 537.6,410.3 538.4,410.3 539.2,410.3" fill="none" stroke="#3a3a3a" stroke-width="1.3"/>
</g>
<line x1="433.5" y1="427.7" x2="433.5" y2="424.2" stroke="#4a4a4a" stroke-width="1.15"/>
<text x="433.5" y="442.0" font-size="12.4" text-anchor="middle">355</text>
<line x1="454.8" y1="427.7" x2="454.8" y2="425.5" stroke="#4a4a4a" stroke-width="1.15"/>
<line x1="476" y1="427.7" x2="476" y2="424.2" stroke="#4a4a4a" stroke-width="1.15"/>
<text x="476" y="442.0" font-size="12.4" text-anchor="middle">350</text>
<line x1="497.2" y1="427.7" x2="497.2" y2="425.5" stroke="#4a4a4a" stroke-width="1.15"/>
<line x1="518.4" y1="427.7" x2="518.4" y2="424.2" stroke="#4a4a4a" stroke-width="1.15"/>
<text x="518.4" y="442.0" font-size="12.4" text-anchor="middle">345</text>
<text x="413.3" y="249.2" font-size="12.6">20°C</text>
<!-- frames -->
<rect x="24.5" y="3.9" width="512.8" height="188.9" fill="none" stroke="#4a4a4a" stroke-width="1.2"/>
<line x1="152.7" y1="3.9" x2="152.7" y2="192.8" stroke="#4a4a4a" stroke-width="1.2"/>
<line x1="280.9" y1="3.9" x2="280.9" y2="192.8" stroke="#4a4a4a" stroke-width="1.2"/>
<line x1="409.1" y1="3.9" x2="409.1" y2="192.8" stroke="#4a4a4a" stroke-width="1.2"/>
<rect x="30.5" y="237.4" width="509.1" height="190.3" fill="none" stroke="#4a4a4a" stroke-width="1.2"/>
<line x1="157.8" y1="237.4" x2="157.8" y2="427.7" stroke="#4a4a4a" stroke-width="1.2"/>
<line x1="285.1" y1="237.4" x2="285.1" y2="427.7" stroke="#4a4a4a" stroke-width="1.2"/>
<line x1="412.3" y1="237.4" x2="412.3" y2="427.7" stroke="#4a4a4a" stroke-width="1.2"/>
<!-- labels -->
<text x="3.2" y="14.7" font-size="12.5">(a)</text>
<text x="11.4" y="249.6" font-size="12.8">(b)</text>
<text x="281.7" y="221.4" font-size="12.6" text-anchor="middle">Binding Energy (eV)</text>
<text x="285.5" y="455" font-size="12.6" text-anchor="middle">Binding Energy (eV)</text>
<text x="0" y="0" font-size="12.4" text-anchor="middle" transform="translate(15.3,98.3) rotate(-90)">Intensity (a.u.)</text>
<text x="0" y="0" font-size="12.7" text-anchor="middle" transform="translate(21.1,332.4) rotate(-90)">Intensity (a.u.)</text>
<!-- top legend -->
<line x1="25.5" y1="23.8" x2="51.2" y2="23.8" stroke="#555" stroke-width="1.2" stroke-dasharray="1.2,3.7"/>
<line x1="25.5" y1="38" x2="52.5" y2="38" stroke="#8a7564" stroke-width="1.4"/>
<line x1="25.5" y1="52.3" x2="52.5" y2="52.3" stroke="#d6c8b6" stroke-width="1.2"/>
<line x1="25.5" y1="66.5" x2="52.5" y2="66.5" stroke="#b4c2ca" stroke-width="1.2"/>
<line x1="25.5" y1="81" x2="52.5" y2="81" stroke="#9c8c7a" stroke-width="1.5"/>
<rect x="26" y="88" width="27" height="11" fill="#e8e1c2"/>
<rect x="26" y="102.5" width="27" height="10" fill="#d9dce7"/>
<text x="55.7" y="27.8" font-size="11.7">Experimental curve</text>
<text x="55.7" y="41.9" font-size="11.7">Fitting curve</text>
<text x="55.7" y="56.1" font-size="11.7">Peak 1</text>
<text x="55.7" y="70.4" font-size="11.7">Peak 2</text>
<text x="55.7" y="84.7" font-size="11.7">Peak 3</text>
<text x="55.7" y="98.9" font-size="11.7">BO</text>
<text x="55.7" y="113" font-size="11.7">NBO</text>
<!-- top annotations -->
<text x="43.1" y="136.4" font-size="12.5">BO</text>
<text x="42.7" y="151.8" font-size="12.6">(55.98%)</text>
<text x="119.7" y="134.4" font-size="12.5">NBO</text>
<text x="119.0" y="149.7" font-size="12.6">(24.01%)</text>
<text x="172.2" y="113.6" font-size="12.5">BO</text>
<text x="171.2" y="128.6" font-size="12.6">(72.08%)</text>
<text x="248.2" y="139.2" font-size="12.5">NBO</text>
<text x="247.3" y="153.8" font-size="12.6">(22.67%)</text>
<text x="296" y="88.7" font-size="12.5">BO</text>
<text x="295.5" y="103.8" font-size="12.6">(71.57%)</text>
<text x="375.9" y="135.6" font-size="12.5">NBO</text>
<text x="375.5" y="151.3" font-size="12.6">(9.84%)</text>
<text x="422.2" y="80.3" font-size="12.5">BO</text>
<text x="421.3" y="95" font-size="12.6">(74.53%)</text>
<text x="501.6" y="129.2" font-size="12.5">NBO</text>
<text x="501.2" y="144.4" font-size="12.6">(16.48%)</text>
<!-- bottom legend -->
<line x1="32.5" y1="257.8" x2="57" y2="257.8" stroke="#555" stroke-width="1.2" stroke-dasharray="1.2,4.6"/>
<line x1="32" y1="272.5" x2="59" y2="272.5" stroke="#8c6a4a" stroke-width="1.4"/>
<line x1="32" y1="287" x2="59" y2="287" stroke="#e0c4b4" stroke-width="1.4"/>
<line x1="32" y1="301.5" x2="59" y2="301.5" stroke="#a8c0cc" stroke-width="1.2"/>
<rect x="33" y="310" width="25" height="11.5" fill="#eedcba"/>
<rect x="33" y="324" width="25" height="12" fill="#d6dde6"/>
<text x="61.8" y="262.2" font-size="11.7">Experimental curve</text>
<text x="61.8" y="276.5" font-size="11.7">Fitting curve</text>
<text x="61.8" y="290.8" font-size="11.7">Peak 1</text>
<text x="61.8" y="305.1" font-size="11.7">Peak 2</text>
<text x="61.8" y="319.5" font-size="11.7">Ca 2p<tspan font-size="8" dy="2.5">2/3</tspan></text>
<text x="61.8" y="334" font-size="11.7">Ca 2p<tspan font-size="8" dy="2.5">1/2</tspan></text>
<!-- bottom annotations -->
<text x="107.6" y="311.6" font-size="12.5">Ca 2p<tspan font-size="8.2" dy="2.6">2/3</tspan></text>
<text x="107.3" y="329.6" font-size="12.6">(70.44%)</text>
<text x="30.7" y="384.6" font-size="12.5">Ca 2p<tspan font-size="8.2" dy="2.6">1/2</tspan></text>
<text x="30.4" y="402.8" font-size="12.6">(29.56%)</text>
<text x="186.9" y="311.4" font-size="12.5">Ca 2p<tspan font-size="8.2" dy="2.6">2/3</tspan></text>
<text x="186.3" y="330.1" font-size="12.6">(70.52%)</text>
<text x="157.6" y="346.8" font-size="12.5">Ca 2p<tspan font-size="8.2" dy="2.6">1/2</tspan></text>
<text x="157.6" y="365.5" font-size="12.6">(29.48%)</text>
<text x="310.7" y="277.5" font-size="12.5">Ca 2p<tspan font-size="8.2" dy="2.6">2/3</tspan></text>
<text x="310.4" y="295.9" font-size="12.6">(67.06%)</text>
<text x="285.7" y="317.2" font-size="12.5">Ca 2p<tspan font-size="8.2" dy="2.6">1/2</tspan></text>
<text x="285.4" y="335.2" font-size="12.6">(32.94%)</text>
<text x="434.8" y="262.8" font-size="12.5">Ca 2p<tspan font-size="8.2" dy="2.6">2/3</tspan></text>
<text x="434.5" y="281" font-size="12.6">(65.38%)</text>
<text x="412.7" y="303" font-size="12.5">Ca 2p<tspan font-size="8.2" dy="2.6">1/2</tspan></text>
<text x="412.4" y="322.2" font-size="12.6">(34.62%)</text>

</svg>
</body></html>
